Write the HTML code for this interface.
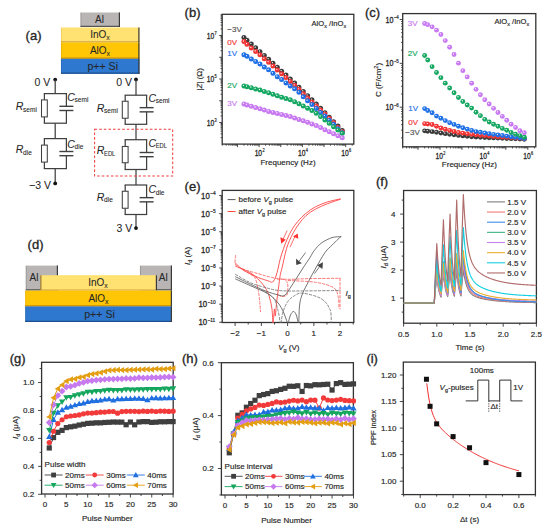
<!DOCTYPE html>
<html><head><meta charset="utf-8"><style>
html,body{margin:0;padding:0;background:#fff;overflow:hidden;}
svg{display:block;font-family:"Liberation Sans", sans-serif;}
</style></head><body>
<svg width="550" height="529" viewBox="0 0 550 529">
<rect width="550" height="529" fill="#fff"/>
<text x="25.60" y="39.90" font-size="13" text-anchor="start" fill="#262626" stroke="#262626" stroke-width="0.35">(a)</text>
<rect x="80.50" y="12.50" width="39.50" height="14.50" fill="#b9b5b5" stroke="none" stroke-width="1"/>
<line x1="80.50" y1="26.40" x2="120.00" y2="26.40" stroke="#555" stroke-width="1.2"/>
<line x1="119.40" y1="12.50" x2="119.40" y2="27.00" stroke="#3a3a3a" stroke-width="1.2"/>
<line x1="80.90" y1="12.50" x2="80.90" y2="27.00" stroke="#555" stroke-width="0.6" stroke-opacity="0.5"/>
<rect x="61.00" y="27.50" width="78.50" height="15.00" fill="#ffe272" stroke="none" stroke-width="1"/>
<line x1="61.00" y1="41.90" x2="139.50" y2="41.90" stroke="#d2a040" stroke-width="1.2"/>
<line x1="138.90" y1="27.50" x2="138.90" y2="42.50" stroke="#3a3a3a" stroke-width="1.2"/>
<line x1="61.40" y1="27.50" x2="61.40" y2="42.50" stroke="#d2a040" stroke-width="0.6" stroke-opacity="0.5"/>
<rect x="61.00" y="42.50" width="78.50" height="16.30" fill="#ffc606" stroke="none" stroke-width="1"/>
<line x1="61.00" y1="58.20" x2="139.50" y2="58.20" stroke="#c88a00" stroke-width="1.2"/>
<line x1="138.90" y1="42.50" x2="138.90" y2="58.80" stroke="#3a3a3a" stroke-width="1.2"/>
<line x1="61.40" y1="42.50" x2="61.40" y2="58.80" stroke="#c88a00" stroke-width="0.6" stroke-opacity="0.5"/>
<rect x="61.00" y="58.80" width="78.50" height="15.00" fill="#2f78cf" stroke="none" stroke-width="1"/>
<line x1="61.00" y1="73.20" x2="139.50" y2="73.20" stroke="#1c4f90" stroke-width="1.2"/>
<line x1="138.90" y1="58.80" x2="138.90" y2="73.80" stroke="#3a3a3a" stroke-width="1.2"/>
<line x1="61.40" y1="58.80" x2="61.40" y2="73.80" stroke="#1c4f90" stroke-width="0.6" stroke-opacity="0.5"/>
<text x="99.50" y="23.40" font-size="10" text-anchor="middle" fill="#262626" stroke="#262626" stroke-width="0.06">Al</text>
<text x="100.00" y="37.80" font-size="10" text-anchor="middle" fill="#262626" stroke="#262626" stroke-width="0.06">InO<tspan font-size="7" dy="2.5">x</tspan></text>
<text x="100.00" y="53.80" font-size="10" text-anchor="middle" fill="#262626" stroke="#262626" stroke-width="0.06">AlO<tspan font-size="7" dy="2.5">x</tspan></text>
<text x="102.70" y="69.80" font-size="10.6" text-anchor="middle" fill="#262626" stroke="#262626" stroke-width="0.06">p++ Si</text>
<circle cx="55.2" cy="79.6" r="1.9" fill="#111"/>
<line x1="55.20" y1="79.80" x2="55.20" y2="93.60" stroke="#404040" stroke-width="1.25"/>
<line x1="43.80" y1="93.60" x2="67.00" y2="93.60" stroke="#404040" stroke-width="1.25"/>
<line x1="43.80" y1="123.20" x2="67.00" y2="123.20" stroke="#404040" stroke-width="1.25"/>
<line x1="44.40" y1="93.60" x2="44.40" y2="99.90" stroke="#404040" stroke-width="1.25"/>
<line x1="44.40" y1="116.90" x2="44.40" y2="123.20" stroke="#404040" stroke-width="1.25"/>
<rect x="41.50" y="99.90" width="5.80" height="17.00" fill="white" stroke="#404040" stroke-width="1.05"/>
<line x1="66.40" y1="93.60" x2="66.40" y2="106.30" stroke="#404040" stroke-width="1.25"/>
<line x1="66.40" y1="110.50" x2="66.40" y2="123.20" stroke="#404040" stroke-width="1.25"/>
<line x1="59.40" y1="106.30" x2="73.40" y2="106.30" stroke="#404040" stroke-width="1.4"/>
<line x1="59.40" y1="110.50" x2="73.40" y2="110.50" stroke="#404040" stroke-width="1.4"/>
<line x1="55.20" y1="123.20" x2="55.20" y2="138.60" stroke="#404040" stroke-width="1.25"/>
<line x1="43.80" y1="138.60" x2="67.00" y2="138.60" stroke="#404040" stroke-width="1.25"/>
<line x1="43.80" y1="168.60" x2="67.00" y2="168.60" stroke="#404040" stroke-width="1.25"/>
<line x1="44.40" y1="138.60" x2="44.40" y2="145.10" stroke="#404040" stroke-width="1.25"/>
<line x1="44.40" y1="162.10" x2="44.40" y2="168.60" stroke="#404040" stroke-width="1.25"/>
<rect x="41.50" y="145.10" width="5.80" height="17.00" fill="white" stroke="#404040" stroke-width="1.05"/>
<line x1="66.40" y1="138.60" x2="66.40" y2="151.50" stroke="#404040" stroke-width="1.25"/>
<line x1="66.40" y1="155.70" x2="66.40" y2="168.60" stroke="#404040" stroke-width="1.25"/>
<line x1="59.40" y1="151.50" x2="73.40" y2="151.50" stroke="#404040" stroke-width="1.4"/>
<line x1="59.40" y1="155.70" x2="73.40" y2="155.70" stroke="#404040" stroke-width="1.4"/>
<line x1="55.20" y1="168.60" x2="55.20" y2="183.40" stroke="#404040" stroke-width="1.25"/>
<circle cx="55.2" cy="183.4" r="1.9" fill="#111"/>
<text x="34.50" y="86.30" font-size="10.5" text-anchor="start" fill="#262626" stroke="#262626" stroke-width="0.06">0 V</text>
<text x="29.00" y="188.50" font-size="10.5" text-anchor="start" fill="#262626" stroke="#262626" stroke-width="0.06">&#8722;3 V</text>
<text x="15.80" y="110.00" font-size="10.5" text-anchor="start" fill="#262626" stroke="#262626" stroke-width="0.06" font-style="italic">R</text>
<g transform="translate(23.08 111.80) scale(0.87 1)"><text x="0" y="0" font-size="7.5" fill="#262626" stroke="#262626" stroke-width="0.1">semi</text></g>
<text x="67.30" y="100.60" font-size="10.5" text-anchor="start" fill="#262626" stroke="#262626" stroke-width="0.06" font-style="italic">C</text>
<g transform="translate(74.58 102.40) scale(0.87 1)"><text x="0" y="0" font-size="7.5" fill="#262626" stroke="#262626" stroke-width="0.1">semi</text></g>
<text x="15.80" y="153.30" font-size="10.5" text-anchor="start" fill="#262626" stroke="#262626" stroke-width="0.06" font-style="italic">R</text>
<g transform="translate(23.08 155.10) scale(0.87 1)"><text x="0" y="0" font-size="7.5" fill="#262626" stroke="#262626" stroke-width="0.1">die</text></g>
<text x="67.30" y="147.60" font-size="10.5" text-anchor="start" fill="#262626" stroke="#262626" stroke-width="0.06" font-style="italic">C</text>
<g transform="translate(74.58 149.40) scale(0.87 1)"><text x="0" y="0" font-size="7.5" fill="#262626" stroke="#262626" stroke-width="0.1">die</text></g>
<circle cx="136.0" cy="79.4" r="1.9" fill="#111"/>
<line x1="136.00" y1="79.60" x2="136.00" y2="95.20" stroke="#404040" stroke-width="1.25"/>
<line x1="124.60" y1="95.20" x2="147.20" y2="95.20" stroke="#404040" stroke-width="1.25"/>
<line x1="124.60" y1="124.30" x2="147.20" y2="124.30" stroke="#404040" stroke-width="1.25"/>
<line x1="125.20" y1="95.20" x2="125.20" y2="101.25" stroke="#404040" stroke-width="1.25"/>
<line x1="125.20" y1="118.25" x2="125.20" y2="124.30" stroke="#404040" stroke-width="1.25"/>
<rect x="122.30" y="101.25" width="5.80" height="17.00" fill="white" stroke="#404040" stroke-width="1.05"/>
<line x1="146.60" y1="95.20" x2="146.60" y2="107.65" stroke="#404040" stroke-width="1.25"/>
<line x1="146.60" y1="111.85" x2="146.60" y2="124.30" stroke="#404040" stroke-width="1.25"/>
<line x1="139.60" y1="107.65" x2="153.60" y2="107.65" stroke="#404040" stroke-width="1.4"/>
<line x1="139.60" y1="111.85" x2="153.60" y2="111.85" stroke="#404040" stroke-width="1.4"/>
<line x1="136.00" y1="124.30" x2="136.00" y2="139.70" stroke="#404040" stroke-width="1.25"/>
<line x1="124.60" y1="139.70" x2="147.20" y2="139.70" stroke="#404040" stroke-width="1.25"/>
<line x1="124.60" y1="169.50" x2="147.20" y2="169.50" stroke="#404040" stroke-width="1.25"/>
<line x1="125.20" y1="139.70" x2="125.20" y2="146.45" stroke="#404040" stroke-width="1.25"/>
<line x1="125.20" y1="162.75" x2="125.20" y2="169.50" stroke="#404040" stroke-width="1.25"/>
<rect x="122.30" y="146.45" width="5.80" height="16.30" fill="white" stroke="#404040" stroke-width="1.05"/>
<line x1="146.60" y1="139.70" x2="146.60" y2="152.50" stroke="#404040" stroke-width="1.25"/>
<line x1="146.60" y1="156.70" x2="146.60" y2="169.50" stroke="#404040" stroke-width="1.25"/>
<line x1="139.60" y1="152.50" x2="153.60" y2="152.50" stroke="#404040" stroke-width="1.4"/>
<line x1="139.60" y1="156.70" x2="153.60" y2="156.70" stroke="#404040" stroke-width="1.4"/>
<line x1="136.00" y1="169.50" x2="136.00" y2="185.00" stroke="#404040" stroke-width="1.25"/>
<line x1="124.60" y1="185.00" x2="147.20" y2="185.00" stroke="#404040" stroke-width="1.25"/>
<line x1="124.60" y1="214.50" x2="147.20" y2="214.50" stroke="#404040" stroke-width="1.25"/>
<line x1="125.20" y1="185.00" x2="125.20" y2="191.25" stroke="#404040" stroke-width="1.25"/>
<line x1="125.20" y1="208.25" x2="125.20" y2="214.50" stroke="#404040" stroke-width="1.25"/>
<rect x="122.30" y="191.25" width="5.80" height="17.00" fill="white" stroke="#404040" stroke-width="1.05"/>
<line x1="146.60" y1="185.00" x2="146.60" y2="197.65" stroke="#404040" stroke-width="1.25"/>
<line x1="146.60" y1="201.85" x2="146.60" y2="214.50" stroke="#404040" stroke-width="1.25"/>
<line x1="139.60" y1="197.65" x2="153.60" y2="197.65" stroke="#404040" stroke-width="1.4"/>
<line x1="139.60" y1="201.85" x2="153.60" y2="201.85" stroke="#404040" stroke-width="1.4"/>
<line x1="136.00" y1="214.50" x2="136.00" y2="228.10" stroke="#404040" stroke-width="1.25"/>
<circle cx="136.0" cy="228.1" r="1.9" fill="#111"/>
<text x="116.30" y="86.10" font-size="10.5" text-anchor="start" fill="#262626" stroke="#262626" stroke-width="0.06">0 V</text>
<text x="116.50" y="231.90" font-size="10.5" text-anchor="start" fill="#262626" stroke="#262626" stroke-width="0.06">3 V</text>
<text x="96.80" y="111.50" font-size="10.5" text-anchor="start" fill="#262626" stroke="#262626" stroke-width="0.06" font-style="italic">R</text>
<g transform="translate(104.08 113.30) scale(0.87 1)"><text x="0" y="0" font-size="7.5" fill="#262626" stroke="#262626" stroke-width="0.1">semi</text></g>
<text x="148.50" y="101.60" font-size="10.5" text-anchor="start" fill="#262626" stroke="#262626" stroke-width="0.06" font-style="italic">C</text>
<g transform="translate(155.78 103.40) scale(0.87 1)"><text x="0" y="0" font-size="7.5" fill="#262626" stroke="#262626" stroke-width="0.1">semi</text></g>
<text x="96.80" y="154.40" font-size="10.5" text-anchor="start" fill="#262626" stroke="#262626" stroke-width="0.06" font-style="italic">R</text>
<g transform="translate(104.08 156.20) scale(0.82 1)"><text x="0" y="0" font-size="7.0" fill="#262626" stroke="#262626" stroke-width="0.1">EDL</text></g>
<text x="148.50" y="146.60" font-size="10.5" text-anchor="start" fill="#262626" stroke="#262626" stroke-width="0.06" font-style="italic">C</text>
<g transform="translate(155.78 148.40) scale(0.82 1)"><text x="0" y="0" font-size="7.0" fill="#262626" stroke="#262626" stroke-width="0.1">EDL</text></g>
<text x="96.80" y="200.50" font-size="10.5" text-anchor="start" fill="#262626" stroke="#262626" stroke-width="0.06" font-style="italic">R</text>
<g transform="translate(104.08 202.30) scale(0.87 1)"><text x="0" y="0" font-size="7.5" fill="#262626" stroke="#262626" stroke-width="0.1">die</text></g>
<text x="148.50" y="193.10" font-size="10.5" text-anchor="start" fill="#262626" stroke="#262626" stroke-width="0.06" font-style="italic">C</text>
<g transform="translate(155.78 194.90) scale(0.87 1)"><text x="0" y="0" font-size="7.5" fill="#262626" stroke="#262626" stroke-width="0.1">die</text></g>
<rect x="94.60" y="129.30" width="78.10" height="46.70" fill="none" stroke="#f04040" stroke-width="1.05" stroke-dasharray="2.6,2"/>
<text x="27.60" y="248.60" font-size="13" text-anchor="start" fill="#262626" stroke="#262626" stroke-width="0.35">(d)</text>
<rect x="25.80" y="265.60" width="32.20" height="24.80" fill="#b9b5b5" stroke="none" stroke-width="1"/>
<line x1="25.80" y1="289.80" x2="58.00" y2="289.80" stroke="#555" stroke-width="1.2"/>
<line x1="57.40" y1="265.60" x2="57.40" y2="290.40" stroke="#3a3a3a" stroke-width="1.2"/>
<line x1="26.20" y1="265.60" x2="26.20" y2="290.40" stroke="#555" stroke-width="0.6" stroke-opacity="0.5"/>
<rect x="140.00" y="265.60" width="32.00" height="24.80" fill="#b9b5b5" stroke="none" stroke-width="1"/>
<line x1="140.00" y1="289.80" x2="172.00" y2="289.80" stroke="#555" stroke-width="1.2"/>
<line x1="171.40" y1="265.60" x2="171.40" y2="290.40" stroke="#3a3a3a" stroke-width="1.2"/>
<line x1="140.40" y1="265.60" x2="140.40" y2="290.40" stroke="#555" stroke-width="0.6" stroke-opacity="0.5"/>
<rect x="40.40" y="275.20" width="116.60" height="15.40" fill="#ffe272" stroke="none" stroke-width="1"/>
<line x1="40.40" y1="290.00" x2="157.00" y2="290.00" stroke="#d2a040" stroke-width="1.2"/>
<line x1="156.40" y1="275.20" x2="156.40" y2="290.60" stroke="#3a3a3a" stroke-width="1.2"/>
<line x1="40.80" y1="275.20" x2="40.80" y2="290.60" stroke="#d2a040" stroke-width="0.6" stroke-opacity="0.5"/>
<line x1="40.90" y1="275.20" x2="40.90" y2="290.00" stroke="#8a6a30" stroke-width="1.0"/>
<rect x="25.20" y="290.60" width="146.80" height="15.80" fill="#ffc606" stroke="none" stroke-width="1"/>
<line x1="25.20" y1="305.80" x2="172.00" y2="305.80" stroke="#c88a00" stroke-width="1.2"/>
<line x1="171.40" y1="290.60" x2="171.40" y2="306.40" stroke="#3a3a3a" stroke-width="1.2"/>
<line x1="25.60" y1="290.60" x2="25.60" y2="306.40" stroke="#c88a00" stroke-width="0.6" stroke-opacity="0.5"/>
<rect x="25.20" y="306.40" width="146.80" height="15.60" fill="#2f78cf" stroke="none" stroke-width="1"/>
<line x1="25.20" y1="321.40" x2="172.00" y2="321.40" stroke="#1c4f90" stroke-width="1.2"/>
<line x1="171.40" y1="306.40" x2="171.40" y2="322.00" stroke="#3a3a3a" stroke-width="1.2"/>
<line x1="25.60" y1="306.40" x2="25.60" y2="322.00" stroke="#1c4f90" stroke-width="0.6" stroke-opacity="0.5"/>
<text x="34.00" y="281.40" font-size="10" text-anchor="middle" fill="#262626" stroke="#262626" stroke-width="0.06">Al</text>
<text x="163.30" y="281.40" font-size="10" text-anchor="middle" fill="#262626" stroke="#262626" stroke-width="0.06">Al</text>
<text x="98.00" y="285.60" font-size="10" text-anchor="middle" fill="#262626" stroke="#262626" stroke-width="0.06">InO<tspan font-size="7" dy="2.5">x</tspan></text>
<text x="98.50" y="301.60" font-size="10" text-anchor="middle" fill="#262626" stroke="#262626" stroke-width="0.06">AlO<tspan font-size="7" dy="2.5">x</tspan></text>
<text x="99.50" y="317.60" font-size="10.6" text-anchor="middle" fill="#262626" stroke="#262626" stroke-width="0.06">p++ Si</text>
<defs>
<radialGradient id="sp_k" cx="0.4" cy="0.38" r="0.7"><stop offset="0" stop-color="#ffffff" stop-opacity="0.8"/><stop offset="0.3" stop-color="#3a3a3a"/><stop offset="1" stop-color="#3a3a3a"/></radialGradient>
<radialGradient id="sp_r" cx="0.4" cy="0.38" r="0.7"><stop offset="0" stop-color="#ffffff" stop-opacity="0.8"/><stop offset="0.3" stop-color="#f23434"/><stop offset="1" stop-color="#f23434"/></radialGradient>
<radialGradient id="sp_b" cx="0.4" cy="0.38" r="0.7"><stop offset="0" stop-color="#ffffff" stop-opacity="0.8"/><stop offset="0.3" stop-color="#1f70e6"/><stop offset="1" stop-color="#1f70e6"/></radialGradient>
<radialGradient id="sp_g" cx="0.4" cy="0.38" r="0.7"><stop offset="0" stop-color="#ffffff" stop-opacity="0.8"/><stop offset="0.3" stop-color="#16a862"/><stop offset="1" stop-color="#16a862"/></radialGradient>
<radialGradient id="sp_p" cx="0.4" cy="0.38" r="0.7"><stop offset="0" stop-color="#ffffff" stop-opacity="0.8"/><stop offset="0.3" stop-color="#c879f2"/><stop offset="1" stop-color="#c879f2"/></radialGradient>
</defs>
<text x="184.60" y="16.70" font-size="13" text-anchor="start" fill="#262626" stroke="#262626" stroke-width="0.35">(b)</text>
<line x1="222.32" y1="144.10" x2="222.32" y2="145.70" stroke="#333" stroke-width="0.9"/>
<line x1="226.13" y1="144.10" x2="226.13" y2="145.70" stroke="#333" stroke-width="0.9"/>
<line x1="228.83" y1="144.10" x2="228.83" y2="145.70" stroke="#333" stroke-width="0.9"/>
<line x1="230.93" y1="144.10" x2="230.93" y2="145.70" stroke="#333" stroke-width="0.9"/>
<line x1="232.65" y1="144.10" x2="232.65" y2="145.70" stroke="#333" stroke-width="0.9"/>
<line x1="234.10" y1="144.10" x2="234.10" y2="145.70" stroke="#333" stroke-width="0.9"/>
<line x1="235.35" y1="144.10" x2="235.35" y2="145.70" stroke="#333" stroke-width="0.9"/>
<line x1="236.46" y1="144.10" x2="236.46" y2="145.70" stroke="#333" stroke-width="0.9"/>
<line x1="237.45" y1="144.10" x2="237.45" y2="147.10" stroke="#333" stroke-width="0.9"/>
<line x1="243.97" y1="144.10" x2="243.97" y2="145.70" stroke="#333" stroke-width="0.9"/>
<line x1="247.78" y1="144.10" x2="247.78" y2="145.70" stroke="#333" stroke-width="0.9"/>
<line x1="250.48" y1="144.10" x2="250.48" y2="145.70" stroke="#333" stroke-width="0.9"/>
<line x1="252.58" y1="144.10" x2="252.58" y2="145.70" stroke="#333" stroke-width="0.9"/>
<line x1="254.30" y1="144.10" x2="254.30" y2="145.70" stroke="#333" stroke-width="0.9"/>
<line x1="255.75" y1="144.10" x2="255.75" y2="145.70" stroke="#333" stroke-width="0.9"/>
<line x1="257.00" y1="144.10" x2="257.00" y2="145.70" stroke="#333" stroke-width="0.9"/>
<line x1="258.11" y1="144.10" x2="258.11" y2="145.70" stroke="#333" stroke-width="0.9"/>
<line x1="259.10" y1="144.10" x2="259.10" y2="147.10" stroke="#333" stroke-width="0.9"/>
<line x1="265.62" y1="144.10" x2="265.62" y2="145.70" stroke="#333" stroke-width="0.9"/>
<line x1="269.43" y1="144.10" x2="269.43" y2="145.70" stroke="#333" stroke-width="0.9"/>
<line x1="272.13" y1="144.10" x2="272.13" y2="145.70" stroke="#333" stroke-width="0.9"/>
<line x1="274.23" y1="144.10" x2="274.23" y2="145.70" stroke="#333" stroke-width="0.9"/>
<line x1="275.95" y1="144.10" x2="275.95" y2="145.70" stroke="#333" stroke-width="0.9"/>
<line x1="277.40" y1="144.10" x2="277.40" y2="145.70" stroke="#333" stroke-width="0.9"/>
<line x1="278.65" y1="144.10" x2="278.65" y2="145.70" stroke="#333" stroke-width="0.9"/>
<line x1="279.76" y1="144.10" x2="279.76" y2="145.70" stroke="#333" stroke-width="0.9"/>
<line x1="280.75" y1="144.10" x2="280.75" y2="147.10" stroke="#333" stroke-width="0.9"/>
<line x1="287.27" y1="144.10" x2="287.27" y2="145.70" stroke="#333" stroke-width="0.9"/>
<line x1="291.08" y1="144.10" x2="291.08" y2="145.70" stroke="#333" stroke-width="0.9"/>
<line x1="293.78" y1="144.10" x2="293.78" y2="145.70" stroke="#333" stroke-width="0.9"/>
<line x1="295.88" y1="144.10" x2="295.88" y2="145.70" stroke="#333" stroke-width="0.9"/>
<line x1="297.60" y1="144.10" x2="297.60" y2="145.70" stroke="#333" stroke-width="0.9"/>
<line x1="299.05" y1="144.10" x2="299.05" y2="145.70" stroke="#333" stroke-width="0.9"/>
<line x1="300.30" y1="144.10" x2="300.30" y2="145.70" stroke="#333" stroke-width="0.9"/>
<line x1="301.41" y1="144.10" x2="301.41" y2="145.70" stroke="#333" stroke-width="0.9"/>
<line x1="302.40" y1="144.10" x2="302.40" y2="147.10" stroke="#333" stroke-width="0.9"/>
<line x1="308.92" y1="144.10" x2="308.92" y2="145.70" stroke="#333" stroke-width="0.9"/>
<line x1="312.73" y1="144.10" x2="312.73" y2="145.70" stroke="#333" stroke-width="0.9"/>
<line x1="315.43" y1="144.10" x2="315.43" y2="145.70" stroke="#333" stroke-width="0.9"/>
<line x1="317.53" y1="144.10" x2="317.53" y2="145.70" stroke="#333" stroke-width="0.9"/>
<line x1="319.25" y1="144.10" x2="319.25" y2="145.70" stroke="#333" stroke-width="0.9"/>
<line x1="320.70" y1="144.10" x2="320.70" y2="145.70" stroke="#333" stroke-width="0.9"/>
<line x1="321.95" y1="144.10" x2="321.95" y2="145.70" stroke="#333" stroke-width="0.9"/>
<line x1="323.06" y1="144.10" x2="323.06" y2="145.70" stroke="#333" stroke-width="0.9"/>
<line x1="324.05" y1="144.10" x2="324.05" y2="147.10" stroke="#333" stroke-width="0.9"/>
<line x1="330.57" y1="144.10" x2="330.57" y2="145.70" stroke="#333" stroke-width="0.9"/>
<line x1="334.38" y1="144.10" x2="334.38" y2="145.70" stroke="#333" stroke-width="0.9"/>
<line x1="337.08" y1="144.10" x2="337.08" y2="145.70" stroke="#333" stroke-width="0.9"/>
<line x1="339.18" y1="144.10" x2="339.18" y2="145.70" stroke="#333" stroke-width="0.9"/>
<line x1="340.90" y1="144.10" x2="340.90" y2="145.70" stroke="#333" stroke-width="0.9"/>
<line x1="342.35" y1="144.10" x2="342.35" y2="145.70" stroke="#333" stroke-width="0.9"/>
<line x1="343.60" y1="144.10" x2="343.60" y2="145.70" stroke="#333" stroke-width="0.9"/>
<line x1="344.71" y1="144.10" x2="344.71" y2="145.70" stroke="#333" stroke-width="0.9"/>
<line x1="345.70" y1="144.10" x2="345.70" y2="147.10" stroke="#333" stroke-width="0.9"/>
<line x1="352.22" y1="144.10" x2="352.22" y2="145.70" stroke="#333" stroke-width="0.9"/>
<line x1="222.20" y1="137.70" x2="220.60" y2="137.70" stroke="#333" stroke-width="0.9"/>
<line x1="222.20" y1="133.87" x2="220.60" y2="133.87" stroke="#333" stroke-width="0.9"/>
<line x1="222.20" y1="131.16" x2="220.60" y2="131.16" stroke="#333" stroke-width="0.9"/>
<line x1="222.20" y1="129.05" x2="220.60" y2="129.05" stroke="#333" stroke-width="0.9"/>
<line x1="222.20" y1="127.33" x2="220.60" y2="127.33" stroke="#333" stroke-width="0.9"/>
<line x1="222.20" y1="125.87" x2="220.60" y2="125.87" stroke="#333" stroke-width="0.9"/>
<line x1="222.20" y1="124.61" x2="220.60" y2="124.61" stroke="#333" stroke-width="0.9"/>
<line x1="222.20" y1="123.50" x2="220.60" y2="123.50" stroke="#333" stroke-width="0.9"/>
<line x1="222.20" y1="122.50" x2="219.20" y2="122.50" stroke="#333" stroke-width="0.9"/>
<line x1="222.20" y1="115.95" x2="220.60" y2="115.95" stroke="#333" stroke-width="0.9"/>
<line x1="222.20" y1="112.12" x2="220.60" y2="112.12" stroke="#333" stroke-width="0.9"/>
<line x1="222.20" y1="109.41" x2="220.60" y2="109.41" stroke="#333" stroke-width="0.9"/>
<line x1="222.20" y1="107.30" x2="220.60" y2="107.30" stroke="#333" stroke-width="0.9"/>
<line x1="222.20" y1="105.58" x2="220.60" y2="105.58" stroke="#333" stroke-width="0.9"/>
<line x1="222.20" y1="104.12" x2="220.60" y2="104.12" stroke="#333" stroke-width="0.9"/>
<line x1="222.20" y1="102.86" x2="220.60" y2="102.86" stroke="#333" stroke-width="0.9"/>
<line x1="222.20" y1="101.75" x2="220.60" y2="101.75" stroke="#333" stroke-width="0.9"/>
<line x1="222.20" y1="100.75" x2="219.20" y2="100.75" stroke="#333" stroke-width="0.9"/>
<line x1="222.20" y1="94.20" x2="220.60" y2="94.20" stroke="#333" stroke-width="0.9"/>
<line x1="222.20" y1="90.37" x2="220.60" y2="90.37" stroke="#333" stroke-width="0.9"/>
<line x1="222.20" y1="87.66" x2="220.60" y2="87.66" stroke="#333" stroke-width="0.9"/>
<line x1="222.20" y1="85.55" x2="220.60" y2="85.55" stroke="#333" stroke-width="0.9"/>
<line x1="222.20" y1="83.83" x2="220.60" y2="83.83" stroke="#333" stroke-width="0.9"/>
<line x1="222.20" y1="82.37" x2="220.60" y2="82.37" stroke="#333" stroke-width="0.9"/>
<line x1="222.20" y1="81.11" x2="220.60" y2="81.11" stroke="#333" stroke-width="0.9"/>
<line x1="222.20" y1="80.00" x2="220.60" y2="80.00" stroke="#333" stroke-width="0.9"/>
<line x1="222.20" y1="79.00" x2="219.20" y2="79.00" stroke="#333" stroke-width="0.9"/>
<line x1="222.20" y1="72.45" x2="220.60" y2="72.45" stroke="#333" stroke-width="0.9"/>
<line x1="222.20" y1="68.62" x2="220.60" y2="68.62" stroke="#333" stroke-width="0.9"/>
<line x1="222.20" y1="65.91" x2="220.60" y2="65.91" stroke="#333" stroke-width="0.9"/>
<line x1="222.20" y1="63.80" x2="220.60" y2="63.80" stroke="#333" stroke-width="0.9"/>
<line x1="222.20" y1="62.08" x2="220.60" y2="62.08" stroke="#333" stroke-width="0.9"/>
<line x1="222.20" y1="60.62" x2="220.60" y2="60.62" stroke="#333" stroke-width="0.9"/>
<line x1="222.20" y1="59.36" x2="220.60" y2="59.36" stroke="#333" stroke-width="0.9"/>
<line x1="222.20" y1="58.25" x2="220.60" y2="58.25" stroke="#333" stroke-width="0.9"/>
<line x1="222.20" y1="57.25" x2="219.20" y2="57.25" stroke="#333" stroke-width="0.9"/>
<line x1="222.20" y1="50.70" x2="220.60" y2="50.70" stroke="#333" stroke-width="0.9"/>
<line x1="222.20" y1="46.87" x2="220.60" y2="46.87" stroke="#333" stroke-width="0.9"/>
<line x1="222.20" y1="44.16" x2="220.60" y2="44.16" stroke="#333" stroke-width="0.9"/>
<line x1="222.20" y1="42.05" x2="220.60" y2="42.05" stroke="#333" stroke-width="0.9"/>
<line x1="222.20" y1="40.33" x2="220.60" y2="40.33" stroke="#333" stroke-width="0.9"/>
<line x1="222.20" y1="38.87" x2="220.60" y2="38.87" stroke="#333" stroke-width="0.9"/>
<line x1="222.20" y1="37.61" x2="220.60" y2="37.61" stroke="#333" stroke-width="0.9"/>
<line x1="222.20" y1="36.50" x2="220.60" y2="36.50" stroke="#333" stroke-width="0.9"/>
<line x1="222.20" y1="35.50" x2="219.20" y2="35.50" stroke="#333" stroke-width="0.9"/>
<line x1="222.20" y1="28.95" x2="220.60" y2="28.95" stroke="#333" stroke-width="0.9"/>
<line x1="222.20" y1="25.12" x2="220.60" y2="25.12" stroke="#333" stroke-width="0.9"/>
<line x1="222.20" y1="22.41" x2="220.60" y2="22.41" stroke="#333" stroke-width="0.9"/>
<line x1="222.20" y1="20.30" x2="220.60" y2="20.30" stroke="#333" stroke-width="0.9"/>
<line x1="222.20" y1="18.58" x2="220.60" y2="18.58" stroke="#333" stroke-width="0.9"/>
<line x1="222.20" y1="17.12" x2="220.60" y2="17.12" stroke="#333" stroke-width="0.9"/>
<line x1="222.20" y1="15.86" x2="220.60" y2="15.86" stroke="#333" stroke-width="0.9"/>
<line x1="222.20" y1="14.75" x2="220.60" y2="14.75" stroke="#333" stroke-width="0.9"/>
<rect x="222.20" y="14.30" width="131.60" height="129.80" fill="none" stroke="#333" stroke-width="1.3"/>
<g transform="translate(254.64 156.28) scale(0.78 1)"><text x="0" y="0" font-size="8.6" fill="#262626" stroke="#262626" stroke-width="0.3">10</text><text x="9.95" y="-3.80" font-size="5.0" fill="#262626" stroke="#262626" stroke-width="0.21">2</text></g>
<g transform="translate(297.94 156.28) scale(0.78 1)"><text x="0" y="0" font-size="8.6" fill="#262626" stroke="#262626" stroke-width="0.3">10</text><text x="9.95" y="-3.80" font-size="5.0" fill="#262626" stroke="#262626" stroke-width="0.21">4</text></g>
<g transform="translate(341.24 156.28) scale(0.78 1)"><text x="0" y="0" font-size="8.6" fill="#262626" stroke="#262626" stroke-width="0.3">10</text><text x="9.95" y="-3.80" font-size="5.0" fill="#262626" stroke="#262626" stroke-width="0.21">6</text></g>
<g transform="translate(206.67 125.58) scale(0.78 1)"><text x="0" y="0" font-size="8.6" fill="#262626" stroke="#262626" stroke-width="0.3">10</text><text x="9.95" y="-3.80" font-size="5.0" fill="#262626" stroke="#262626" stroke-width="0.21">3</text></g>
<g transform="translate(206.67 82.08) scale(0.78 1)"><text x="0" y="0" font-size="8.6" fill="#262626" stroke="#262626" stroke-width="0.3">10</text><text x="9.95" y="-3.80" font-size="5.0" fill="#262626" stroke="#262626" stroke-width="0.21">5</text></g>
<g transform="translate(206.67 38.58) scale(0.78 1)"><text x="0" y="0" font-size="8.6" fill="#262626" stroke="#262626" stroke-width="0.3">10</text><text x="9.95" y="-3.80" font-size="5.0" fill="#262626" stroke="#262626" stroke-width="0.21">7</text></g>
<text x="288.00" y="165.20" font-size="8" text-anchor="middle" fill="#262626" stroke="#262626" stroke-width="0.16">Frequency (Hz)</text>
<text x="202.00" y="79.30" font-size="8" text-anchor="middle" fill="#262626" stroke="#262626" stroke-width="0.16" transform="rotate(-90 202.00 79.30)">|<tspan font-style="italic">Z</tspan>| (&#937;)</text>
<text x="311.50" y="25.80" font-size="7.6" text-anchor="start" fill="#262626" stroke="#262626" stroke-width="0.16">AlO<tspan font-size="5.5" dy="2">x</tspan><tspan dy="-2"> /InO</tspan><tspan font-size="5.5" dy="2">x</tspan></text>
<text x="227.30" y="31.80" font-size="8" text-anchor="start" fill="#555" stroke="#555" stroke-width="0.16">&#8722;3V</text>
<text x="227.30" y="44.80" font-size="8" text-anchor="start" fill="#f23434" stroke="#f23434" stroke-width="0.16">0V</text>
<text x="227.30" y="55.60" font-size="8" text-anchor="start" fill="#1f70e6" stroke="#1f70e6" stroke-width="0.16">1V</text>
<text x="227.30" y="87.90" font-size="8" text-anchor="start" fill="#16a862" stroke="#16a862" stroke-width="0.16">2V</text>
<text x="227.30" y="105.90" font-size="8" text-anchor="start" fill="#c879f2" stroke="#c879f2" stroke-width="0.16">3V</text>
<circle cx="243.95" cy="37.50" r="2.5" fill="url(#sp_k)"/>
<circle cx="246.98" cy="40.13" r="2.5" fill="url(#sp_k)"/>
<circle cx="251.31" cy="43.96" r="2.5" fill="url(#sp_k)"/>
<circle cx="255.64" cy="47.80" r="2.5" fill="url(#sp_k)"/>
<circle cx="259.97" cy="51.63" r="2.5" fill="url(#sp_k)"/>
<circle cx="264.30" cy="55.46" r="2.5" fill="url(#sp_k)"/>
<circle cx="268.63" cy="59.30" r="2.5" fill="url(#sp_k)"/>
<circle cx="272.96" cy="63.24" r="2.5" fill="url(#sp_k)"/>
<circle cx="277.29" cy="67.18" r="2.5" fill="url(#sp_k)"/>
<circle cx="281.62" cy="71.13" r="2.5" fill="url(#sp_k)"/>
<circle cx="285.95" cy="75.07" r="2.5" fill="url(#sp_k)"/>
<circle cx="290.28" cy="79.02" r="2.5" fill="url(#sp_k)"/>
<circle cx="294.61" cy="82.99" r="2.5" fill="url(#sp_k)"/>
<circle cx="298.94" cy="87.20" r="2.5" fill="url(#sp_k)"/>
<circle cx="303.27" cy="91.42" r="2.5" fill="url(#sp_k)"/>
<circle cx="307.60" cy="95.63" r="2.5" fill="url(#sp_k)"/>
<circle cx="311.93" cy="99.84" r="2.5" fill="url(#sp_k)"/>
<circle cx="316.26" cy="104.05" r="2.5" fill="url(#sp_k)"/>
<circle cx="320.59" cy="108.31" r="2.5" fill="url(#sp_k)"/>
<circle cx="324.92" cy="112.75" r="2.5" fill="url(#sp_k)"/>
<circle cx="329.25" cy="117.20" r="2.5" fill="url(#sp_k)"/>
<circle cx="333.58" cy="121.65" r="2.5" fill="url(#sp_k)"/>
<circle cx="337.91" cy="126.10" r="2.5" fill="url(#sp_k)"/>
<circle cx="342.24" cy="130.54" r="2.5" fill="url(#sp_k)"/>
<circle cx="243.95" cy="41.60" r="2.5" fill="url(#sp_r)"/>
<circle cx="246.98" cy="44.22" r="2.5" fill="url(#sp_r)"/>
<circle cx="251.31" cy="47.99" r="2.5" fill="url(#sp_r)"/>
<circle cx="255.64" cy="51.46" r="2.5" fill="url(#sp_r)"/>
<circle cx="259.97" cy="54.65" r="2.5" fill="url(#sp_r)"/>
<circle cx="264.30" cy="58.71" r="2.5" fill="url(#sp_r)"/>
<circle cx="268.63" cy="62.29" r="2.5" fill="url(#sp_r)"/>
<circle cx="272.96" cy="66.11" r="2.5" fill="url(#sp_r)"/>
<circle cx="277.29" cy="70.03" r="2.5" fill="url(#sp_r)"/>
<circle cx="281.62" cy="73.87" r="2.5" fill="url(#sp_r)"/>
<circle cx="285.95" cy="77.60" r="2.5" fill="url(#sp_r)"/>
<circle cx="290.28" cy="81.44" r="2.5" fill="url(#sp_r)"/>
<circle cx="294.61" cy="85.45" r="2.5" fill="url(#sp_r)"/>
<circle cx="298.94" cy="89.35" r="2.5" fill="url(#sp_r)"/>
<circle cx="303.27" cy="93.85" r="2.5" fill="url(#sp_r)"/>
<circle cx="307.60" cy="98.04" r="2.5" fill="url(#sp_r)"/>
<circle cx="311.93" cy="101.96" r="2.5" fill="url(#sp_r)"/>
<circle cx="316.26" cy="105.92" r="2.5" fill="url(#sp_r)"/>
<circle cx="320.59" cy="110.00" r="2.5" fill="url(#sp_r)"/>
<circle cx="324.92" cy="113.92" r="2.5" fill="url(#sp_r)"/>
<circle cx="329.25" cy="118.29" r="2.5" fill="url(#sp_r)"/>
<circle cx="333.58" cy="122.84" r="2.5" fill="url(#sp_r)"/>
<circle cx="337.91" cy="127.43" r="2.5" fill="url(#sp_r)"/>
<circle cx="342.24" cy="131.76" r="2.5" fill="url(#sp_r)"/>
<circle cx="243.95" cy="54.72" r="2.5" fill="url(#sp_b)"/>
<circle cx="246.98" cy="56.29" r="2.5" fill="url(#sp_b)"/>
<circle cx="251.31" cy="58.95" r="2.5" fill="url(#sp_b)"/>
<circle cx="255.64" cy="61.46" r="2.5" fill="url(#sp_b)"/>
<circle cx="259.97" cy="63.97" r="2.5" fill="url(#sp_b)"/>
<circle cx="264.30" cy="67.11" r="2.5" fill="url(#sp_b)"/>
<circle cx="268.63" cy="69.86" r="2.5" fill="url(#sp_b)"/>
<circle cx="272.96" cy="73.36" r="2.5" fill="url(#sp_b)"/>
<circle cx="277.29" cy="76.71" r="2.5" fill="url(#sp_b)"/>
<circle cx="281.62" cy="79.55" r="2.5" fill="url(#sp_b)"/>
<circle cx="285.95" cy="82.94" r="2.5" fill="url(#sp_b)"/>
<circle cx="290.28" cy="85.92" r="2.5" fill="url(#sp_b)"/>
<circle cx="294.61" cy="88.86" r="2.5" fill="url(#sp_b)"/>
<circle cx="298.94" cy="92.35" r="2.5" fill="url(#sp_b)"/>
<circle cx="303.27" cy="96.81" r="2.5" fill="url(#sp_b)"/>
<circle cx="307.60" cy="100.73" r="2.5" fill="url(#sp_b)"/>
<circle cx="311.93" cy="104.54" r="2.5" fill="url(#sp_b)"/>
<circle cx="316.26" cy="108.42" r="2.5" fill="url(#sp_b)"/>
<circle cx="320.59" cy="112.44" r="2.5" fill="url(#sp_b)"/>
<circle cx="324.92" cy="116.08" r="2.5" fill="url(#sp_b)"/>
<circle cx="329.25" cy="120.19" r="2.5" fill="url(#sp_b)"/>
<circle cx="333.58" cy="124.34" r="2.5" fill="url(#sp_b)"/>
<circle cx="337.91" cy="128.82" r="2.5" fill="url(#sp_b)"/>
<circle cx="342.24" cy="132.66" r="2.5" fill="url(#sp_b)"/>
<circle cx="243.95" cy="85.99" r="2.5" fill="url(#sp_g)"/>
<circle cx="246.98" cy="86.67" r="2.5" fill="url(#sp_g)"/>
<circle cx="251.31" cy="87.67" r="2.5" fill="url(#sp_g)"/>
<circle cx="255.64" cy="88.89" r="2.5" fill="url(#sp_g)"/>
<circle cx="259.97" cy="90.11" r="2.5" fill="url(#sp_g)"/>
<circle cx="264.30" cy="91.40" r="2.5" fill="url(#sp_g)"/>
<circle cx="268.63" cy="92.72" r="2.5" fill="url(#sp_g)"/>
<circle cx="272.96" cy="94.30" r="2.5" fill="url(#sp_g)"/>
<circle cx="277.29" cy="95.85" r="2.5" fill="url(#sp_g)"/>
<circle cx="281.62" cy="97.23" r="2.5" fill="url(#sp_g)"/>
<circle cx="285.95" cy="98.59" r="2.5" fill="url(#sp_g)"/>
<circle cx="290.28" cy="99.69" r="2.5" fill="url(#sp_g)"/>
<circle cx="294.61" cy="101.63" r="2.5" fill="url(#sp_g)"/>
<circle cx="298.94" cy="103.67" r="2.5" fill="url(#sp_g)"/>
<circle cx="303.27" cy="105.89" r="2.5" fill="url(#sp_g)"/>
<circle cx="307.60" cy="108.14" r="2.5" fill="url(#sp_g)"/>
<circle cx="311.93" cy="110.61" r="2.5" fill="url(#sp_g)"/>
<circle cx="316.26" cy="113.21" r="2.5" fill="url(#sp_g)"/>
<circle cx="320.59" cy="116.58" r="2.5" fill="url(#sp_g)"/>
<circle cx="324.92" cy="119.96" r="2.5" fill="url(#sp_g)"/>
<circle cx="329.25" cy="123.36" r="2.5" fill="url(#sp_g)"/>
<circle cx="333.58" cy="126.73" r="2.5" fill="url(#sp_g)"/>
<circle cx="337.91" cy="129.98" r="2.5" fill="url(#sp_g)"/>
<circle cx="342.24" cy="133.32" r="2.5" fill="url(#sp_g)"/>
<circle cx="243.95" cy="103.89" r="2.5" fill="url(#sp_p)"/>
<circle cx="246.98" cy="104.93" r="2.5" fill="url(#sp_p)"/>
<circle cx="251.31" cy="106.37" r="2.5" fill="url(#sp_p)"/>
<circle cx="255.64" cy="107.59" r="2.5" fill="url(#sp_p)"/>
<circle cx="259.97" cy="108.81" r="2.5" fill="url(#sp_p)"/>
<circle cx="264.30" cy="110.10" r="2.5" fill="url(#sp_p)"/>
<circle cx="268.63" cy="111.38" r="2.5" fill="url(#sp_p)"/>
<circle cx="272.96" cy="112.40" r="2.5" fill="url(#sp_p)"/>
<circle cx="277.29" cy="113.42" r="2.5" fill="url(#sp_p)"/>
<circle cx="281.62" cy="114.50" r="2.5" fill="url(#sp_p)"/>
<circle cx="285.95" cy="115.58" r="2.5" fill="url(#sp_p)"/>
<circle cx="290.28" cy="116.60" r="2.5" fill="url(#sp_p)"/>
<circle cx="294.61" cy="118.03" r="2.5" fill="url(#sp_p)"/>
<circle cx="298.94" cy="119.50" r="2.5" fill="url(#sp_p)"/>
<circle cx="303.27" cy="120.84" r="2.5" fill="url(#sp_p)"/>
<circle cx="307.60" cy="122.23" r="2.5" fill="url(#sp_p)"/>
<circle cx="311.93" cy="123.89" r="2.5" fill="url(#sp_p)"/>
<circle cx="316.26" cy="125.61" r="2.5" fill="url(#sp_p)"/>
<circle cx="320.59" cy="127.62" r="2.5" fill="url(#sp_p)"/>
<circle cx="324.92" cy="129.64" r="2.5" fill="url(#sp_p)"/>
<circle cx="329.25" cy="131.70" r="2.5" fill="url(#sp_p)"/>
<circle cx="333.58" cy="133.74" r="2.5" fill="url(#sp_p)"/>
<circle cx="337.91" cy="135.71" r="2.5" fill="url(#sp_p)"/>
<circle cx="342.24" cy="137.76" r="2.5" fill="url(#sp_p)"/>
<text x="364.90" y="16.70" font-size="13" text-anchor="start" fill="#262626" stroke="#262626" stroke-width="0.35">(c)</text>
<line x1="402.71" y1="146.80" x2="402.71" y2="148.40" stroke="#333" stroke-width="0.9"/>
<line x1="406.57" y1="146.80" x2="406.57" y2="148.40" stroke="#333" stroke-width="0.9"/>
<line x1="409.32" y1="146.80" x2="409.32" y2="148.40" stroke="#333" stroke-width="0.9"/>
<line x1="411.44" y1="146.80" x2="411.44" y2="148.40" stroke="#333" stroke-width="0.9"/>
<line x1="413.18" y1="146.80" x2="413.18" y2="148.40" stroke="#333" stroke-width="0.9"/>
<line x1="414.65" y1="146.80" x2="414.65" y2="148.40" stroke="#333" stroke-width="0.9"/>
<line x1="415.92" y1="146.80" x2="415.92" y2="148.40" stroke="#333" stroke-width="0.9"/>
<line x1="417.05" y1="146.80" x2="417.05" y2="148.40" stroke="#333" stroke-width="0.9"/>
<line x1="418.05" y1="146.80" x2="418.05" y2="149.80" stroke="#333" stroke-width="0.9"/>
<line x1="424.66" y1="146.80" x2="424.66" y2="148.40" stroke="#333" stroke-width="0.9"/>
<line x1="428.52" y1="146.80" x2="428.52" y2="148.40" stroke="#333" stroke-width="0.9"/>
<line x1="431.27" y1="146.80" x2="431.27" y2="148.40" stroke="#333" stroke-width="0.9"/>
<line x1="433.39" y1="146.80" x2="433.39" y2="148.40" stroke="#333" stroke-width="0.9"/>
<line x1="435.13" y1="146.80" x2="435.13" y2="148.40" stroke="#333" stroke-width="0.9"/>
<line x1="436.60" y1="146.80" x2="436.60" y2="148.40" stroke="#333" stroke-width="0.9"/>
<line x1="437.87" y1="146.80" x2="437.87" y2="148.40" stroke="#333" stroke-width="0.9"/>
<line x1="439.00" y1="146.80" x2="439.00" y2="148.40" stroke="#333" stroke-width="0.9"/>
<line x1="440.00" y1="146.80" x2="440.00" y2="149.80" stroke="#333" stroke-width="0.9"/>
<line x1="446.61" y1="146.80" x2="446.61" y2="148.40" stroke="#333" stroke-width="0.9"/>
<line x1="450.47" y1="146.80" x2="450.47" y2="148.40" stroke="#333" stroke-width="0.9"/>
<line x1="453.22" y1="146.80" x2="453.22" y2="148.40" stroke="#333" stroke-width="0.9"/>
<line x1="455.34" y1="146.80" x2="455.34" y2="148.40" stroke="#333" stroke-width="0.9"/>
<line x1="457.08" y1="146.80" x2="457.08" y2="148.40" stroke="#333" stroke-width="0.9"/>
<line x1="458.55" y1="146.80" x2="458.55" y2="148.40" stroke="#333" stroke-width="0.9"/>
<line x1="459.82" y1="146.80" x2="459.82" y2="148.40" stroke="#333" stroke-width="0.9"/>
<line x1="460.95" y1="146.80" x2="460.95" y2="148.40" stroke="#333" stroke-width="0.9"/>
<line x1="461.95" y1="146.80" x2="461.95" y2="149.80" stroke="#333" stroke-width="0.9"/>
<line x1="468.56" y1="146.80" x2="468.56" y2="148.40" stroke="#333" stroke-width="0.9"/>
<line x1="472.42" y1="146.80" x2="472.42" y2="148.40" stroke="#333" stroke-width="0.9"/>
<line x1="475.17" y1="146.80" x2="475.17" y2="148.40" stroke="#333" stroke-width="0.9"/>
<line x1="477.29" y1="146.80" x2="477.29" y2="148.40" stroke="#333" stroke-width="0.9"/>
<line x1="479.03" y1="146.80" x2="479.03" y2="148.40" stroke="#333" stroke-width="0.9"/>
<line x1="480.50" y1="146.80" x2="480.50" y2="148.40" stroke="#333" stroke-width="0.9"/>
<line x1="481.77" y1="146.80" x2="481.77" y2="148.40" stroke="#333" stroke-width="0.9"/>
<line x1="482.90" y1="146.80" x2="482.90" y2="148.40" stroke="#333" stroke-width="0.9"/>
<line x1="483.90" y1="146.80" x2="483.90" y2="149.80" stroke="#333" stroke-width="0.9"/>
<line x1="490.51" y1="146.80" x2="490.51" y2="148.40" stroke="#333" stroke-width="0.9"/>
<line x1="494.37" y1="146.80" x2="494.37" y2="148.40" stroke="#333" stroke-width="0.9"/>
<line x1="497.12" y1="146.80" x2="497.12" y2="148.40" stroke="#333" stroke-width="0.9"/>
<line x1="499.24" y1="146.80" x2="499.24" y2="148.40" stroke="#333" stroke-width="0.9"/>
<line x1="500.98" y1="146.80" x2="500.98" y2="148.40" stroke="#333" stroke-width="0.9"/>
<line x1="502.45" y1="146.80" x2="502.45" y2="148.40" stroke="#333" stroke-width="0.9"/>
<line x1="503.72" y1="146.80" x2="503.72" y2="148.40" stroke="#333" stroke-width="0.9"/>
<line x1="504.85" y1="146.80" x2="504.85" y2="148.40" stroke="#333" stroke-width="0.9"/>
<line x1="505.85" y1="146.80" x2="505.85" y2="149.80" stroke="#333" stroke-width="0.9"/>
<line x1="512.46" y1="146.80" x2="512.46" y2="148.40" stroke="#333" stroke-width="0.9"/>
<line x1="516.32" y1="146.80" x2="516.32" y2="148.40" stroke="#333" stroke-width="0.9"/>
<line x1="519.07" y1="146.80" x2="519.07" y2="148.40" stroke="#333" stroke-width="0.9"/>
<line x1="521.19" y1="146.80" x2="521.19" y2="148.40" stroke="#333" stroke-width="0.9"/>
<line x1="522.93" y1="146.80" x2="522.93" y2="148.40" stroke="#333" stroke-width="0.9"/>
<line x1="524.40" y1="146.80" x2="524.40" y2="148.40" stroke="#333" stroke-width="0.9"/>
<line x1="525.67" y1="146.80" x2="525.67" y2="148.40" stroke="#333" stroke-width="0.9"/>
<line x1="526.80" y1="146.80" x2="526.80" y2="148.40" stroke="#333" stroke-width="0.9"/>
<line x1="527.80" y1="146.80" x2="527.80" y2="149.80" stroke="#333" stroke-width="0.9"/>
<line x1="534.41" y1="146.80" x2="534.41" y2="148.40" stroke="#333" stroke-width="0.9"/>
<line x1="402.70" y1="137.85" x2="401.10" y2="137.85" stroke="#333" stroke-width="0.9"/>
<line x1="402.70" y1="130.13" x2="401.10" y2="130.13" stroke="#333" stroke-width="0.9"/>
<line x1="402.70" y1="124.65" x2="401.10" y2="124.65" stroke="#333" stroke-width="0.9"/>
<line x1="402.70" y1="120.40" x2="401.10" y2="120.40" stroke="#333" stroke-width="0.9"/>
<line x1="402.70" y1="116.93" x2="401.10" y2="116.93" stroke="#333" stroke-width="0.9"/>
<line x1="402.70" y1="113.99" x2="401.10" y2="113.99" stroke="#333" stroke-width="0.9"/>
<line x1="402.70" y1="111.45" x2="401.10" y2="111.45" stroke="#333" stroke-width="0.9"/>
<line x1="402.70" y1="109.21" x2="401.10" y2="109.21" stroke="#333" stroke-width="0.9"/>
<line x1="402.70" y1="107.20" x2="399.70" y2="107.20" stroke="#333" stroke-width="0.9"/>
<line x1="402.70" y1="94.00" x2="401.10" y2="94.00" stroke="#333" stroke-width="0.9"/>
<line x1="402.70" y1="86.28" x2="401.10" y2="86.28" stroke="#333" stroke-width="0.9"/>
<line x1="402.70" y1="80.80" x2="401.10" y2="80.80" stroke="#333" stroke-width="0.9"/>
<line x1="402.70" y1="76.55" x2="401.10" y2="76.55" stroke="#333" stroke-width="0.9"/>
<line x1="402.70" y1="73.08" x2="401.10" y2="73.08" stroke="#333" stroke-width="0.9"/>
<line x1="402.70" y1="70.14" x2="401.10" y2="70.14" stroke="#333" stroke-width="0.9"/>
<line x1="402.70" y1="67.60" x2="401.10" y2="67.60" stroke="#333" stroke-width="0.9"/>
<line x1="402.70" y1="65.36" x2="401.10" y2="65.36" stroke="#333" stroke-width="0.9"/>
<line x1="402.70" y1="63.35" x2="399.70" y2="63.35" stroke="#333" stroke-width="0.9"/>
<line x1="402.70" y1="50.15" x2="401.10" y2="50.15" stroke="#333" stroke-width="0.9"/>
<line x1="402.70" y1="42.43" x2="401.10" y2="42.43" stroke="#333" stroke-width="0.9"/>
<line x1="402.70" y1="36.95" x2="401.10" y2="36.95" stroke="#333" stroke-width="0.9"/>
<line x1="402.70" y1="32.70" x2="401.10" y2="32.70" stroke="#333" stroke-width="0.9"/>
<line x1="402.70" y1="29.23" x2="401.10" y2="29.23" stroke="#333" stroke-width="0.9"/>
<line x1="402.70" y1="26.29" x2="401.10" y2="26.29" stroke="#333" stroke-width="0.9"/>
<line x1="402.70" y1="23.75" x2="401.10" y2="23.75" stroke="#333" stroke-width="0.9"/>
<line x1="402.70" y1="21.51" x2="401.10" y2="21.51" stroke="#333" stroke-width="0.9"/>
<line x1="402.70" y1="19.50" x2="399.70" y2="19.50" stroke="#333" stroke-width="0.9"/>
<rect x="402.70" y="13.60" width="133.10" height="133.20" fill="none" stroke="#333" stroke-width="1.3"/>
<g transform="translate(435.54 158.88) scale(0.78 1)"><text x="0" y="0" font-size="8.6" fill="#262626" stroke="#262626" stroke-width="0.3">10</text><text x="9.95" y="-3.80" font-size="5.0" fill="#262626" stroke="#262626" stroke-width="0.21">2</text></g>
<g transform="translate(479.44 158.88) scale(0.78 1)"><text x="0" y="0" font-size="8.6" fill="#262626" stroke="#262626" stroke-width="0.3">10</text><text x="9.95" y="-3.80" font-size="5.0" fill="#262626" stroke="#262626" stroke-width="0.21">4</text></g>
<g transform="translate(523.34 158.88) scale(0.78 1)"><text x="0" y="0" font-size="8.6" fill="#262626" stroke="#262626" stroke-width="0.3">10</text><text x="9.95" y="-3.80" font-size="5.0" fill="#262626" stroke="#262626" stroke-width="0.21">6</text></g>
<g transform="translate(385.52 22.51) scale(0.85 1)"><text x="0" y="0" font-size="8.4" fill="#262626" stroke="#262626" stroke-width="0.3">10</text><text x="9.69" y="-3.60" font-size="5.2" fill="#262626" stroke="#262626" stroke-width="0.21">&#8722;4</text></g>
<g transform="translate(385.52 66.36) scale(0.85 1)"><text x="0" y="0" font-size="8.4" fill="#262626" stroke="#262626" stroke-width="0.3">10</text><text x="9.69" y="-3.60" font-size="5.2" fill="#262626" stroke="#262626" stroke-width="0.21">&#8722;5</text></g>
<g transform="translate(385.52 110.21) scale(0.85 1)"><text x="0" y="0" font-size="8.4" fill="#262626" stroke="#262626" stroke-width="0.3">10</text><text x="9.69" y="-3.60" font-size="5.2" fill="#262626" stroke="#262626" stroke-width="0.21">&#8722;6</text></g>
<text x="469.40" y="167.40" font-size="8" text-anchor="middle" fill="#262626" stroke="#262626" stroke-width="0.16">Frequency (Hz)</text>
<text x="381.30" y="80.00" font-size="8" text-anchor="middle" fill="#262626" stroke="#262626" stroke-width="0.16" transform="rotate(-90 381.30 80.00)">C (F/cm<tspan font-size="5.5" dy="-3">2</tspan><tspan dy="3">)</tspan></text>
<text x="494.50" y="23.80" font-size="7.6" text-anchor="start" fill="#262626" stroke="#262626" stroke-width="0.16">AlO<tspan font-size="5.5" dy="2">x</tspan><tspan dy="-2"> /InO</tspan><tspan font-size="5.5" dy="2">x</tspan></text>
<text x="407.80" y="25.50" font-size="8" text-anchor="start" fill="#c879f2" stroke="#c879f2" stroke-width="0.16">3V</text>
<text x="407.80" y="56.40" font-size="8" text-anchor="start" fill="#16a862" stroke="#16a862" stroke-width="0.16">2V</text>
<text x="408.30" y="110.50" font-size="8" text-anchor="start" fill="#1f70e6" stroke="#1f70e6" stroke-width="0.16">1V</text>
<text x="408.30" y="124.70" font-size="8" text-anchor="start" fill="#f23434" stroke="#f23434" stroke-width="0.16">0V</text>
<text x="405.30" y="134.70" font-size="8" text-anchor="start" fill="#555" stroke="#555" stroke-width="0.16">&#8722;3V</text>
<circle cx="424.63" cy="130.84" r="2.45" fill="url(#sp_k)"/>
<circle cx="427.71" cy="131.18" r="2.45" fill="url(#sp_k)"/>
<circle cx="432.10" cy="131.67" r="2.45" fill="url(#sp_k)"/>
<circle cx="436.49" cy="132.32" r="2.45" fill="url(#sp_k)"/>
<circle cx="440.88" cy="132.98" r="2.45" fill="url(#sp_k)"/>
<circle cx="445.27" cy="133.66" r="2.45" fill="url(#sp_k)"/>
<circle cx="449.66" cy="134.35" r="2.45" fill="url(#sp_k)"/>
<circle cx="454.05" cy="134.87" r="2.45" fill="url(#sp_k)"/>
<circle cx="458.44" cy="135.38" r="2.45" fill="url(#sp_k)"/>
<circle cx="462.83" cy="135.89" r="2.45" fill="url(#sp_k)"/>
<circle cx="467.22" cy="136.30" r="2.45" fill="url(#sp_k)"/>
<circle cx="471.61" cy="136.71" r="2.45" fill="url(#sp_k)"/>
<circle cx="476.00" cy="137.11" r="2.45" fill="url(#sp_k)"/>
<circle cx="480.39" cy="137.30" r="2.45" fill="url(#sp_k)"/>
<circle cx="484.78" cy="137.49" r="2.45" fill="url(#sp_k)"/>
<circle cx="489.17" cy="137.69" r="2.45" fill="url(#sp_k)"/>
<circle cx="493.56" cy="137.88" r="2.45" fill="url(#sp_k)"/>
<circle cx="497.95" cy="138.07" r="2.45" fill="url(#sp_k)"/>
<circle cx="502.34" cy="138.26" r="2.45" fill="url(#sp_k)"/>
<circle cx="506.73" cy="138.45" r="2.45" fill="url(#sp_k)"/>
<circle cx="511.12" cy="138.65" r="2.45" fill="url(#sp_k)"/>
<circle cx="515.51" cy="138.84" r="2.45" fill="url(#sp_k)"/>
<circle cx="519.90" cy="139.03" r="2.45" fill="url(#sp_k)"/>
<circle cx="524.29" cy="139.22" r="2.45" fill="url(#sp_k)"/>
<circle cx="424.63" cy="123.64" r="2.45" fill="url(#sp_r)"/>
<circle cx="427.71" cy="123.98" r="2.45" fill="url(#sp_r)"/>
<circle cx="432.10" cy="124.47" r="2.45" fill="url(#sp_r)"/>
<circle cx="436.49" cy="126.21" r="2.45" fill="url(#sp_r)"/>
<circle cx="440.88" cy="128.05" r="2.45" fill="url(#sp_r)"/>
<circle cx="445.27" cy="129.24" r="2.45" fill="url(#sp_r)"/>
<circle cx="449.66" cy="130.41" r="2.45" fill="url(#sp_r)"/>
<circle cx="454.05" cy="131.49" r="2.45" fill="url(#sp_r)"/>
<circle cx="458.44" cy="132.56" r="2.45" fill="url(#sp_r)"/>
<circle cx="462.83" cy="133.17" r="2.45" fill="url(#sp_r)"/>
<circle cx="467.22" cy="133.77" r="2.45" fill="url(#sp_r)"/>
<circle cx="471.61" cy="134.36" r="2.45" fill="url(#sp_r)"/>
<circle cx="476.00" cy="134.79" r="2.45" fill="url(#sp_r)"/>
<circle cx="480.39" cy="135.20" r="2.45" fill="url(#sp_r)"/>
<circle cx="484.78" cy="135.61" r="2.45" fill="url(#sp_r)"/>
<circle cx="489.17" cy="136.02" r="2.45" fill="url(#sp_r)"/>
<circle cx="493.56" cy="136.40" r="2.45" fill="url(#sp_r)"/>
<circle cx="497.95" cy="136.69" r="2.45" fill="url(#sp_r)"/>
<circle cx="502.34" cy="136.98" r="2.45" fill="url(#sp_r)"/>
<circle cx="506.73" cy="137.27" r="2.45" fill="url(#sp_r)"/>
<circle cx="511.12" cy="137.56" r="2.45" fill="url(#sp_r)"/>
<circle cx="515.51" cy="137.85" r="2.45" fill="url(#sp_r)"/>
<circle cx="519.90" cy="138.14" r="2.45" fill="url(#sp_r)"/>
<circle cx="524.29" cy="138.43" r="2.45" fill="url(#sp_r)"/>
<circle cx="424.63" cy="108.62" r="2.45" fill="url(#sp_b)"/>
<circle cx="427.71" cy="110.55" r="2.45" fill="url(#sp_b)"/>
<circle cx="432.10" cy="112.75" r="2.45" fill="url(#sp_b)"/>
<circle cx="436.49" cy="116.09" r="2.45" fill="url(#sp_b)"/>
<circle cx="440.88" cy="118.24" r="2.45" fill="url(#sp_b)"/>
<circle cx="445.27" cy="120.58" r="2.45" fill="url(#sp_b)"/>
<circle cx="449.66" cy="122.64" r="2.45" fill="url(#sp_b)"/>
<circle cx="454.05" cy="124.40" r="2.45" fill="url(#sp_b)"/>
<circle cx="458.44" cy="126.23" r="2.45" fill="url(#sp_b)"/>
<circle cx="462.83" cy="127.77" r="2.45" fill="url(#sp_b)"/>
<circle cx="467.22" cy="129.10" r="2.45" fill="url(#sp_b)"/>
<circle cx="471.61" cy="130.41" r="2.45" fill="url(#sp_b)"/>
<circle cx="476.00" cy="131.60" r="2.45" fill="url(#sp_b)"/>
<circle cx="480.39" cy="132.31" r="2.45" fill="url(#sp_b)"/>
<circle cx="484.78" cy="133.02" r="2.45" fill="url(#sp_b)"/>
<circle cx="489.17" cy="133.73" r="2.45" fill="url(#sp_b)"/>
<circle cx="493.56" cy="134.39" r="2.45" fill="url(#sp_b)"/>
<circle cx="497.95" cy="134.96" r="2.45" fill="url(#sp_b)"/>
<circle cx="502.34" cy="135.54" r="2.45" fill="url(#sp_b)"/>
<circle cx="506.73" cy="136.11" r="2.45" fill="url(#sp_b)"/>
<circle cx="511.12" cy="136.69" r="2.45" fill="url(#sp_b)"/>
<circle cx="515.51" cy="137.28" r="2.45" fill="url(#sp_b)"/>
<circle cx="519.90" cy="137.87" r="2.45" fill="url(#sp_b)"/>
<circle cx="524.29" cy="138.46" r="2.45" fill="url(#sp_b)"/>
<circle cx="424.63" cy="55.50" r="2.45" fill="url(#sp_g)"/>
<circle cx="427.71" cy="60.06" r="2.45" fill="url(#sp_g)"/>
<circle cx="432.10" cy="66.65" r="2.45" fill="url(#sp_g)"/>
<circle cx="436.49" cy="72.48" r="2.45" fill="url(#sp_g)"/>
<circle cx="440.88" cy="77.66" r="2.45" fill="url(#sp_g)"/>
<circle cx="445.27" cy="83.16" r="2.45" fill="url(#sp_g)"/>
<circle cx="449.66" cy="87.93" r="2.45" fill="url(#sp_g)"/>
<circle cx="454.05" cy="92.82" r="2.45" fill="url(#sp_g)"/>
<circle cx="458.44" cy="97.43" r="2.45" fill="url(#sp_g)"/>
<circle cx="462.83" cy="101.43" r="2.45" fill="url(#sp_g)"/>
<circle cx="467.22" cy="105.05" r="2.45" fill="url(#sp_g)"/>
<circle cx="471.61" cy="108.10" r="2.45" fill="url(#sp_g)"/>
<circle cx="476.00" cy="112.25" r="2.45" fill="url(#sp_g)"/>
<circle cx="480.39" cy="115.65" r="2.45" fill="url(#sp_g)"/>
<circle cx="484.78" cy="119.33" r="2.45" fill="url(#sp_g)"/>
<circle cx="489.17" cy="121.94" r="2.45" fill="url(#sp_g)"/>
<circle cx="493.56" cy="124.27" r="2.45" fill="url(#sp_g)"/>
<circle cx="497.95" cy="126.32" r="2.45" fill="url(#sp_g)"/>
<circle cx="502.34" cy="128.40" r="2.45" fill="url(#sp_g)"/>
<circle cx="506.73" cy="130.27" r="2.45" fill="url(#sp_g)"/>
<circle cx="511.12" cy="132.51" r="2.45" fill="url(#sp_g)"/>
<circle cx="515.51" cy="134.23" r="2.45" fill="url(#sp_g)"/>
<circle cx="519.90" cy="135.58" r="2.45" fill="url(#sp_g)"/>
<circle cx="524.29" cy="137.24" r="2.45" fill="url(#sp_g)"/>
<circle cx="424.63" cy="23.50" r="2.45" fill="url(#sp_p)"/>
<circle cx="427.71" cy="24.65" r="2.45" fill="url(#sp_p)"/>
<circle cx="432.10" cy="26.85" r="2.45" fill="url(#sp_p)"/>
<circle cx="436.49" cy="30.14" r="2.45" fill="url(#sp_p)"/>
<circle cx="440.88" cy="34.48" r="2.45" fill="url(#sp_p)"/>
<circle cx="445.27" cy="40.60" r="2.45" fill="url(#sp_p)"/>
<circle cx="449.66" cy="47.24" r="2.45" fill="url(#sp_p)"/>
<circle cx="454.05" cy="54.51" r="2.45" fill="url(#sp_p)"/>
<circle cx="458.44" cy="63.14" r="2.45" fill="url(#sp_p)"/>
<circle cx="462.83" cy="70.63" r="2.45" fill="url(#sp_p)"/>
<circle cx="467.22" cy="76.88" r="2.45" fill="url(#sp_p)"/>
<circle cx="471.61" cy="83.22" r="2.45" fill="url(#sp_p)"/>
<circle cx="476.00" cy="89.37" r="2.45" fill="url(#sp_p)"/>
<circle cx="480.39" cy="94.82" r="2.45" fill="url(#sp_p)"/>
<circle cx="484.78" cy="99.68" r="2.45" fill="url(#sp_p)"/>
<circle cx="489.17" cy="104.06" r="2.45" fill="url(#sp_p)"/>
<circle cx="493.56" cy="108.35" r="2.45" fill="url(#sp_p)"/>
<circle cx="497.95" cy="112.43" r="2.45" fill="url(#sp_p)"/>
<circle cx="502.34" cy="116.41" r="2.45" fill="url(#sp_p)"/>
<circle cx="506.73" cy="120.32" r="2.45" fill="url(#sp_p)"/>
<circle cx="511.12" cy="124.28" r="2.45" fill="url(#sp_p)"/>
<circle cx="515.51" cy="127.48" r="2.45" fill="url(#sp_p)"/>
<circle cx="519.90" cy="130.79" r="2.45" fill="url(#sp_p)"/>
<circle cx="524.29" cy="132.74" r="2.45" fill="url(#sp_p)"/>
<text x="184.60" y="190.60" font-size="13" text-anchor="start" fill="#262626" stroke="#262626" stroke-width="0.35">(e)</text>
<line x1="235.10" y1="322.50" x2="235.10" y2="326.00" stroke="#333" stroke-width="0.9"/>
<line x1="248.23" y1="322.50" x2="248.23" y2="324.50" stroke="#333" stroke-width="0.9"/>
<line x1="261.35" y1="322.50" x2="261.35" y2="326.00" stroke="#333" stroke-width="0.9"/>
<line x1="274.48" y1="322.50" x2="274.48" y2="324.50" stroke="#333" stroke-width="0.9"/>
<line x1="287.60" y1="322.50" x2="287.60" y2="326.00" stroke="#333" stroke-width="0.9"/>
<line x1="300.73" y1="322.50" x2="300.73" y2="324.50" stroke="#333" stroke-width="0.9"/>
<line x1="313.85" y1="322.50" x2="313.85" y2="326.00" stroke="#333" stroke-width="0.9"/>
<line x1="326.98" y1="322.50" x2="326.98" y2="324.50" stroke="#333" stroke-width="0.9"/>
<line x1="340.10" y1="322.50" x2="340.10" y2="326.00" stroke="#333" stroke-width="0.9"/>
<line x1="353.23" y1="322.50" x2="353.23" y2="324.50" stroke="#333" stroke-width="0.9"/>
<line x1="222.20" y1="322.27" x2="219.20" y2="322.27" stroke="#333" stroke-width="0.9"/>
<line x1="222.20" y1="316.82" x2="220.70" y2="316.82" stroke="#333" stroke-width="0.9"/>
<line x1="222.20" y1="313.63" x2="220.70" y2="313.63" stroke="#333" stroke-width="0.9"/>
<line x1="222.20" y1="311.37" x2="220.70" y2="311.37" stroke="#333" stroke-width="0.9"/>
<line x1="222.20" y1="309.61" x2="220.70" y2="309.61" stroke="#333" stroke-width="0.9"/>
<line x1="222.20" y1="308.18" x2="220.70" y2="308.18" stroke="#333" stroke-width="0.9"/>
<line x1="222.20" y1="306.97" x2="220.70" y2="306.97" stroke="#333" stroke-width="0.9"/>
<line x1="222.20" y1="305.92" x2="220.70" y2="305.92" stroke="#333" stroke-width="0.9"/>
<line x1="222.20" y1="304.99" x2="220.70" y2="304.99" stroke="#333" stroke-width="0.9"/>
<line x1="222.20" y1="304.16" x2="219.20" y2="304.16" stroke="#333" stroke-width="0.9"/>
<line x1="222.20" y1="298.71" x2="220.70" y2="298.71" stroke="#333" stroke-width="0.9"/>
<line x1="222.20" y1="295.52" x2="220.70" y2="295.52" stroke="#333" stroke-width="0.9"/>
<line x1="222.20" y1="293.26" x2="220.70" y2="293.26" stroke="#333" stroke-width="0.9"/>
<line x1="222.20" y1="291.50" x2="220.70" y2="291.50" stroke="#333" stroke-width="0.9"/>
<line x1="222.20" y1="290.07" x2="220.70" y2="290.07" stroke="#333" stroke-width="0.9"/>
<line x1="222.20" y1="288.86" x2="220.70" y2="288.86" stroke="#333" stroke-width="0.9"/>
<line x1="222.20" y1="287.81" x2="220.70" y2="287.81" stroke="#333" stroke-width="0.9"/>
<line x1="222.20" y1="286.88" x2="220.70" y2="286.88" stroke="#333" stroke-width="0.9"/>
<line x1="222.20" y1="286.05" x2="219.20" y2="286.05" stroke="#333" stroke-width="0.9"/>
<line x1="222.20" y1="280.60" x2="220.70" y2="280.60" stroke="#333" stroke-width="0.9"/>
<line x1="222.20" y1="277.41" x2="220.70" y2="277.41" stroke="#333" stroke-width="0.9"/>
<line x1="222.20" y1="275.15" x2="220.70" y2="275.15" stroke="#333" stroke-width="0.9"/>
<line x1="222.20" y1="273.39" x2="220.70" y2="273.39" stroke="#333" stroke-width="0.9"/>
<line x1="222.20" y1="271.96" x2="220.70" y2="271.96" stroke="#333" stroke-width="0.9"/>
<line x1="222.20" y1="270.75" x2="220.70" y2="270.75" stroke="#333" stroke-width="0.9"/>
<line x1="222.20" y1="269.70" x2="220.70" y2="269.70" stroke="#333" stroke-width="0.9"/>
<line x1="222.20" y1="268.77" x2="220.70" y2="268.77" stroke="#333" stroke-width="0.9"/>
<line x1="222.20" y1="267.94" x2="219.20" y2="267.94" stroke="#333" stroke-width="0.9"/>
<line x1="222.20" y1="262.49" x2="220.70" y2="262.49" stroke="#333" stroke-width="0.9"/>
<line x1="222.20" y1="259.30" x2="220.70" y2="259.30" stroke="#333" stroke-width="0.9"/>
<line x1="222.20" y1="257.04" x2="220.70" y2="257.04" stroke="#333" stroke-width="0.9"/>
<line x1="222.20" y1="255.28" x2="220.70" y2="255.28" stroke="#333" stroke-width="0.9"/>
<line x1="222.20" y1="253.85" x2="220.70" y2="253.85" stroke="#333" stroke-width="0.9"/>
<line x1="222.20" y1="252.64" x2="220.70" y2="252.64" stroke="#333" stroke-width="0.9"/>
<line x1="222.20" y1="251.59" x2="220.70" y2="251.59" stroke="#333" stroke-width="0.9"/>
<line x1="222.20" y1="250.66" x2="220.70" y2="250.66" stroke="#333" stroke-width="0.9"/>
<line x1="222.20" y1="249.83" x2="219.20" y2="249.83" stroke="#333" stroke-width="0.9"/>
<line x1="222.20" y1="244.38" x2="220.70" y2="244.38" stroke="#333" stroke-width="0.9"/>
<line x1="222.20" y1="241.19" x2="220.70" y2="241.19" stroke="#333" stroke-width="0.9"/>
<line x1="222.20" y1="238.93" x2="220.70" y2="238.93" stroke="#333" stroke-width="0.9"/>
<line x1="222.20" y1="237.17" x2="220.70" y2="237.17" stroke="#333" stroke-width="0.9"/>
<line x1="222.20" y1="235.74" x2="220.70" y2="235.74" stroke="#333" stroke-width="0.9"/>
<line x1="222.20" y1="234.53" x2="220.70" y2="234.53" stroke="#333" stroke-width="0.9"/>
<line x1="222.20" y1="233.48" x2="220.70" y2="233.48" stroke="#333" stroke-width="0.9"/>
<line x1="222.20" y1="232.55" x2="220.70" y2="232.55" stroke="#333" stroke-width="0.9"/>
<line x1="222.20" y1="231.72" x2="219.20" y2="231.72" stroke="#333" stroke-width="0.9"/>
<line x1="222.20" y1="226.27" x2="220.70" y2="226.27" stroke="#333" stroke-width="0.9"/>
<line x1="222.20" y1="223.08" x2="220.70" y2="223.08" stroke="#333" stroke-width="0.9"/>
<line x1="222.20" y1="220.82" x2="220.70" y2="220.82" stroke="#333" stroke-width="0.9"/>
<line x1="222.20" y1="219.06" x2="220.70" y2="219.06" stroke="#333" stroke-width="0.9"/>
<line x1="222.20" y1="217.63" x2="220.70" y2="217.63" stroke="#333" stroke-width="0.9"/>
<line x1="222.20" y1="216.42" x2="220.70" y2="216.42" stroke="#333" stroke-width="0.9"/>
<line x1="222.20" y1="215.37" x2="220.70" y2="215.37" stroke="#333" stroke-width="0.9"/>
<line x1="222.20" y1="214.44" x2="220.70" y2="214.44" stroke="#333" stroke-width="0.9"/>
<line x1="222.20" y1="213.61" x2="219.20" y2="213.61" stroke="#333" stroke-width="0.9"/>
<line x1="222.20" y1="208.16" x2="220.70" y2="208.16" stroke="#333" stroke-width="0.9"/>
<line x1="222.20" y1="204.97" x2="220.70" y2="204.97" stroke="#333" stroke-width="0.9"/>
<line x1="222.20" y1="202.71" x2="220.70" y2="202.71" stroke="#333" stroke-width="0.9"/>
<line x1="222.20" y1="200.95" x2="220.70" y2="200.95" stroke="#333" stroke-width="0.9"/>
<line x1="222.20" y1="199.52" x2="220.70" y2="199.52" stroke="#333" stroke-width="0.9"/>
<line x1="222.20" y1="198.31" x2="220.70" y2="198.31" stroke="#333" stroke-width="0.9"/>
<line x1="222.20" y1="197.26" x2="220.70" y2="197.26" stroke="#333" stroke-width="0.9"/>
<line x1="222.20" y1="196.33" x2="220.70" y2="196.33" stroke="#333" stroke-width="0.9"/>
<line x1="222.20" y1="195.50" x2="219.20" y2="195.50" stroke="#333" stroke-width="0.9"/>
<rect x="222.20" y="190.40" width="131.60" height="132.10" fill="none" stroke="#333" stroke-width="1.3"/>
<text x="235.10" y="336.00" font-size="8" text-anchor="middle" fill="#262626" stroke="#262626" stroke-width="0.16">&#8722;2</text>
<text x="261.35" y="336.00" font-size="8" text-anchor="middle" fill="#262626" stroke="#262626" stroke-width="0.16">&#8722;1</text>
<text x="287.60" y="336.00" font-size="8" text-anchor="middle" fill="#262626" stroke="#262626" stroke-width="0.16">0</text>
<text x="313.85" y="336.00" font-size="8" text-anchor="middle" fill="#262626" stroke="#262626" stroke-width="0.16">1</text>
<text x="340.10" y="336.00" font-size="8" text-anchor="middle" fill="#262626" stroke="#262626" stroke-width="0.16">2</text>
<g transform="translate(201.10 198.51) scale(0.93 1)"><text x="0" y="0" font-size="8.4" fill="#262626" stroke="#262626" stroke-width="0.3">10</text><text x="9.66" y="-3.40" font-size="5.2" fill="#262626" stroke="#262626" stroke-width="0.21">&#8722;4</text></g>
<g transform="translate(201.10 216.62) scale(0.93 1)"><text x="0" y="0" font-size="8.4" fill="#262626" stroke="#262626" stroke-width="0.3">10</text><text x="9.66" y="-3.40" font-size="5.2" fill="#262626" stroke="#262626" stroke-width="0.21">&#8722;5</text></g>
<g transform="translate(201.10 234.73) scale(0.93 1)"><text x="0" y="0" font-size="8.4" fill="#262626" stroke="#262626" stroke-width="0.3">10</text><text x="9.66" y="-3.40" font-size="5.2" fill="#262626" stroke="#262626" stroke-width="0.21">&#8722;6</text></g>
<g transform="translate(201.10 252.84) scale(0.93 1)"><text x="0" y="0" font-size="8.4" fill="#262626" stroke="#262626" stroke-width="0.3">10</text><text x="9.66" y="-3.40" font-size="5.2" fill="#262626" stroke="#262626" stroke-width="0.21">&#8722;7</text></g>
<g transform="translate(201.10 270.95) scale(0.93 1)"><text x="0" y="0" font-size="8.4" fill="#262626" stroke="#262626" stroke-width="0.3">10</text><text x="9.66" y="-3.40" font-size="5.2" fill="#262626" stroke="#262626" stroke-width="0.21">&#8722;8</text></g>
<g transform="translate(201.10 289.06) scale(0.93 1)"><text x="0" y="0" font-size="8.4" fill="#262626" stroke="#262626" stroke-width="0.3">10</text><text x="9.66" y="-3.40" font-size="5.2" fill="#262626" stroke="#262626" stroke-width="0.21">&#8722;9</text></g>
<g transform="translate(198.41 307.17) scale(0.93 1)"><text x="0" y="0" font-size="8.4" fill="#262626" stroke="#262626" stroke-width="0.3">10</text><text x="9.66" y="-3.40" font-size="5.2" fill="#262626" stroke="#262626" stroke-width="0.21">&#8722;10</text></g>
<g transform="translate(198.41 325.28) scale(0.93 1)"><text x="0" y="0" font-size="8.4" fill="#262626" stroke="#262626" stroke-width="0.3">10</text><text x="9.66" y="-3.40" font-size="5.2" fill="#262626" stroke="#262626" stroke-width="0.21">&#8722;11</text></g>
<text x="278.20" y="349.80" font-size="8" text-anchor="start" fill="#262626" stroke="#262626" stroke-width="0.16"><tspan font-style="italic">V</tspan><tspan font-size="5.5" dy="2">g</tspan><tspan dy="-2"> (V)</tspan></text>
<text x="190.30" y="256.00" font-size="8" text-anchor="middle" fill="#262626" stroke="#262626" stroke-width="0.16" transform="rotate(-90 190.30 256.00)"><tspan font-style="italic">I</tspan><tspan font-size="5.5" dy="2">d</tspan><tspan dy="-2"> (A)</tspan></text>
<line x1="227.60" y1="199.60" x2="235.50" y2="199.60" stroke="#555" stroke-width="1"/>
<text x="238.50" y="202.40" font-size="8" text-anchor="start" fill="#262626" stroke="#262626" stroke-width="0.16">before <tspan font-style="italic">V</tspan><tspan font-size="5.5" dy="2">g</tspan><tspan dy="-2"> pulse</tspan></text>
<line x1="227.60" y1="211.50" x2="235.50" y2="211.50" stroke="#f44" stroke-width="1"/>
<text x="238.50" y="214.30" font-size="8" text-anchor="start" fill="#262626" stroke="#262626" stroke-width="0.16">after <tspan font-style="italic">V</tspan><tspan font-size="5.5" dy="2">g</tspan><tspan dy="-2"> pulse</tspan></text>
<text x="345.50" y="296.00" font-size="8" text-anchor="start" fill="#262626" stroke="#262626" stroke-width="0.16"><tspan font-style="italic">I</tspan><tspan font-size="5.5" dy="2">g</tspan></text>
<clipPath id="eclip"><rect x="222.2" y="190.4" width="131.60000000000002" height="132.6"/></clipPath>
<g clip-path="url(#eclip)">
<path d="M235.60,263.20 C236.85,264.33 239.32,267.62 243.10,270.00 C246.88,272.38 254.15,275.70 258.30,277.50 C262.45,279.30 265.62,280.05 268.00,280.80 C270.38,281.55 271.27,282.80 272.60,282.00 C273.93,281.20 275.07,278.33 276.00,276.00 C276.93,273.67 277.50,270.83 278.20,268.00 C278.90,265.17 279.32,262.22 280.20,259.00 C281.08,255.78 282.35,251.98 283.50,248.70 C284.65,245.42 285.72,242.45 287.10,239.30 C288.48,236.15 290.03,232.77 291.80,229.80 C293.57,226.83 295.33,224.25 297.70,221.50 C300.07,218.75 303.03,215.75 306.00,213.30 C308.97,210.85 311.95,208.68 315.50,206.80 C319.05,204.92 323.17,203.32 327.30,202.00 C331.43,200.68 338.13,199.42 340.30,198.90" fill="none" stroke="#ff4545" stroke-width="0.9" stroke-linejoin="round" stroke-linecap="round"/>
<path d="M340.30,199.30 C338.13,200.05 331.43,202.17 327.30,203.80 C323.17,205.43 319.05,207.13 315.50,209.10 C311.95,211.07 308.77,213.13 306.00,215.60 C303.23,218.07 300.97,221.13 298.90,223.90 C296.83,226.67 295.17,229.43 293.60,232.20 C292.03,234.97 290.68,237.75 289.50,240.50 C288.32,243.25 287.42,245.62 286.50,248.70 C285.58,251.78 284.75,255.78 284.00,259.00 C283.25,262.22 282.63,265.28 282.00,268.00 C281.37,270.72 280.78,271.97 280.20,275.30 C279.62,278.63 279.10,283.47 278.50,288.00 C277.90,292.53 277.13,297.83 276.60,302.50 C276.07,307.17 275.67,314.92 275.30,316.00 C274.93,317.08 274.78,307.83 274.40,309.00 C274.02,310.17 273.42,323.08 273.00,323.00 C272.58,322.92 272.60,313.17 271.90,308.50 C271.20,303.83 270.32,299.03 268.80,295.00 C267.28,290.97 265.82,287.97 262.80,284.30 C259.78,280.63 255.23,276.02 250.70,273.00 C246.17,269.98 238.12,267.33 235.60,266.20" fill="none" stroke="#ff4545" stroke-width="0.9" stroke-linejoin="round" stroke-linecap="round"/>
<path d="M235.60,255.60 C235.60,257.12 234.35,262.43 235.60,264.70 C236.85,266.97 239.32,267.70 243.10,269.20 C246.88,270.70 253.50,272.32 258.30,273.70 C263.10,275.08 267.28,276.57 271.90,277.50 C276.52,278.43 279.65,279.12 286.00,279.30 C292.35,279.48 301.00,278.77 310.00,278.60 C319.00,278.43 335.00,278.35 340.00,278.30" fill="none" stroke="#ff5a5a" stroke-width="0.85" stroke-linejoin="round" stroke-linecap="round" stroke-dasharray="2.4,1.9"/>
<path d="M340,278.3 L340,309" fill="none" stroke="#ff5a5a" stroke-width="0.85" stroke-linejoin="round" stroke-linecap="round" stroke-dasharray="2.4,1.9"/>
<path d="M243.10,270.00 C244.25,270.67 247.98,272.62 250.00,274.00 C252.02,275.38 253.82,275.57 255.20,278.30 C256.58,281.03 257.53,286.37 258.30,290.40 C259.07,294.43 259.43,298.97 259.80,302.50 C260.17,306.03 260.38,310.08 260.50,311.60" fill="none" stroke="#ff5a5a" stroke-width="0.85" stroke-linejoin="round" stroke-linecap="round" stroke-dasharray="2.4,1.9"/>
<path d="M277.50,279.20 C278.58,279.25 282.37,278.95 284.00,279.50 C285.63,280.05 286.67,280.92 287.30,282.50 C287.93,284.08 287.88,286.92 287.80,289.00 C287.72,291.08 287.77,293.75 286.80,295.00 C285.83,296.25 283.38,296.50 282.00,296.50 C280.62,296.50 279.08,295.25 278.50,295.00" fill="none" stroke="#ff5a5a" stroke-width="0.85" stroke-linejoin="round" stroke-linecap="round" stroke-dasharray="2.4,1.9"/>
<path d="M288.20,280.50 C292.75,280.80 307.93,281.10 315.50,282.30 C323.07,283.50 329.82,285.28 333.60,287.70 C337.38,290.12 337.30,293.47 338.20,296.80 C339.10,300.13 338.87,305.88 339.00,307.70" fill="none" stroke="#ff5a5a" stroke-width="0.85" stroke-linejoin="round" stroke-linecap="round" stroke-dasharray="2.4,1.9"/>
<path d="M235.60,276.80 C238.12,278.05 245.67,281.92 250.70,284.30 C255.73,286.68 261.27,289.33 265.80,291.10 C270.33,292.87 274.87,294.13 277.90,294.90 C280.93,295.67 282.23,296.43 284.00,295.70 C285.77,294.97 286.50,293.28 288.50,290.50 C290.50,287.72 293.58,282.75 296.00,279.00 C298.42,275.25 300.67,271.58 303.00,268.00 C305.33,264.42 308.12,260.42 310.00,257.50 C311.88,254.58 312.40,252.92 314.30,250.50 C316.20,248.08 318.45,245.15 321.40,243.00 C324.35,240.85 328.75,238.65 332.00,237.60 C335.25,236.55 339.42,236.85 340.90,236.70" fill="none" stroke="#5a5a5a" stroke-width="0.85" stroke-linejoin="round" stroke-linecap="round"/>
<path d="M340.90,236.70 C340.40,237.13 339.38,237.88 337.90,239.30 C336.42,240.72 334.15,243.00 332.00,245.20 C329.85,247.40 327.88,248.37 325.00,252.50 C322.12,256.63 317.75,264.58 314.70,270.00 C311.65,275.42 308.82,280.83 306.70,285.00 C304.58,289.17 303.18,291.67 302.00,295.00 C300.82,298.33 300.13,300.37 299.60,305.00 C299.07,309.63 298.93,319.83 298.80,322.80" fill="none" stroke="#5a5a5a" stroke-width="0.85" stroke-linejoin="round" stroke-linecap="round"/>
<path d="M235.60,279.00 C238.12,280.13 245.42,283.40 250.70,285.80 C255.98,288.20 263.02,290.87 267.30,293.40 C271.58,295.93 273.87,298.23 276.40,301.00 C278.93,303.77 280.65,306.33 282.50,310.00 C284.35,313.67 286.67,320.83 287.50,323.00" fill="none" stroke="#5a5a5a" stroke-width="0.85" stroke-linejoin="round" stroke-linecap="round"/>
<path d="M288.20,323.00 C288.58,321.67 289.62,316.92 290.50,315.00 C291.38,313.08 292.53,311.50 293.50,311.50 C294.47,311.50 295.52,313.08 296.30,315.00 C297.08,316.92 297.88,321.67 298.20,323.00" fill="none" stroke="#5a5a5a" stroke-width="0.85" stroke-linejoin="round" stroke-linecap="round"/>
<path d="M235.60,274.50 C238.12,275.88 245.42,280.53 250.70,282.80 C255.98,285.07 262.77,286.83 267.30,288.10 C271.83,289.37 274.12,289.92 277.90,290.40 C281.68,290.88 283.82,290.93 290.00,291.00 C296.18,291.07 306.67,290.88 315.00,290.80 C323.33,290.72 335.83,290.55 340.00,290.50" fill="none" stroke="#707070" stroke-width="0.85" stroke-linejoin="round" stroke-linecap="round" stroke-dasharray="2.4,1.9"/>
<path d="M262.00,290.00 C263.90,291.33 270.75,294.67 273.40,298.00 C276.05,301.33 276.77,305.83 277.90,310.00 C279.03,314.17 279.82,320.83 280.20,323.00" fill="none" stroke="#707070" stroke-width="0.85" stroke-linejoin="round" stroke-linecap="round" stroke-dasharray="2.4,1.9"/>
<path d="M281.00,323.00 C281.33,321.17 281.92,315.50 283.00,312.00 C284.08,308.50 285.67,304.67 287.50,302.00 C289.33,299.33 291.47,297.47 294.00,296.00 C296.53,294.53 298.20,292.77 302.70,293.20 C307.20,293.63 316.45,295.88 321.00,298.60 C325.55,301.32 328.28,305.43 330.00,309.50 C331.72,313.57 331.08,320.75 331.30,323.00" fill="none" stroke="#707070" stroke-width="0.85" stroke-linejoin="round" stroke-linecap="round" stroke-dasharray="2.4,1.9"/>
</g>
<path d="M286.9,231 L282.9,239.6" fill="none" stroke="#ff4545" stroke-width="0.8" stroke-linejoin="round" stroke-linecap="round"/>
<polygon points="280.3,237.3 285.8,239.8 281.3,243.8" fill="#f33"/>
<path d="M290.2,246.8 L294.8,236.9" fill="none" stroke="#ff4545" stroke-width="0.8" stroke-linejoin="round" stroke-linecap="round"/>
<polygon points="293.0,236.5 298.3,238.8 297.8,233.6" fill="#f33"/>
<path d="M305.4,252.8 L299.5,260.7" fill="none" stroke="#5a5a5a" stroke-width="0.8" stroke-linejoin="round" stroke-linecap="round"/>
<polygon points="296.0,258.8 301.8,263.2 296.3,265.0" fill="#444"/>
<path d="M314.7,273.3 L320,266" fill="none" stroke="#5a5a5a" stroke-width="0.8" stroke-linejoin="round" stroke-linecap="round"/>
<polygon points="317.2,265.2 322.4,269.0 323.0,262.2" fill="#444"/>
<text x="375.90" y="185.60" font-size="13" text-anchor="start" fill="#262626" stroke="#262626" stroke-width="0.35">(f)</text>
<line x1="403.60" y1="323.20" x2="403.60" y2="326.70" stroke="#333" stroke-width="0.9"/>
<line x1="420.20" y1="323.20" x2="420.20" y2="325.20" stroke="#333" stroke-width="0.9"/>
<line x1="436.80" y1="323.20" x2="436.80" y2="326.70" stroke="#333" stroke-width="0.9"/>
<line x1="453.40" y1="323.20" x2="453.40" y2="325.20" stroke="#333" stroke-width="0.9"/>
<line x1="470.00" y1="323.20" x2="470.00" y2="326.70" stroke="#333" stroke-width="0.9"/>
<line x1="486.60" y1="323.20" x2="486.60" y2="325.20" stroke="#333" stroke-width="0.9"/>
<line x1="503.20" y1="323.20" x2="503.20" y2="326.70" stroke="#333" stroke-width="0.9"/>
<line x1="519.80" y1="323.20" x2="519.80" y2="325.20" stroke="#333" stroke-width="0.9"/>
<line x1="536.40" y1="323.20" x2="536.40" y2="326.70" stroke="#333" stroke-width="0.9"/>
<line x1="403.60" y1="312.10" x2="401.60" y2="312.10" stroke="#333" stroke-width="0.9"/>
<line x1="403.60" y1="298.10" x2="400.10" y2="298.10" stroke="#333" stroke-width="0.9"/>
<line x1="403.60" y1="284.10" x2="401.60" y2="284.10" stroke="#333" stroke-width="0.9"/>
<line x1="403.60" y1="270.10" x2="400.10" y2="270.10" stroke="#333" stroke-width="0.9"/>
<line x1="403.60" y1="256.10" x2="401.60" y2="256.10" stroke="#333" stroke-width="0.9"/>
<line x1="403.60" y1="242.10" x2="400.10" y2="242.10" stroke="#333" stroke-width="0.9"/>
<line x1="403.60" y1="228.10" x2="401.60" y2="228.10" stroke="#333" stroke-width="0.9"/>
<line x1="403.60" y1="214.10" x2="400.10" y2="214.10" stroke="#333" stroke-width="0.9"/>
<line x1="403.60" y1="200.10" x2="401.60" y2="200.10" stroke="#333" stroke-width="0.9"/>
<rect x="403.60" y="190.50" width="132.80" height="132.70" fill="none" stroke="#333" stroke-width="1.3"/>
<text x="403.60" y="336.50" font-size="8" text-anchor="middle" fill="#262626" stroke="#262626" stroke-width="0.16">0.5</text>
<text x="436.80" y="336.50" font-size="8" text-anchor="middle" fill="#262626" stroke="#262626" stroke-width="0.16">1.0</text>
<text x="470.00" y="336.50" font-size="8" text-anchor="middle" fill="#262626" stroke="#262626" stroke-width="0.16">1.5</text>
<text x="503.20" y="336.50" font-size="8" text-anchor="middle" fill="#262626" stroke="#262626" stroke-width="0.16">2.0</text>
<text x="536.40" y="336.50" font-size="8" text-anchor="middle" fill="#262626" stroke="#262626" stroke-width="0.16">2.5</text>
<text x="395.50" y="300.90" font-size="8" text-anchor="end" fill="#262626" stroke="#262626" stroke-width="0.16">1</text>
<text x="395.50" y="272.90" font-size="8" text-anchor="end" fill="#262626" stroke="#262626" stroke-width="0.16">2</text>
<text x="395.50" y="244.90" font-size="8" text-anchor="end" fill="#262626" stroke="#262626" stroke-width="0.16">3</text>
<text x="395.50" y="216.90" font-size="8" text-anchor="end" fill="#262626" stroke="#262626" stroke-width="0.16">4</text>
<text x="470.00" y="350.00" font-size="8" text-anchor="middle" fill="#262626" stroke="#262626" stroke-width="0.16">Time (s)</text>
<text x="386.20" y="257.00" font-size="8" text-anchor="middle" fill="#262626" stroke="#262626" stroke-width="0.16" transform="rotate(-90 386.20 257.00)"><tspan font-style="italic">I</tspan><tspan font-size="5.5" dy="2">d</tspan><tspan dy="-2"> (&#956;A)</tspan></text>
<clipPath id="fclip"><rect x="403.6" y="190.5" width="132.79999999999995" height="132.7"/></clipPath>
<g clip-path="url(#fclip)">
<polyline points="403.60,303.14 434.28,303.14 434.78,296.51 435.29,291.19 435.79,286.27 436.30,281.60 436.80,277.10 437.13,280.03 437.46,282.61 437.80,284.89 438.13,286.91 438.46,288.68 438.79,290.25 439.12,291.63 439.46,292.85 439.79,293.93 440.12,294.88 440.45,295.72 440.78,296.46 441.12,297.11 441.53,291.30 442.01,286.64 442.48,282.34 442.96,278.24 443.44,274.30 443.77,277.56 444.10,280.43 444.44,282.97 444.77,285.21 445.10,287.18 445.43,288.93 445.76,290.46 446.10,291.82 446.43,293.02 446.76,294.08 447.09,295.01 447.42,295.83 447.76,296.56 448.17,290.54 448.65,285.70 449.12,281.23 449.60,276.99 450.08,272.90 450.41,276.32 450.74,279.34 451.08,282.01 451.41,284.36 451.74,286.43 452.07,288.26 452.40,289.88 452.74,291.31 453.07,292.57 453.40,293.68 453.73,294.66 454.06,295.52 454.40,296.29 454.81,289.98 455.29,284.91 455.76,280.23 456.24,275.78 456.72,271.50 457.05,275.09 457.38,278.25 457.72,281.04 458.05,283.51 458.38,285.68 458.71,287.60 459.04,289.30 459.38,290.79 459.71,292.11 460.04,293.28 460.37,294.30 460.70,295.21 461.04,296.01 461.45,289.41 461.93,284.12 462.40,279.23 462.88,274.58 463.36,270.10 463.69,272.39 464.02,274.48 464.36,276.39 464.69,278.12 465.02,279.70 465.35,281.15 465.68,282.47 466.02,283.68 466.35,284.78 466.68,285.79 467.01,286.72 467.34,287.57 467.68,288.35 468.01,289.07 468.34,289.73 468.67,290.33 469.00,290.89 469.34,291.41 469.67,291.89 470.00,292.33 470.33,292.74 470.66,293.13 471.00,293.48 471.33,293.81 471.66,294.12 471.99,294.41 472.32,294.68 472.66,294.93 472.99,295.17 473.32,295.39 473.65,295.60 473.98,295.80 474.32,295.99 474.65,296.17 474.98,296.34 475.31,296.50 475.64,296.65 475.98,296.80 476.31,296.94 476.64,297.07 476.97,297.20 477.30,297.32 477.64,297.44 477.97,297.55 478.30,297.66 478.63,297.77 478.96,297.87 479.30,297.97 479.63,298.06 479.96,298.15 480.29,298.24 480.62,298.33 480.96,298.42 481.29,298.50 481.62,298.58 481.95,298.66 482.28,298.73 482.62,298.81 482.95,298.88 483.28,298.95 483.61,299.02 483.94,299.08 484.28,299.15 484.61,299.22 484.94,299.28 485.27,299.34 485.60,299.40 485.94,299.46 486.27,299.52 486.60,299.58 486.93,299.63 487.26,299.69 487.60,299.74 487.93,299.79 488.26,299.84 488.59,299.90 488.92,299.94 489.26,299.99 489.59,300.04 489.92,300.09 490.25,300.14 490.58,300.18 490.92,300.23 491.25,300.27 491.58,300.31 491.91,300.36 492.24,300.40 492.58,300.44 492.91,300.48 493.24,300.52 493.57,300.56 493.90,300.60 494.24,300.63 494.57,300.67 494.90,300.71 495.23,300.74 495.56,300.78 495.90,300.81 496.23,300.85 496.56,300.88 496.89,300.91 497.22,300.94 497.56,300.98 497.89,301.01 498.22,301.04 498.55,301.07 498.88,301.10 499.22,301.13 499.55,301.16 499.88,301.18 500.21,301.21 500.54,301.24 500.88,301.27 501.21,301.29 501.54,301.32 501.87,301.34 502.20,301.37 502.54,301.39 502.87,301.42 503.20,301.44 503.53,301.46 503.86,301.49 504.20,301.51 504.53,301.53 504.86,301.55 505.19,301.58 505.52,301.60 505.86,301.62 506.19,301.64 506.52,301.66 506.85,301.68 507.18,301.70 507.52,301.72 507.85,301.74 508.18,301.76 508.51,301.77 508.84,301.79 509.18,301.81 509.51,301.83 509.84,301.84 510.17,301.86 510.50,301.88 510.84,301.89 511.17,301.91 511.50,301.92 511.83,301.94 512.16,301.96 512.50,301.97 512.83,301.99 513.16,302.00 513.49,302.01 513.82,302.03 514.16,302.04 514.49,302.05 514.82,302.07 515.15,302.08 515.48,302.09 515.82,302.11 516.15,302.12 516.48,302.13 516.81,302.14 517.14,302.16 517.48,302.17 517.81,302.18 518.14,302.19 518.47,302.20 518.80,302.21 519.14,302.22 519.47,302.23 519.80,302.24 520.13,302.25 520.46,302.26 520.80,302.27 521.13,302.28 521.46,302.29 521.79,302.30 522.12,302.31 522.46,302.32 522.79,302.33 523.12,302.34 523.45,302.35 523.78,302.36 524.12,302.36 524.45,302.37 524.78,302.38 525.11,302.39 525.44,302.40 525.78,302.40 526.11,302.41 526.44,302.42 526.77,302.43 527.10,302.43 527.44,302.44 527.77,302.45 528.10,302.45 528.43,302.46 528.76,302.47 529.10,302.47 529.43,302.48 529.76,302.49 530.09,302.49 530.42,302.50 530.76,302.50 531.09,302.51 531.42,302.52 531.75,302.52 532.08,302.53 532.42,302.53 532.75,302.54 533.08,302.54 533.41,302.55 533.74,302.55 534.08,302.56 534.41,302.56 534.74,302.57 535.07,302.57 535.40,302.58 535.74,302.58 536.07,302.59 536.40,302.59 536.73,302.60 537.06,302.60 537.40,302.61 537.73,302.61 538.06,302.61 538.39,302.62 538.72,302.62 539.06,302.63 539.39,302.63 539.72,302.63 540.05,302.64 540.38,302.64" fill="none" stroke="#7d7d7d" stroke-width="1.15" stroke-linejoin="round"/>
<polyline points="403.60,303.14 434.28,303.14 434.78,295.44 435.29,289.26 435.79,283.55 436.30,278.12 436.80,272.90 437.13,276.26 437.46,279.22 437.80,281.83 438.13,284.14 438.46,286.17 438.79,287.97 439.12,289.55 439.46,290.95 439.79,292.19 440.12,293.28 440.45,294.24 440.78,295.09 441.12,295.84 441.53,289.28 442.01,284.02 442.48,279.16 442.96,274.55 443.44,270.10 443.77,273.78 444.10,277.04 444.44,279.91 444.77,282.44 445.10,284.67 445.43,286.65 445.76,288.39 446.10,289.92 446.43,291.28 446.76,292.48 447.09,293.53 447.42,294.46 447.76,295.28 448.17,288.16 448.65,282.44 449.12,277.16 449.60,272.13 450.08,267.30 450.41,271.31 450.74,274.86 451.08,277.98 451.41,280.74 451.74,283.18 452.07,285.32 452.40,287.22 452.74,288.89 453.07,290.37 453.40,291.67 453.73,292.82 454.06,293.84 454.40,294.73 454.81,287.39 455.29,281.50 455.76,276.06 456.24,270.88 456.72,265.90 457.05,270.08 457.38,273.77 457.72,277.02 458.05,279.89 458.38,282.43 458.71,284.66 459.04,286.64 459.38,288.38 459.71,289.92 460.04,291.27 460.37,292.47 460.70,293.53 461.04,294.46 461.45,286.83 461.93,280.71 462.40,275.05 462.88,269.68 463.36,264.50 463.69,267.17 464.02,269.59 464.36,271.81 464.69,273.82 465.02,275.66 465.35,277.34 465.68,278.88 466.02,280.28 466.35,281.56 466.68,282.74 467.01,283.82 467.34,284.80 467.68,285.71 468.01,286.54 468.34,287.31 468.67,288.02 469.00,288.67 469.34,289.27 469.67,289.83 470.00,290.34 470.33,290.82 470.66,291.27 471.00,291.68 471.33,292.06 471.66,292.42 471.99,292.76 472.32,293.07 472.66,293.36 472.99,293.64 473.32,293.90 473.65,294.14 473.98,294.38 474.32,294.59 474.65,294.80 474.98,295.00 475.31,295.18 475.64,295.36 475.98,295.53 476.31,295.69 476.64,295.85 476.97,296.00 477.30,296.14 477.64,296.28 477.97,296.41 478.30,296.54 478.63,296.66 478.96,296.78 479.30,296.89 479.63,297.00 479.96,297.11 480.29,297.21 480.62,297.31 480.96,297.41 481.29,297.51 481.62,297.60 481.95,297.69 482.28,297.78 482.62,297.87 482.95,297.95 483.28,298.03 483.61,298.11 483.94,298.19 484.28,298.27 484.61,298.34 484.94,298.42 485.27,298.49 485.60,298.56 485.94,298.63 486.27,298.70 486.60,298.76 486.93,298.83 487.26,298.89 487.60,298.95 487.93,299.01 488.26,299.07 488.59,299.13 488.92,299.19 489.26,299.25 489.59,299.30 489.92,299.36 490.25,299.41 490.58,299.47 490.92,299.52 491.25,299.57 491.58,299.62 491.91,299.67 492.24,299.72 492.58,299.76 492.91,299.81 493.24,299.86 493.57,299.90 493.90,299.95 494.24,299.99 494.57,300.03 494.90,300.08 495.23,300.12 495.56,300.16 495.90,300.20 496.23,300.24 496.56,300.28 496.89,300.32 497.22,300.35 497.56,300.39 497.89,300.43 498.22,300.46 498.55,300.50 498.88,300.53 499.22,300.57 499.55,300.60 499.88,300.63 500.21,300.66 500.54,300.70 500.88,300.73 501.21,300.76 501.54,300.79 501.87,300.82 502.20,300.85 502.54,300.87 502.87,300.90 503.20,300.93 503.53,300.96 503.86,300.98 504.20,301.01 504.53,301.04 504.86,301.06 505.19,301.09 505.52,301.11 505.86,301.14 506.19,301.16 506.52,301.18 506.85,301.21 507.18,301.23 507.52,301.25 507.85,301.27 508.18,301.30 508.51,301.32 508.84,301.34 509.18,301.36 509.51,301.38 509.84,301.40 510.17,301.42 510.50,301.44 510.84,301.46 511.17,301.47 511.50,301.49 511.83,301.51 512.16,301.53 512.50,301.55 512.83,301.56 513.16,301.58 513.49,301.60 513.82,301.61 514.16,301.63 514.49,301.64 514.82,301.66 515.15,301.67 515.48,301.69 515.82,301.70 516.15,301.72 516.48,301.73 516.81,301.75 517.14,301.76 517.48,301.77 517.81,301.79 518.14,301.80 518.47,301.81 518.80,301.83 519.14,301.84 519.47,301.85 519.80,301.86 520.13,301.88 520.46,301.89 520.80,301.90 521.13,301.91 521.46,301.92 521.79,301.93 522.12,301.94 522.46,301.95 522.79,301.96 523.12,301.97 523.45,301.98 523.78,301.99 524.12,302.00 524.45,302.01 524.78,302.02 525.11,302.03 525.44,302.04 525.78,302.05 526.11,302.06 526.44,302.07 526.77,302.07 527.10,302.08 527.44,302.09 527.77,302.10 528.10,302.11 528.43,302.12 528.76,302.12 529.10,302.13 529.43,302.14 529.76,302.15 530.09,302.15 530.42,302.16 530.76,302.17 531.09,302.17 531.42,302.18 531.75,302.19 532.08,302.19 532.42,302.20 532.75,302.21 533.08,302.21 533.41,302.22 533.74,302.22 534.08,302.23 534.41,302.24 534.74,302.24 535.07,302.25 535.40,302.25 535.74,302.26 536.07,302.26 536.40,302.27 536.73,302.27 537.06,302.28 537.40,302.28 537.73,302.29 538.06,302.29 538.39,302.30 538.72,302.30 539.06,302.31 539.39,302.31 539.72,302.32 540.05,302.32 540.38,302.32" fill="none" stroke="#f27a72" stroke-width="1.15" stroke-linejoin="round"/>
<polyline points="403.60,303.14 434.28,303.14 434.78,294.73 435.29,287.98 435.79,281.74 436.30,275.81 436.80,270.10 437.13,273.72 437.46,276.91 437.80,279.73 438.13,282.22 438.46,284.41 438.79,286.35 439.12,288.06 439.46,289.57 439.79,290.90 440.12,292.08 440.45,293.11 440.78,294.03 441.12,294.84 441.53,287.11 442.01,280.91 442.48,275.18 442.96,269.74 443.44,264.50 443.77,268.78 444.10,272.55 444.44,275.88 444.77,278.82 445.10,281.42 445.43,283.71 445.76,285.73 446.10,287.51 446.43,289.08 446.76,290.47 447.09,291.70 447.42,292.78 447.76,293.73 448.17,285.58 448.65,279.03 449.12,272.98 449.60,267.23 450.08,261.70 450.41,266.31 450.74,270.37 451.08,273.96 451.41,277.12 451.74,279.92 452.07,282.38 452.40,284.56 452.74,286.48 453.07,288.17 453.40,289.67 453.73,290.99 454.06,292.15 454.40,293.18 454.81,284.45 455.29,277.45 455.76,270.97 456.24,264.82 456.72,258.90 457.05,263.84 457.38,268.19 457.72,272.03 458.05,275.43 458.38,278.42 458.71,281.06 459.04,283.39 459.38,285.45 459.71,287.26 460.04,288.87 460.37,290.28 460.70,291.53 461.04,292.63 461.45,283.69 461.93,276.51 462.40,269.87 462.88,263.57 463.36,257.50 463.69,260.62 464.02,263.45 464.36,266.04 464.69,268.40 465.02,270.55 465.35,272.51 465.68,274.31 466.02,275.95 466.35,277.45 466.68,278.82 467.01,280.08 467.34,281.24 467.68,282.30 468.01,283.27 468.34,284.17 468.67,285.00 469.00,285.76 469.34,286.46 469.67,287.11 470.00,287.71 470.33,288.27 470.66,288.79 471.00,289.27 471.33,289.72 471.66,290.14 471.99,290.53 472.32,290.90 472.66,291.25 472.99,291.57 473.32,291.87 473.65,292.16 473.98,292.43 474.32,292.68 474.65,292.93 474.98,293.16 475.31,293.37 475.64,293.58 475.98,293.78 476.31,293.97 476.64,294.15 476.97,294.32 477.30,294.49 477.64,294.65 477.97,294.81 478.30,294.95 478.63,295.10 478.96,295.24 479.30,295.37 479.63,295.50 479.96,295.62 480.29,295.75 480.62,295.86 480.96,295.98 481.29,296.09 481.62,296.20 481.95,296.31 482.28,296.41 482.62,296.51 482.95,296.61 483.28,296.70 483.61,296.80 483.94,296.89 484.28,296.98 484.61,297.07 484.94,297.15 485.27,297.24 485.60,297.32 485.94,297.40 486.27,297.48 486.60,297.56 486.93,297.63 487.26,297.71 487.60,297.78 487.93,297.85 488.26,297.92 488.59,297.99 488.92,298.06 489.26,298.12 489.59,298.19 489.92,298.25 490.25,298.32 490.58,298.38 490.92,298.44 491.25,298.50 491.58,298.56 491.91,298.62 492.24,298.67 492.58,298.73 492.91,298.78 493.24,298.84 493.57,298.89 493.90,298.94 494.24,298.99 494.57,299.04 494.90,299.09 495.23,299.14 495.56,299.19 495.90,299.24 496.23,299.28 496.56,299.33 496.89,299.37 497.22,299.42 497.56,299.46 497.89,299.50 498.22,299.54 498.55,299.58 498.88,299.62 499.22,299.66 499.55,299.70 499.88,299.74 500.21,299.78 500.54,299.82 500.88,299.85 501.21,299.89 501.54,299.92 501.87,299.96 502.20,299.99 502.54,300.03 502.87,300.06 503.20,300.09 503.53,300.12 503.86,300.16 504.20,300.19 504.53,300.22 504.86,300.25 505.19,300.28 505.52,300.30 505.86,300.33 506.19,300.36 506.52,300.39 506.85,300.41 507.18,300.44 507.52,300.47 507.85,300.49 508.18,300.52 508.51,300.54 508.84,300.57 509.18,300.59 509.51,300.62 509.84,300.64 510.17,300.66 510.50,300.68 510.84,300.71 511.17,300.73 511.50,300.75 511.83,300.77 512.16,300.79 512.50,300.81 512.83,300.83 513.16,300.85 513.49,300.87 513.82,300.89 514.16,300.91 514.49,300.93 514.82,300.94 515.15,300.96 515.48,300.98 515.82,301.00 516.15,301.01 516.48,301.03 516.81,301.05 517.14,301.06 517.48,301.08 517.81,301.09 518.14,301.11 518.47,301.12 518.80,301.14 519.14,301.15 519.47,301.17 519.80,301.18 520.13,301.20 520.46,301.21 520.80,301.22 521.13,301.24 521.46,301.25 521.79,301.26 522.12,301.27 522.46,301.29 522.79,301.30 523.12,301.31 523.45,301.32 523.78,301.33 524.12,301.35 524.45,301.36 524.78,301.37 525.11,301.38 525.44,301.39 525.78,301.40 526.11,301.41 526.44,301.42 526.77,301.43 527.10,301.44 527.44,301.45 527.77,301.46 528.10,301.47 528.43,301.48 528.76,301.49 529.10,301.49 529.43,301.50 529.76,301.51 530.09,301.52 530.42,301.53 530.76,301.54 531.09,301.54 531.42,301.55 531.75,301.56 532.08,301.57 532.42,301.58 532.75,301.58 533.08,301.59 533.41,301.60 533.74,301.60 534.08,301.61 534.41,301.62 534.74,301.62 535.07,301.63 535.40,301.64 535.74,301.64 536.07,301.65 536.40,301.66 536.73,301.66 537.06,301.67 537.40,301.67 537.73,301.68 538.06,301.68 538.39,301.69 538.72,301.70 539.06,301.70 539.39,301.71 539.72,301.71 540.05,301.72 540.38,301.72" fill="none" stroke="#3bb57f" stroke-width="1.15" stroke-linejoin="round"/>
<polyline points="403.60,303.14 434.28,303.14 434.78,295.80 435.29,289.90 435.79,284.46 436.30,279.28 436.80,274.30 437.13,277.43 437.46,280.18 437.80,282.62 438.13,284.77 438.46,286.66 438.79,288.34 439.12,289.81 439.46,291.11 439.79,292.26 440.12,293.28 440.45,294.17 440.78,294.96 441.12,295.66 441.53,289.15 442.01,283.93 442.48,279.10 442.96,274.52 443.44,270.10 443.77,273.72 444.10,276.91 444.44,279.73 444.77,282.22 445.10,284.41 445.43,286.35 445.76,288.06 446.10,289.57 446.43,290.90 446.76,292.08 447.09,293.11 447.42,294.03 447.76,294.84 448.17,287.47 448.65,281.56 449.12,276.09 449.60,270.90 450.08,265.90 450.41,270.01 450.74,273.64 451.08,276.84 451.41,279.67 451.74,282.17 452.07,284.37 452.40,286.31 452.74,288.02 453.07,289.54 453.40,290.87 453.73,292.05 454.06,293.09 454.40,294.01 454.81,286.14 455.29,279.82 455.76,273.99 456.24,268.44 456.72,263.10 457.05,267.54 457.38,271.46 457.72,274.92 458.05,277.97 458.38,280.67 458.71,283.04 459.04,285.14 459.38,286.99 459.71,288.63 460.04,290.07 460.37,291.34 460.70,292.47 461.04,293.46 461.45,285.37 461.93,278.88 462.40,272.89 462.88,267.19 463.36,261.70 463.69,264.48 464.02,267.02 464.36,269.33 464.69,271.43 465.02,273.36 465.35,275.11 465.68,276.71 466.02,278.18 466.35,279.52 466.68,280.74 467.01,281.87 467.34,282.90 467.68,283.85 468.01,284.72 468.34,285.52 468.67,286.26 469.00,286.94 469.34,287.57 469.67,288.15 470.00,288.68 470.33,289.18 470.66,289.65 471.00,290.08 471.33,290.48 471.66,290.85 471.99,291.20 472.32,291.53 472.66,291.84 472.99,292.13 473.32,292.40 473.65,292.65 473.98,292.89 474.32,293.12 474.65,293.34 474.98,293.54 475.31,293.74 475.64,293.92 475.98,294.10 476.31,294.27 476.64,294.43 476.97,294.59 477.30,294.74 477.64,294.88 477.97,295.02 478.30,295.15 478.63,295.28 478.96,295.40 479.30,295.52 479.63,295.64 479.96,295.75 480.29,295.86 480.62,295.96 480.96,296.07 481.29,296.17 481.62,296.26 481.95,296.36 482.28,296.45 482.62,296.54 482.95,296.63 483.28,296.71 483.61,296.80 483.94,296.88 484.28,296.96 484.61,297.04 484.94,297.11 485.27,297.19 485.60,297.26 485.94,297.33 486.27,297.40 486.60,297.47 486.93,297.54 487.26,297.61 487.60,297.67 487.93,297.74 488.26,297.80 488.59,297.86 488.92,297.92 489.26,297.98 489.59,298.04 489.92,298.10 490.25,298.15 490.58,298.21 490.92,298.26 491.25,298.32 491.58,298.37 491.91,298.42 492.24,298.47 492.58,298.52 492.91,298.57 493.24,298.62 493.57,298.66 493.90,298.71 494.24,298.76 494.57,298.80 494.90,298.85 495.23,298.89 495.56,298.93 495.90,298.97 496.23,299.02 496.56,299.06 496.89,299.10 497.22,299.13 497.56,299.17 497.89,299.21 498.22,299.25 498.55,299.28 498.88,299.32 499.22,299.36 499.55,299.39 499.88,299.43 500.21,299.46 500.54,299.49 500.88,299.52 501.21,299.56 501.54,299.59 501.87,299.62 502.20,299.65 502.54,299.68 502.87,299.71 503.20,299.74 503.53,299.77 503.86,299.79 504.20,299.82 504.53,299.85 504.86,299.88 505.19,299.90 505.52,299.93 505.86,299.95 506.19,299.98 506.52,300.00 506.85,300.03 507.18,300.05 507.52,300.07 507.85,300.10 508.18,300.12 508.51,300.14 508.84,300.16 509.18,300.18 509.51,300.21 509.84,300.23 510.17,300.25 510.50,300.27 510.84,300.29 511.17,300.31 511.50,300.32 511.83,300.34 512.16,300.36 512.50,300.38 512.83,300.40 513.16,300.42 513.49,300.43 513.82,300.45 514.16,300.47 514.49,300.48 514.82,300.50 515.15,300.51 515.48,300.53 515.82,300.55 516.15,300.56 516.48,300.58 516.81,300.59 517.14,300.60 517.48,300.62 517.81,300.63 518.14,300.65 518.47,300.66 518.80,300.67 519.14,300.69 519.47,300.70 519.80,300.71 520.13,300.72 520.46,300.74 520.80,300.75 521.13,300.76 521.46,300.77 521.79,300.78 522.12,300.79 522.46,300.81 522.79,300.82 523.12,300.83 523.45,300.84 523.78,300.85 524.12,300.86 524.45,300.87 524.78,300.88 525.11,300.89 525.44,300.90 525.78,300.91 526.11,300.91 526.44,300.92 526.77,300.93 527.10,300.94 527.44,300.95 527.77,300.96 528.10,300.97 528.43,300.97 528.76,300.98 529.10,300.99 529.43,301.00 529.76,301.01 530.09,301.01 530.42,301.02 530.76,301.03 531.09,301.04 531.42,301.04 531.75,301.05 532.08,301.06 532.42,301.06 532.75,301.07 533.08,301.08 533.41,301.08 533.74,301.09 534.08,301.09 534.41,301.10 534.74,301.11 535.07,301.11 535.40,301.12 535.74,301.12 536.07,301.13 536.40,301.13 536.73,301.14 537.06,301.15 537.40,301.15 537.73,301.16 538.06,301.16 538.39,301.17 538.72,301.17 539.06,301.18 539.39,301.18 539.72,301.18 540.05,301.19 540.38,301.19" fill="none" stroke="#c37ff0" stroke-width="1.15" stroke-linejoin="round"/>
<polyline points="403.60,303.14 434.28,303.14 434.78,290.74 435.29,280.78 435.79,271.58 436.30,262.84 436.80,254.42 437.13,259.88 437.46,264.70 437.80,268.95 438.13,272.71 438.46,276.02 438.79,278.94 439.12,281.52 439.46,283.80 439.79,285.81 440.12,287.58 440.45,289.15 440.78,290.53 441.12,291.75 441.53,284.10 442.01,277.96 442.48,272.28 442.96,266.89 443.44,261.70 443.77,266.31 444.10,270.37 444.44,273.96 444.77,277.12 445.10,279.92 445.43,282.38 445.76,284.56 446.10,286.48 446.43,288.17 446.76,289.67 447.09,290.99 447.42,292.15 447.76,293.18 448.17,284.45 448.65,277.45 449.12,270.97 449.60,264.82 450.08,258.90 450.41,263.84 450.74,268.19 451.08,272.03 451.41,275.43 451.74,278.42 452.07,281.06 452.40,283.39 452.74,285.45 453.07,287.26 453.40,288.87 453.73,290.28 454.06,291.53 454.40,292.63 454.81,283.69 455.29,276.51 455.76,269.87 456.24,263.57 456.72,257.50 457.05,262.60 457.38,267.10 457.72,271.07 458.05,274.58 458.38,277.67 458.71,280.40 459.04,282.81 459.38,284.93 459.71,286.81 460.04,288.47 460.37,289.93 460.70,291.22 461.04,292.35 461.45,283.12 461.93,275.72 462.40,268.87 462.88,262.36 463.36,256.10 463.69,259.33 464.02,262.28 464.36,264.96 464.69,267.41 465.02,269.64 465.35,271.68 465.68,273.54 466.02,275.25 466.35,276.80 466.68,278.23 467.01,279.53 467.34,280.73 467.68,281.83 468.01,282.85 468.34,283.78 468.67,284.63 469.00,285.42 469.34,286.15 469.67,286.83 470.00,287.46 470.33,288.03 470.66,288.57 471.00,289.07 471.33,289.54 471.66,289.98 471.99,290.38 472.32,290.76 472.66,291.12 472.99,291.45 473.32,291.77 473.65,292.07 473.98,292.35 474.32,292.61 474.65,292.86 474.98,293.10 475.31,293.33 475.64,293.54 475.98,293.75 476.31,293.95 476.64,294.13 476.97,294.31 477.30,294.49 477.64,294.65 477.97,294.81 478.30,294.97 478.63,295.12 478.96,295.26 479.30,295.40 479.63,295.53 479.96,295.66 480.29,295.79 480.62,295.91 480.96,296.03 481.29,296.15 481.62,296.26 481.95,296.37 482.28,296.48 482.62,296.58 482.95,296.68 483.28,296.78 483.61,296.88 483.94,296.98 484.28,297.07 484.61,297.16 484.94,297.25 485.27,297.34 485.60,297.42 485.94,297.51 486.27,297.59 486.60,297.67 486.93,297.75 487.26,297.82 487.60,297.90 487.93,297.97 488.26,298.05 488.59,298.12 488.92,298.19 489.26,298.26 489.59,298.33 489.92,298.39 490.25,298.46 490.58,298.52 490.92,298.59 491.25,298.65 491.58,298.71 491.91,298.77 492.24,298.83 492.58,298.88 492.91,298.94 493.24,299.00 493.57,299.05 493.90,299.11 494.24,299.16 494.57,299.21 494.90,299.26 495.23,299.31 495.56,299.36 495.90,299.41 496.23,299.46 496.56,299.51 496.89,299.55 497.22,299.60 497.56,299.64 497.89,299.69 498.22,299.73 498.55,299.77 498.88,299.81 499.22,299.86 499.55,299.90 499.88,299.94 500.21,299.97 500.54,300.01 500.88,300.05 501.21,300.09 501.54,300.13 501.87,300.16 502.20,300.20 502.54,300.23 502.87,300.27 503.20,300.30 503.53,300.33 503.86,300.36 504.20,300.40 504.53,300.43 504.86,300.46 505.19,300.49 505.52,300.52 505.86,300.55 506.19,300.58 506.52,300.61 506.85,300.63 507.18,300.66 507.52,300.69 507.85,300.72 508.18,300.74 508.51,300.77 508.84,300.79 509.18,300.82 509.51,300.84 509.84,300.87 510.17,300.89 510.50,300.91 510.84,300.94 511.17,300.96 511.50,300.98 511.83,301.00 512.16,301.02 512.50,301.05 512.83,301.07 513.16,301.09 513.49,301.11 513.82,301.13 514.16,301.15 514.49,301.16 514.82,301.18 515.15,301.20 515.48,301.22 515.82,301.24 516.15,301.26 516.48,301.27 516.81,301.29 517.14,301.31 517.48,301.32 517.81,301.34 518.14,301.35 518.47,301.37 518.80,301.39 519.14,301.40 519.47,301.42 519.80,301.43 520.13,301.44 520.46,301.46 520.80,301.47 521.13,301.49 521.46,301.50 521.79,301.51 522.12,301.53 522.46,301.54 522.79,301.55 523.12,301.56 523.45,301.58 523.78,301.59 524.12,301.60 524.45,301.61 524.78,301.62 525.11,301.63 525.44,301.65 525.78,301.66 526.11,301.67 526.44,301.68 526.77,301.69 527.10,301.70 527.44,301.71 527.77,301.72 528.10,301.73 528.43,301.74 528.76,301.75 529.10,301.75 529.43,301.76 529.76,301.77 530.09,301.78 530.42,301.79 530.76,301.80 531.09,301.81 531.42,301.81 531.75,301.82 532.08,301.83 532.42,301.84 532.75,301.85 533.08,301.85 533.41,301.86 533.74,301.87 534.08,301.88 534.41,301.88 534.74,301.89 535.07,301.90 535.40,301.90 535.74,301.91 536.07,301.92 536.40,301.92 536.73,301.93 537.06,301.93 537.40,301.94 537.73,301.95 538.06,301.95 538.39,301.96 538.72,301.96 539.06,301.97 539.39,301.97 539.72,301.98 540.05,301.99 540.38,301.99" fill="none" stroke="#3d8ee8" stroke-width="1.15" stroke-linejoin="round"/>
<polyline points="403.60,303.14 434.28,303.14 434.78,294.73 435.29,287.98 435.79,281.74 436.30,275.81 436.80,270.10 437.13,273.59 437.46,276.67 437.80,279.38 438.13,281.78 438.46,283.89 438.79,285.76 439.12,287.41 439.46,288.86 439.79,290.14 440.12,291.28 440.45,292.28 440.78,293.16 441.12,293.94 441.53,286.08 442.01,279.78 442.48,273.96 442.96,268.43 443.44,263.10 443.77,267.41 444.10,271.21 444.44,274.57 444.77,277.53 445.10,280.15 445.43,282.45 445.76,284.49 446.10,286.29 446.43,287.87 446.76,289.27 447.09,290.51 447.42,291.60 447.76,292.56 448.17,283.63 448.65,276.47 449.12,269.85 449.60,263.56 450.08,257.50 450.41,262.47 450.74,266.85 451.08,270.72 451.41,274.14 451.74,277.15 452.07,279.81 452.40,282.16 452.74,284.23 453.07,286.05 453.40,287.67 453.73,289.09 454.06,290.35 454.40,291.45 454.81,281.74 455.29,273.94 455.76,266.74 456.24,259.89 456.72,253.30 457.05,258.76 457.38,263.58 457.72,267.83 458.05,271.59 458.38,274.90 458.71,277.82 459.04,280.40 459.38,282.68 459.71,284.69 460.04,286.46 460.37,288.03 460.70,289.41 461.04,290.63 461.45,280.41 461.93,272.21 462.40,264.63 462.88,257.43 463.36,250.50 463.69,253.99 464.02,257.17 464.36,260.06 464.69,262.70 465.02,265.11 465.35,267.31 465.68,269.32 466.02,271.15 466.35,272.83 466.68,274.37 467.01,275.78 467.34,277.07 467.68,278.26 468.01,279.35 468.34,280.36 468.67,281.28 469.00,282.13 469.34,282.92 469.67,283.65 470.00,284.33 470.33,284.95 470.66,285.53 471.00,286.07 471.33,286.57 471.66,287.04 471.99,287.48 472.32,287.89 472.66,288.28 472.99,288.64 473.32,288.98 473.65,289.30 473.98,289.60 474.32,289.89 474.65,290.16 474.98,290.42 475.31,290.66 475.64,290.89 475.98,291.12 476.31,291.33 476.64,291.53 476.97,291.73 477.30,291.91 477.64,292.09 477.97,292.26 478.30,292.43 478.63,292.59 478.96,292.75 479.30,292.89 479.63,293.04 479.96,293.18 480.29,293.32 480.62,293.45 480.96,293.58 481.29,293.70 481.62,293.82 481.95,293.94 482.28,294.06 482.62,294.17 482.95,294.28 483.28,294.39 483.61,294.49 483.94,294.60 484.28,294.70 484.61,294.79 484.94,294.89 485.27,294.99 485.60,295.08 485.94,295.17 486.27,295.26 486.60,295.34 486.93,295.43 487.26,295.51 487.60,295.59 487.93,295.67 488.26,295.75 488.59,295.83 488.92,295.91 489.26,295.98 489.59,296.05 489.92,296.12 490.25,296.20 490.58,296.26 490.92,296.33 491.25,296.40 491.58,296.47 491.91,296.53 492.24,296.59 492.58,296.66 492.91,296.72 493.24,296.78 493.57,296.84 493.90,296.89 494.24,296.95 494.57,297.01 494.90,297.06 495.23,297.12 495.56,297.17 495.90,297.22 496.23,297.28 496.56,297.33 496.89,297.38 497.22,297.43 497.56,297.47 497.89,297.52 498.22,297.57 498.55,297.61 498.88,297.66 499.22,297.70 499.55,297.75 499.88,297.79 500.21,297.83 500.54,297.87 500.88,297.91 501.21,297.95 501.54,297.99 501.87,298.03 502.20,298.07 502.54,298.11 502.87,298.15 503.20,298.18 503.53,298.22 503.86,298.25 504.20,298.29 504.53,298.32 504.86,298.35 505.19,298.39 505.52,298.42 505.86,298.45 506.19,298.48 506.52,298.51 506.85,298.54 507.18,298.57 507.52,298.60 507.85,298.63 508.18,298.66 508.51,298.69 508.84,298.71 509.18,298.74 509.51,298.77 509.84,298.79 510.17,298.82 510.50,298.84 510.84,298.87 511.17,298.89 511.50,298.92 511.83,298.94 512.16,298.96 512.50,298.99 512.83,299.01 513.16,299.03 513.49,299.05 513.82,299.07 514.16,299.09 514.49,299.12 514.82,299.14 515.15,299.16 515.48,299.17 515.82,299.19 516.15,299.21 516.48,299.23 516.81,299.25 517.14,299.27 517.48,299.29 517.81,299.30 518.14,299.32 518.47,299.34 518.80,299.35 519.14,299.37 519.47,299.39 519.80,299.40 520.13,299.42 520.46,299.43 520.80,299.45 521.13,299.46 521.46,299.48 521.79,299.49 522.12,299.51 522.46,299.52 522.79,299.53 523.12,299.55 523.45,299.56 523.78,299.57 524.12,299.58 524.45,299.60 524.78,299.61 525.11,299.62 525.44,299.63 525.78,299.65 526.11,299.66 526.44,299.67 526.77,299.68 527.10,299.69 527.44,299.70 527.77,299.71 528.10,299.72 528.43,299.73 528.76,299.74 529.10,299.75 529.43,299.76 529.76,299.77 530.09,299.78 530.42,299.79 530.76,299.80 531.09,299.81 531.42,299.82 531.75,299.83 532.08,299.83 532.42,299.84 532.75,299.85 533.08,299.86 533.41,299.87 533.74,299.87 534.08,299.88 534.41,299.89 534.74,299.90 535.07,299.90 535.40,299.91 535.74,299.92 536.07,299.93 536.40,299.93 536.73,299.94 537.06,299.95 537.40,299.95 537.73,299.96 538.06,299.96 538.39,299.97 538.72,299.98 539.06,299.98 539.39,299.99 539.72,299.99 540.05,300.00 540.38,300.01" fill="none" stroke="#eaae30" stroke-width="1.15" stroke-linejoin="round"/>
<polyline points="403.60,303.14 434.28,303.14 434.78,292.59 435.29,284.12 435.79,276.30 436.30,268.86 436.80,261.70 437.13,266.04 437.46,269.88 437.80,273.26 438.13,276.24 438.46,278.88 438.79,281.20 439.12,283.25 439.46,285.06 439.79,286.66 440.12,288.07 440.45,289.32 440.78,290.41 441.12,291.38 441.53,279.55 442.01,270.05 442.48,261.27 442.96,252.93 443.44,244.90 443.77,251.22 444.10,256.79 444.44,261.71 444.77,266.05 445.10,269.88 445.43,273.27 445.76,276.25 446.10,278.88 446.43,281.21 446.76,283.26 447.09,285.07 447.42,286.66 447.76,288.07 448.17,274.94 448.65,264.40 449.12,254.67 449.60,245.41 450.08,236.50 450.41,243.80 450.74,250.25 451.08,255.94 451.41,260.96 451.74,265.39 452.07,269.30 452.40,272.75 452.74,275.79 453.07,278.48 453.40,280.85 453.73,282.94 454.06,284.79 454.40,286.42 454.81,272.14 455.29,260.68 455.76,250.09 456.24,240.03 456.72,230.34 457.05,238.37 457.38,245.45 457.72,251.70 458.05,257.22 458.38,262.09 458.71,266.39 459.04,270.18 459.38,273.53 459.71,276.48 460.04,279.09 460.37,281.39 460.70,283.42 461.04,285.21 461.45,270.52 461.93,258.74 462.40,247.85 462.88,237.50 463.36,227.54 463.69,232.36 464.02,236.75 464.36,240.75 464.69,244.40 465.02,247.73 465.35,250.77 465.68,253.55 466.02,256.08 466.35,258.41 466.68,260.53 467.01,262.48 467.34,264.27 467.68,265.91 468.01,267.42 468.34,268.80 468.67,270.08 469.00,271.26 469.34,272.35 469.67,273.36 470.00,274.29 470.33,275.15 470.66,275.95 471.00,276.70 471.33,277.40 471.66,278.04 471.99,278.65 472.32,279.22 472.66,279.75 472.99,280.25 473.32,280.72 473.65,281.16 473.98,281.58 474.32,281.98 474.65,282.35 474.98,282.71 475.31,283.04 475.64,283.37 475.98,283.67 476.31,283.97 476.64,284.25 476.97,284.51 477.30,284.77 477.64,285.02 477.97,285.26 478.30,285.49 478.63,285.71 478.96,285.92 479.30,286.13 479.63,286.33 479.96,286.53 480.29,286.71 480.62,286.90 480.96,287.07 481.29,287.25 481.62,287.42 481.95,287.58 482.28,287.74 482.62,287.89 482.95,288.05 483.28,288.20 483.61,288.34 483.94,288.48 484.28,288.62 484.61,288.76 484.94,288.89 485.27,289.02 485.60,289.15 485.94,289.27 486.27,289.39 486.60,289.51 486.93,289.63 487.26,289.75 487.60,289.86 487.93,289.97 488.26,290.08 488.59,290.19 488.92,290.29 489.26,290.39 489.59,290.49 489.92,290.59 490.25,290.69 490.58,290.79 490.92,290.88 491.25,290.97 491.58,291.06 491.91,291.15 492.24,291.24 492.58,291.33 492.91,291.41 493.24,291.50 493.57,291.58 493.90,291.66 494.24,291.74 494.57,291.82 494.90,291.89 495.23,291.97 495.56,292.04 495.90,292.11 496.23,292.18 496.56,292.25 496.89,292.32 497.22,292.39 497.56,292.46 497.89,292.52 498.22,292.59 498.55,292.65 498.88,292.71 499.22,292.78 499.55,292.84 499.88,292.90 500.21,292.95 500.54,293.01 500.88,293.07 501.21,293.12 501.54,293.18 501.87,293.23 502.20,293.28 502.54,293.34 502.87,293.39 503.20,293.44 503.53,293.49 503.86,293.53 504.20,293.58 504.53,293.63 504.86,293.68 505.19,293.72 505.52,293.77 505.86,293.81 506.19,293.85 506.52,293.89 506.85,293.94 507.18,293.98 507.52,294.02 507.85,294.06 508.18,294.10 508.51,294.14 508.84,294.17 509.18,294.21 509.51,294.25 509.84,294.28 510.17,294.32 510.50,294.35 510.84,294.39 511.17,294.42 511.50,294.45 511.83,294.49 512.16,294.52 512.50,294.55 512.83,294.58 513.16,294.61 513.49,294.64 513.82,294.67 514.16,294.70 514.49,294.73 514.82,294.76 515.15,294.78 515.48,294.81 515.82,294.84 516.15,294.86 516.48,294.89 516.81,294.91 517.14,294.94 517.48,294.96 517.81,294.99 518.14,295.01 518.47,295.03 518.80,295.06 519.14,295.08 519.47,295.10 519.80,295.12 520.13,295.15 520.46,295.17 520.80,295.19 521.13,295.21 521.46,295.23 521.79,295.25 522.12,295.27 522.46,295.29 522.79,295.30 523.12,295.32 523.45,295.34 523.78,295.36 524.12,295.38 524.45,295.39 524.78,295.41 525.11,295.43 525.44,295.44 525.78,295.46 526.11,295.48 526.44,295.49 526.77,295.51 527.10,295.52 527.44,295.54 527.77,295.55 528.10,295.57 528.43,295.58 528.76,295.59 529.10,295.61 529.43,295.62 529.76,295.63 530.09,295.65 530.42,295.66 530.76,295.67 531.09,295.68 531.42,295.70 531.75,295.71 532.08,295.72 532.42,295.73 532.75,295.74 533.08,295.75 533.41,295.77 533.74,295.78 534.08,295.79 534.41,295.80 534.74,295.81 535.07,295.82 535.40,295.83 535.74,295.84 536.07,295.85 536.40,295.86 536.73,295.87 537.06,295.88 537.40,295.88 537.73,295.89 538.06,295.90 538.39,295.91 538.72,295.92 539.06,295.93 539.39,295.94 539.72,295.94 540.05,295.95 540.38,295.96" fill="none" stroke="#12d0e0" stroke-width="1.15" stroke-linejoin="round"/>
<polyline points="403.60,303.14 434.28,303.14 434.78,287.96 435.29,275.77 435.79,264.51 436.30,253.80 436.80,243.50 437.13,249.65 437.46,255.08 437.80,259.87 438.13,264.10 438.46,267.83 438.79,271.13 439.12,274.03 439.46,276.60 439.79,278.86 440.12,280.86 440.45,282.62 440.78,284.18 441.12,285.55 441.53,268.78 442.01,255.33 442.48,242.89 442.96,231.08 443.44,219.70 443.77,228.65 444.10,236.55 444.44,243.52 444.77,249.67 445.10,255.09 445.43,259.88 445.76,264.11 446.10,267.84 446.43,271.13 446.76,274.04 447.09,276.60 447.42,278.87 447.76,280.86 448.17,263.86 448.65,250.22 449.12,237.62 449.60,225.63 450.08,214.10 450.41,223.71 450.74,232.19 451.08,239.67 451.41,246.27 451.74,252.10 452.07,257.24 452.40,261.78 452.74,265.78 453.07,269.32 453.40,272.44 453.73,275.19 454.06,277.62 454.40,279.76 454.81,259.48 455.29,243.20 455.76,228.16 456.24,213.86 456.72,200.10 457.05,211.35 457.38,221.28 457.72,230.05 458.05,237.78 458.38,244.60 458.71,250.63 459.04,255.94 459.38,260.63 459.71,264.77 460.04,268.42 460.37,271.65 460.70,274.49 461.04,277.00 461.45,256.00 461.93,239.14 462.40,223.56 462.88,208.75 463.36,194.50 463.69,200.91 464.02,206.75 464.36,212.07 464.69,216.92 465.02,221.34 465.35,225.38 465.68,229.07 466.02,232.44 466.35,235.53 466.68,238.35 467.01,240.94 467.34,243.32 467.68,245.50 468.01,247.50 468.34,249.35 468.67,251.05 469.00,252.62 469.34,254.06 469.67,255.40 470.00,256.64 470.33,257.79 470.66,258.86 471.00,259.85 471.33,260.77 471.66,261.63 471.99,262.44 472.32,263.19 472.66,263.90 472.99,264.56 473.32,265.19 473.65,265.78 473.98,266.33 474.32,266.86 474.65,267.36 474.98,267.83 475.31,268.28 475.64,268.71 475.98,269.11 476.31,269.50 476.64,269.88 476.97,270.23 477.30,270.58 477.64,270.91 477.97,271.22 478.30,271.53 478.63,271.82 478.96,272.11 479.30,272.38 479.63,272.65 479.96,272.91 480.29,273.16 480.62,273.40 480.96,273.64 481.29,273.87 481.62,274.09 481.95,274.31 482.28,274.52 482.62,274.73 482.95,274.93 483.28,275.13 483.61,275.32 483.94,275.51 484.28,275.69 484.61,275.87 484.94,276.05 485.27,276.22 485.60,276.39 485.94,276.56 486.27,276.72 486.60,276.88 486.93,277.04 487.26,277.19 487.60,277.34 487.93,277.49 488.26,277.63 488.59,277.77 488.92,277.91 489.26,278.05 489.59,278.18 489.92,278.32 490.25,278.45 490.58,278.57 490.92,278.70 491.25,278.82 491.58,278.94 491.91,279.06 492.24,279.18 492.58,279.29 492.91,279.40 493.24,279.51 493.57,279.62 493.90,279.73 494.24,279.84 494.57,279.94 494.90,280.04 495.23,280.14 495.56,280.24 495.90,280.34 496.23,280.43 496.56,280.52 496.89,280.62 497.22,280.71 497.56,280.79 497.89,280.88 498.22,280.97 498.55,281.05 498.88,281.13 499.22,281.22 499.55,281.30 499.88,281.37 500.21,281.45 500.54,281.53 500.88,281.60 501.21,281.68 501.54,281.75 501.87,281.82 502.20,281.89 502.54,281.96 502.87,282.03 503.20,282.09 503.53,282.16 503.86,282.22 504.20,282.29 504.53,282.35 504.86,282.41 505.19,282.47 505.52,282.53 505.86,282.59 506.19,282.65 506.52,282.70 506.85,282.76 507.18,282.81 507.52,282.87 507.85,282.92 508.18,282.97 508.51,283.02 508.84,283.07 509.18,283.12 509.51,283.17 509.84,283.22 510.17,283.27 510.50,283.31 510.84,283.36 511.17,283.40 511.50,283.45 511.83,283.49 512.16,283.53 512.50,283.57 512.83,283.61 513.16,283.65 513.49,283.69 513.82,283.73 514.16,283.77 514.49,283.81 514.82,283.85 515.15,283.88 515.48,283.92 515.82,283.96 516.15,283.99 516.48,284.02 516.81,284.06 517.14,284.09 517.48,284.12 517.81,284.16 518.14,284.19 518.47,284.22 518.80,284.25 519.14,284.28 519.47,284.31 519.80,284.34 520.13,284.37 520.46,284.39 520.80,284.42 521.13,284.45 521.46,284.47 521.79,284.50 522.12,284.53 522.46,284.55 522.79,284.58 523.12,284.60 523.45,284.63 523.78,284.65 524.12,284.67 524.45,284.70 524.78,284.72 525.11,284.74 525.44,284.76 525.78,284.78 526.11,284.80 526.44,284.83 526.77,284.85 527.10,284.87 527.44,284.89 527.77,284.90 528.10,284.92 528.43,284.94 528.76,284.96 529.10,284.98 529.43,285.00 529.76,285.01 530.09,285.03 530.42,285.05 530.76,285.07 531.09,285.08 531.42,285.10 531.75,285.11 532.08,285.13 532.42,285.15 532.75,285.16 533.08,285.18 533.41,285.19 533.74,285.20 534.08,285.22 534.41,285.23 534.74,285.25 535.07,285.26 535.40,285.27 535.74,285.29 536.07,285.30 536.40,285.31 536.73,285.32 537.06,285.34 537.40,285.35 537.73,285.36 538.06,285.37 538.39,285.38 538.72,285.39 539.06,285.40 539.39,285.42 539.72,285.43 540.05,285.44 540.38,285.45" fill="none" stroke="#b06b6b" stroke-width="1.15" stroke-linejoin="round"/>
<polyline points="403.60,303.14 434.28,303.14" fill="none" stroke="#3bb57f" stroke-width="1.15" stroke-linejoin="round"/>
<polyline points="403.60,303.00 434.28,303.00" fill="none" stroke="#f27a72" stroke-width="0.8" stroke-linejoin="round"/>
</g>
<line x1="487.00" y1="201.90" x2="505.00" y2="201.90" stroke="#7d7d7d" stroke-width="1.1"/>
<text x="507.30" y="204.70" font-size="8" text-anchor="start" fill="#262626" stroke="#262626" stroke-width="0.16">1.5 V</text>
<line x1="487.00" y1="212.05" x2="505.00" y2="212.05" stroke="#f27a72" stroke-width="1.1"/>
<text x="507.30" y="214.85" font-size="8" text-anchor="start" fill="#262626" stroke="#262626" stroke-width="0.16">2.0 V</text>
<line x1="487.00" y1="222.20" x2="505.00" y2="222.20" stroke="#3d8ee8" stroke-width="1.1"/>
<text x="507.30" y="225.00" font-size="8" text-anchor="start" fill="#262626" stroke="#262626" stroke-width="0.16">2.5 V</text>
<line x1="487.00" y1="232.35" x2="505.00" y2="232.35" stroke="#3bb57f" stroke-width="1.1"/>
<text x="507.30" y="235.15" font-size="8" text-anchor="start" fill="#262626" stroke="#262626" stroke-width="0.16">3.0 V</text>
<line x1="487.00" y1="242.50" x2="505.00" y2="242.50" stroke="#c37ff0" stroke-width="1.1"/>
<text x="507.30" y="245.30" font-size="8" text-anchor="start" fill="#262626" stroke="#262626" stroke-width="0.16">3.5 V</text>
<line x1="487.00" y1="252.65" x2="505.00" y2="252.65" stroke="#eaae30" stroke-width="1.1"/>
<text x="507.30" y="255.45" font-size="8" text-anchor="start" fill="#262626" stroke="#262626" stroke-width="0.16">4.0 V</text>
<line x1="487.00" y1="262.80" x2="505.00" y2="262.80" stroke="#12d0e0" stroke-width="1.1"/>
<text x="507.30" y="265.60" font-size="8" text-anchor="start" fill="#262626" stroke="#262626" stroke-width="0.16">4.5 V</text>
<line x1="487.00" y1="272.95" x2="505.00" y2="272.95" stroke="#b06b6b" stroke-width="1.1"/>
<text x="507.30" y="275.75" font-size="8" text-anchor="start" fill="#262626" stroke="#262626" stroke-width="0.16">5.0 V</text>
<text x="9.70" y="363.30" font-size="13" text-anchor="start" fill="#262626" stroke="#262626" stroke-width="0.35">(g)</text>
<line x1="45.00" y1="494.00" x2="45.00" y2="497.50" stroke="#333" stroke-width="0.9"/>
<line x1="55.67" y1="494.00" x2="55.67" y2="496.00" stroke="#333" stroke-width="0.9"/>
<line x1="66.35" y1="494.00" x2="66.35" y2="497.50" stroke="#333" stroke-width="0.9"/>
<line x1="77.03" y1="494.00" x2="77.03" y2="496.00" stroke="#333" stroke-width="0.9"/>
<line x1="87.70" y1="494.00" x2="87.70" y2="497.50" stroke="#333" stroke-width="0.9"/>
<line x1="98.38" y1="494.00" x2="98.38" y2="496.00" stroke="#333" stroke-width="0.9"/>
<line x1="109.05" y1="494.00" x2="109.05" y2="497.50" stroke="#333" stroke-width="0.9"/>
<line x1="119.72" y1="494.00" x2="119.72" y2="496.00" stroke="#333" stroke-width="0.9"/>
<line x1="130.40" y1="494.00" x2="130.40" y2="497.50" stroke="#333" stroke-width="0.9"/>
<line x1="141.07" y1="494.00" x2="141.07" y2="496.00" stroke="#333" stroke-width="0.9"/>
<line x1="151.75" y1="494.00" x2="151.75" y2="497.50" stroke="#333" stroke-width="0.9"/>
<line x1="162.42" y1="494.00" x2="162.42" y2="496.00" stroke="#333" stroke-width="0.9"/>
<line x1="173.10" y1="494.00" x2="173.10" y2="497.50" stroke="#333" stroke-width="0.9"/>
<line x1="41.60" y1="494.30" x2="38.10" y2="494.30" stroke="#333" stroke-width="0.9"/>
<line x1="41.60" y1="480.32" x2="39.60" y2="480.32" stroke="#333" stroke-width="0.9"/>
<line x1="41.60" y1="466.35" x2="38.10" y2="466.35" stroke="#333" stroke-width="0.9"/>
<line x1="41.60" y1="452.38" x2="39.60" y2="452.38" stroke="#333" stroke-width="0.9"/>
<line x1="41.60" y1="438.40" x2="38.10" y2="438.40" stroke="#333" stroke-width="0.9"/>
<line x1="41.60" y1="424.43" x2="39.60" y2="424.43" stroke="#333" stroke-width="0.9"/>
<line x1="41.60" y1="410.45" x2="38.10" y2="410.45" stroke="#333" stroke-width="0.9"/>
<line x1="41.60" y1="396.47" x2="39.60" y2="396.47" stroke="#333" stroke-width="0.9"/>
<line x1="41.60" y1="382.50" x2="38.10" y2="382.50" stroke="#333" stroke-width="0.9"/>
<line x1="41.60" y1="368.52" x2="39.60" y2="368.52" stroke="#333" stroke-width="0.9"/>
<rect x="41.60" y="362.30" width="131.60" height="131.70" fill="none" stroke="#333" stroke-width="1.3"/>
<text x="45.00" y="507.00" font-size="8" text-anchor="middle" fill="#262626" stroke="#262626" stroke-width="0.16">0</text>
<text x="66.35" y="507.00" font-size="8" text-anchor="middle" fill="#262626" stroke="#262626" stroke-width="0.16">5</text>
<text x="87.70" y="507.00" font-size="8" text-anchor="middle" fill="#262626" stroke="#262626" stroke-width="0.16">10</text>
<text x="109.05" y="507.00" font-size="8" text-anchor="middle" fill="#262626" stroke="#262626" stroke-width="0.16">15</text>
<text x="130.40" y="507.00" font-size="8" text-anchor="middle" fill="#262626" stroke="#262626" stroke-width="0.16">20</text>
<text x="151.75" y="507.00" font-size="8" text-anchor="middle" fill="#262626" stroke="#262626" stroke-width="0.16">25</text>
<text x="173.10" y="507.00" font-size="8" text-anchor="middle" fill="#262626" stroke="#262626" stroke-width="0.16">30</text>
<text x="34.20" y="497.10" font-size="8" text-anchor="end" fill="#262626" stroke="#262626" stroke-width="0.16">0.2</text>
<text x="34.20" y="469.15" font-size="8" text-anchor="end" fill="#262626" stroke="#262626" stroke-width="0.16">0.4</text>
<text x="34.20" y="441.20" font-size="8" text-anchor="end" fill="#262626" stroke="#262626" stroke-width="0.16">0.6</text>
<text x="34.20" y="413.25" font-size="8" text-anchor="end" fill="#262626" stroke="#262626" stroke-width="0.16">0.8</text>
<text x="34.20" y="385.30" font-size="8" text-anchor="end" fill="#262626" stroke="#262626" stroke-width="0.16">1.0</text>
<text x="107.30" y="520.80" font-size="8" text-anchor="middle" fill="#262626" stroke="#262626" stroke-width="0.16">Pulse Number</text>
<text x="17.50" y="427.50" font-size="8" text-anchor="middle" fill="#262626" stroke="#262626" stroke-width="0.16" transform="rotate(-90 17.50 427.50)"><tspan font-style="italic">I</tspan><tspan font-size="5.5" dy="2">d</tspan><tspan dy="-2"> (&#956;A)</tspan></text>
<polyline points="49.27,447.97 53.54,437.53 57.81,432.32 62.08,430.36 66.35,427.59 70.62,426.82 74.89,426.16 79.16,425.06 83.43,424.24 87.70,423.39 91.97,423.19 96.24,422.83 100.51,422.85 104.78,422.47 109.05,422.29 113.32,422.03 117.59,422.11 121.86,422.14 126.13,424.72 130.40,422.06 134.67,424.76 138.94,421.99 143.21,421.62 147.48,421.64 151.75,422.38 156.02,422.18 160.29,421.78 164.56,421.79 168.83,421.62 173.10,421.58" fill="none" stroke="#3f3f3f" stroke-width="1.0" stroke-linejoin="round"/>
<rect x="46.67" y="445.37" width="5.20" height="5.20" fill="#3f3f3f"/>
<rect x="50.94" y="434.93" width="5.20" height="5.20" fill="#3f3f3f"/>
<rect x="55.21" y="429.72" width="5.20" height="5.20" fill="#3f3f3f"/>
<rect x="59.48" y="427.76" width="5.20" height="5.20" fill="#3f3f3f"/>
<rect x="63.75" y="424.99" width="5.20" height="5.20" fill="#3f3f3f"/>
<rect x="68.02" y="424.22" width="5.20" height="5.20" fill="#3f3f3f"/>
<rect x="72.29" y="423.56" width="5.20" height="5.20" fill="#3f3f3f"/>
<rect x="76.56" y="422.46" width="5.20" height="5.20" fill="#3f3f3f"/>
<rect x="80.83" y="421.64" width="5.20" height="5.20" fill="#3f3f3f"/>
<rect x="85.10" y="420.79" width="5.20" height="5.20" fill="#3f3f3f"/>
<rect x="89.37" y="420.59" width="5.20" height="5.20" fill="#3f3f3f"/>
<rect x="93.64" y="420.23" width="5.20" height="5.20" fill="#3f3f3f"/>
<rect x="97.91" y="420.25" width="5.20" height="5.20" fill="#3f3f3f"/>
<rect x="102.18" y="419.87" width="5.20" height="5.20" fill="#3f3f3f"/>
<rect x="106.45" y="419.69" width="5.20" height="5.20" fill="#3f3f3f"/>
<rect x="110.72" y="419.43" width="5.20" height="5.20" fill="#3f3f3f"/>
<rect x="114.99" y="419.51" width="5.20" height="5.20" fill="#3f3f3f"/>
<rect x="119.26" y="419.54" width="5.20" height="5.20" fill="#3f3f3f"/>
<rect x="123.53" y="422.12" width="5.20" height="5.20" fill="#3f3f3f"/>
<rect x="127.80" y="419.46" width="5.20" height="5.20" fill="#3f3f3f"/>
<rect x="132.07" y="422.16" width="5.20" height="5.20" fill="#3f3f3f"/>
<rect x="136.34" y="419.39" width="5.20" height="5.20" fill="#3f3f3f"/>
<rect x="140.61" y="419.02" width="5.20" height="5.20" fill="#3f3f3f"/>
<rect x="144.88" y="419.04" width="5.20" height="5.20" fill="#3f3f3f"/>
<rect x="149.15" y="419.78" width="5.20" height="5.20" fill="#3f3f3f"/>
<rect x="153.42" y="419.58" width="5.20" height="5.20" fill="#3f3f3f"/>
<rect x="157.69" y="419.18" width="5.20" height="5.20" fill="#3f3f3f"/>
<rect x="161.96" y="419.19" width="5.20" height="5.20" fill="#3f3f3f"/>
<rect x="166.23" y="419.02" width="5.20" height="5.20" fill="#3f3f3f"/>
<rect x="170.50" y="418.98" width="5.20" height="5.20" fill="#3f3f3f"/>
<polyline points="49.27,442.57 53.54,431.23 57.81,423.53 62.08,419.73 66.35,416.74 70.62,415.98 74.89,415.48 79.16,414.96 83.43,413.82 87.70,413.08 91.97,413.06 96.24,412.63 100.51,412.20 104.78,412.07 109.05,411.59 113.32,411.52 117.59,413.18 121.86,411.59 126.13,411.33 130.40,411.24 134.67,411.33 138.94,411.54 143.21,411.19 147.48,411.42 151.75,411.10 156.02,411.49 160.29,411.04 164.56,411.21 168.83,411.44 173.10,411.21" fill="none" stroke="#f23a3a" stroke-width="1.0" stroke-linejoin="round"/>
<circle cx="49.27" cy="442.57" r="2.60" fill="#f23a3a"/>
<circle cx="53.54" cy="431.23" r="2.60" fill="#f23a3a"/>
<circle cx="57.81" cy="423.53" r="2.60" fill="#f23a3a"/>
<circle cx="62.08" cy="419.73" r="2.60" fill="#f23a3a"/>
<circle cx="66.35" cy="416.74" r="2.60" fill="#f23a3a"/>
<circle cx="70.62" cy="415.98" r="2.60" fill="#f23a3a"/>
<circle cx="74.89" cy="415.48" r="2.60" fill="#f23a3a"/>
<circle cx="79.16" cy="414.96" r="2.60" fill="#f23a3a"/>
<circle cx="83.43" cy="413.82" r="2.60" fill="#f23a3a"/>
<circle cx="87.70" cy="413.08" r="2.60" fill="#f23a3a"/>
<circle cx="91.97" cy="413.06" r="2.60" fill="#f23a3a"/>
<circle cx="96.24" cy="412.63" r="2.60" fill="#f23a3a"/>
<circle cx="100.51" cy="412.20" r="2.60" fill="#f23a3a"/>
<circle cx="104.78" cy="412.07" r="2.60" fill="#f23a3a"/>
<circle cx="109.05" cy="411.59" r="2.60" fill="#f23a3a"/>
<circle cx="113.32" cy="411.52" r="2.60" fill="#f23a3a"/>
<circle cx="117.59" cy="413.18" r="2.60" fill="#f23a3a"/>
<circle cx="121.86" cy="411.59" r="2.60" fill="#f23a3a"/>
<circle cx="126.13" cy="411.33" r="2.60" fill="#f23a3a"/>
<circle cx="130.40" cy="411.24" r="2.60" fill="#f23a3a"/>
<circle cx="134.67" cy="411.33" r="2.60" fill="#f23a3a"/>
<circle cx="138.94" cy="411.54" r="2.60" fill="#f23a3a"/>
<circle cx="143.21" cy="411.19" r="2.60" fill="#f23a3a"/>
<circle cx="147.48" cy="411.42" r="2.60" fill="#f23a3a"/>
<circle cx="151.75" cy="411.10" r="2.60" fill="#f23a3a"/>
<circle cx="156.02" cy="411.49" r="2.60" fill="#f23a3a"/>
<circle cx="160.29" cy="411.04" r="2.60" fill="#f23a3a"/>
<circle cx="164.56" cy="411.21" r="2.60" fill="#f23a3a"/>
<circle cx="168.83" cy="411.44" r="2.60" fill="#f23a3a"/>
<circle cx="173.10" cy="411.21" r="2.60" fill="#f23a3a"/>
<polyline points="49.27,436.71 53.54,419.62 57.81,412.33 62.08,409.98 66.35,407.33 70.62,406.33 74.89,405.03 79.16,403.78 83.43,403.14 87.70,401.59 91.97,400.83 96.24,400.59 100.51,400.14 104.78,399.25 109.05,398.80 113.32,400.27 117.59,398.79 121.86,398.97 126.13,398.61 130.40,398.62 134.67,398.30 138.94,398.35 143.21,398.67 147.48,399.91 151.75,398.01 156.02,397.99 160.29,398.20 164.56,398.00 168.83,397.84 173.10,397.77" fill="none" stroke="#1f6fe0" stroke-width="1.0" stroke-linejoin="round"/>
<polygon points="49.27,433.59 52.39,439.05 46.15,439.05" fill="#1f6fe0"/>
<polygon points="53.54,416.50 56.66,421.96 50.42,421.96" fill="#1f6fe0"/>
<polygon points="57.81,409.21 60.93,414.67 54.69,414.67" fill="#1f6fe0"/>
<polygon points="62.08,406.86 65.20,412.32 58.96,412.32" fill="#1f6fe0"/>
<polygon points="66.35,404.21 69.47,409.67 63.23,409.67" fill="#1f6fe0"/>
<polygon points="70.62,403.21 73.74,408.67 67.50,408.67" fill="#1f6fe0"/>
<polygon points="74.89,401.91 78.01,407.37 71.77,407.37" fill="#1f6fe0"/>
<polygon points="79.16,400.66 82.28,406.12 76.04,406.12" fill="#1f6fe0"/>
<polygon points="83.43,400.02 86.55,405.48 80.31,405.48" fill="#1f6fe0"/>
<polygon points="87.70,398.47 90.82,403.93 84.58,403.93" fill="#1f6fe0"/>
<polygon points="91.97,397.71 95.09,403.17 88.85,403.17" fill="#1f6fe0"/>
<polygon points="96.24,397.47 99.36,402.93 93.12,402.93" fill="#1f6fe0"/>
<polygon points="100.51,397.02 103.63,402.48 97.39,402.48" fill="#1f6fe0"/>
<polygon points="104.78,396.13 107.90,401.59 101.66,401.59" fill="#1f6fe0"/>
<polygon points="109.05,395.68 112.17,401.14 105.93,401.14" fill="#1f6fe0"/>
<polygon points="113.32,397.15 116.44,402.61 110.20,402.61" fill="#1f6fe0"/>
<polygon points="117.59,395.67 120.71,401.13 114.47,401.13" fill="#1f6fe0"/>
<polygon points="121.86,395.85 124.98,401.31 118.74,401.31" fill="#1f6fe0"/>
<polygon points="126.13,395.49 129.25,400.95 123.01,400.95" fill="#1f6fe0"/>
<polygon points="130.40,395.50 133.52,400.96 127.28,400.96" fill="#1f6fe0"/>
<polygon points="134.67,395.18 137.79,400.64 131.55,400.64" fill="#1f6fe0"/>
<polygon points="138.94,395.23 142.06,400.69 135.82,400.69" fill="#1f6fe0"/>
<polygon points="143.21,395.55 146.33,401.01 140.09,401.01" fill="#1f6fe0"/>
<polygon points="147.48,396.79 150.60,402.25 144.36,402.25" fill="#1f6fe0"/>
<polygon points="151.75,394.89 154.87,400.35 148.63,400.35" fill="#1f6fe0"/>
<polygon points="156.02,394.87 159.14,400.33 152.90,400.33" fill="#1f6fe0"/>
<polygon points="160.29,395.08 163.41,400.54 157.17,400.54" fill="#1f6fe0"/>
<polygon points="164.56,394.88 167.68,400.34 161.44,400.34" fill="#1f6fe0"/>
<polygon points="168.83,394.72 171.95,400.18 165.71,400.18" fill="#1f6fe0"/>
<polygon points="173.10,394.65 176.22,400.11 169.98,400.11" fill="#1f6fe0"/>
<polyline points="49.27,430.25 53.54,413.05 57.81,405.58 62.08,401.77 66.35,397.65 70.62,397.23 74.89,395.67 79.16,394.51 83.43,393.70 87.70,392.21 91.97,392.06 96.24,391.38 100.51,391.22 104.78,390.69 109.05,390.21 113.32,390.27 117.59,390.43 121.86,390.45 126.13,389.65 130.40,389.93 134.67,389.94 138.94,389.65 143.21,389.61 147.48,389.28 151.75,389.34 156.02,389.23 160.29,389.27 164.56,388.91 168.83,389.12 173.10,388.65" fill="none" stroke="#13a65c" stroke-width="1.0" stroke-linejoin="round"/>
<polygon points="49.27,433.37 52.39,427.91 46.15,427.91" fill="#13a65c"/>
<polygon points="53.54,416.17 56.66,410.71 50.42,410.71" fill="#13a65c"/>
<polygon points="57.81,408.70 60.93,403.24 54.69,403.24" fill="#13a65c"/>
<polygon points="62.08,404.89 65.20,399.43 58.96,399.43" fill="#13a65c"/>
<polygon points="66.35,400.77 69.47,395.31 63.23,395.31" fill="#13a65c"/>
<polygon points="70.62,400.35 73.74,394.89 67.50,394.89" fill="#13a65c"/>
<polygon points="74.89,398.79 78.01,393.33 71.77,393.33" fill="#13a65c"/>
<polygon points="79.16,397.63 82.28,392.17 76.04,392.17" fill="#13a65c"/>
<polygon points="83.43,396.82 86.55,391.36 80.31,391.36" fill="#13a65c"/>
<polygon points="87.70,395.33 90.82,389.87 84.58,389.87" fill="#13a65c"/>
<polygon points="91.97,395.18 95.09,389.72 88.85,389.72" fill="#13a65c"/>
<polygon points="96.24,394.50 99.36,389.04 93.12,389.04" fill="#13a65c"/>
<polygon points="100.51,394.34 103.63,388.88 97.39,388.88" fill="#13a65c"/>
<polygon points="104.78,393.81 107.90,388.35 101.66,388.35" fill="#13a65c"/>
<polygon points="109.05,393.33 112.17,387.87 105.93,387.87" fill="#13a65c"/>
<polygon points="113.32,393.39 116.44,387.93 110.20,387.93" fill="#13a65c"/>
<polygon points="117.59,393.55 120.71,388.09 114.47,388.09" fill="#13a65c"/>
<polygon points="121.86,393.57 124.98,388.11 118.74,388.11" fill="#13a65c"/>
<polygon points="126.13,392.77 129.25,387.31 123.01,387.31" fill="#13a65c"/>
<polygon points="130.40,393.05 133.52,387.59 127.28,387.59" fill="#13a65c"/>
<polygon points="134.67,393.06 137.79,387.60 131.55,387.60" fill="#13a65c"/>
<polygon points="138.94,392.77 142.06,387.31 135.82,387.31" fill="#13a65c"/>
<polygon points="143.21,392.73 146.33,387.27 140.09,387.27" fill="#13a65c"/>
<polygon points="147.48,392.40 150.60,386.94 144.36,386.94" fill="#13a65c"/>
<polygon points="151.75,392.46 154.87,387.00 148.63,387.00" fill="#13a65c"/>
<polygon points="156.02,392.35 159.14,386.89 152.90,386.89" fill="#13a65c"/>
<polygon points="160.29,392.39 163.41,386.93 157.17,386.93" fill="#13a65c"/>
<polygon points="164.56,392.03 167.68,386.57 161.44,386.57" fill="#13a65c"/>
<polygon points="168.83,392.24 171.95,386.78 165.71,386.78" fill="#13a65c"/>
<polygon points="173.10,391.77 176.22,386.31 169.98,386.31" fill="#13a65c"/>
<polyline points="49.27,422.57 53.54,404.90 57.81,395.59 62.08,391.17 66.35,387.00 70.62,386.43 74.89,385.17 79.16,383.47 83.43,382.45 87.70,381.07 91.97,380.64 96.24,380.07 100.51,379.87 104.78,379.34 109.05,379.04 113.32,379.04 117.59,378.79 121.86,378.79 126.13,378.45 130.40,378.54 134.67,378.40 138.94,377.72 143.21,377.90 147.48,377.76 151.75,377.50 156.02,377.56 160.29,377.38 164.56,377.10 168.83,376.99 173.10,377.15" fill="none" stroke="#c77aef" stroke-width="1.0" stroke-linejoin="round"/>
<polygon points="49.27,419.19 52.65,422.57 49.27,425.95 45.89,422.57" fill="#c77aef"/>
<polygon points="53.54,401.52 56.92,404.90 53.54,408.28 50.16,404.90" fill="#c77aef"/>
<polygon points="57.81,392.21 61.19,395.59 57.81,398.97 54.43,395.59" fill="#c77aef"/>
<polygon points="62.08,387.79 65.46,391.17 62.08,394.55 58.70,391.17" fill="#c77aef"/>
<polygon points="66.35,383.62 69.73,387.00 66.35,390.38 62.97,387.00" fill="#c77aef"/>
<polygon points="70.62,383.05 74.00,386.43 70.62,389.81 67.24,386.43" fill="#c77aef"/>
<polygon points="74.89,381.79 78.27,385.17 74.89,388.55 71.51,385.17" fill="#c77aef"/>
<polygon points="79.16,380.09 82.54,383.47 79.16,386.85 75.78,383.47" fill="#c77aef"/>
<polygon points="83.43,379.07 86.81,382.45 83.43,385.83 80.05,382.45" fill="#c77aef"/>
<polygon points="87.70,377.69 91.08,381.07 87.70,384.45 84.32,381.07" fill="#c77aef"/>
<polygon points="91.97,377.26 95.35,380.64 91.97,384.02 88.59,380.64" fill="#c77aef"/>
<polygon points="96.24,376.69 99.62,380.07 96.24,383.45 92.86,380.07" fill="#c77aef"/>
<polygon points="100.51,376.49 103.89,379.87 100.51,383.25 97.13,379.87" fill="#c77aef"/>
<polygon points="104.78,375.96 108.16,379.34 104.78,382.72 101.40,379.34" fill="#c77aef"/>
<polygon points="109.05,375.66 112.43,379.04 109.05,382.42 105.67,379.04" fill="#c77aef"/>
<polygon points="113.32,375.66 116.70,379.04 113.32,382.42 109.94,379.04" fill="#c77aef"/>
<polygon points="117.59,375.41 120.97,378.79 117.59,382.17 114.21,378.79" fill="#c77aef"/>
<polygon points="121.86,375.41 125.24,378.79 121.86,382.17 118.48,378.79" fill="#c77aef"/>
<polygon points="126.13,375.07 129.51,378.45 126.13,381.83 122.75,378.45" fill="#c77aef"/>
<polygon points="130.40,375.16 133.78,378.54 130.40,381.92 127.02,378.54" fill="#c77aef"/>
<polygon points="134.67,375.02 138.05,378.40 134.67,381.78 131.29,378.40" fill="#c77aef"/>
<polygon points="138.94,374.34 142.32,377.72 138.94,381.10 135.56,377.72" fill="#c77aef"/>
<polygon points="143.21,374.52 146.59,377.90 143.21,381.28 139.83,377.90" fill="#c77aef"/>
<polygon points="147.48,374.38 150.86,377.76 147.48,381.14 144.10,377.76" fill="#c77aef"/>
<polygon points="151.75,374.12 155.13,377.50 151.75,380.88 148.37,377.50" fill="#c77aef"/>
<polygon points="156.02,374.18 159.40,377.56 156.02,380.94 152.64,377.56" fill="#c77aef"/>
<polygon points="160.29,374.00 163.67,377.38 160.29,380.76 156.91,377.38" fill="#c77aef"/>
<polygon points="164.56,373.72 167.94,377.10 164.56,380.48 161.18,377.10" fill="#c77aef"/>
<polygon points="168.83,373.61 172.21,376.99 168.83,380.37 165.45,376.99" fill="#c77aef"/>
<polygon points="173.10,373.77 176.48,377.15 173.10,380.53 169.72,377.15" fill="#c77aef"/>
<polyline points="49.27,416.98 53.54,397.72 57.81,388.73 62.08,384.92 66.35,381.04 70.62,379.48 74.89,378.92 79.16,377.49 83.43,376.83 87.70,375.23 91.97,374.09 96.24,373.38 100.51,372.51 104.78,371.38 109.05,370.33 113.32,370.21 117.59,369.81 121.86,370.05 126.13,370.08 130.40,369.86 134.67,369.71 138.94,369.55 143.21,369.44 147.48,369.27 151.75,369.53 156.02,368.87 160.29,369.04 164.56,369.03 168.83,368.52 173.10,368.25" fill="none" stroke="#e39e12" stroke-width="1.0" stroke-linejoin="round"/>
<polygon points="46.15,416.98 51.61,413.86 51.61,420.10" fill="#e39e12"/>
<polygon points="50.42,397.72 55.88,394.60 55.88,400.84" fill="#e39e12"/>
<polygon points="54.69,388.73 60.15,385.61 60.15,391.85" fill="#e39e12"/>
<polygon points="58.96,384.92 64.42,381.80 64.42,388.04" fill="#e39e12"/>
<polygon points="63.23,381.04 68.69,377.92 68.69,384.16" fill="#e39e12"/>
<polygon points="67.50,379.48 72.96,376.36 72.96,382.60" fill="#e39e12"/>
<polygon points="71.77,378.92 77.23,375.80 77.23,382.04" fill="#e39e12"/>
<polygon points="76.04,377.49 81.50,374.37 81.50,380.61" fill="#e39e12"/>
<polygon points="80.31,376.83 85.77,373.71 85.77,379.95" fill="#e39e12"/>
<polygon points="84.58,375.23 90.04,372.11 90.04,378.35" fill="#e39e12"/>
<polygon points="88.85,374.09 94.31,370.97 94.31,377.21" fill="#e39e12"/>
<polygon points="93.12,373.38 98.58,370.26 98.58,376.50" fill="#e39e12"/>
<polygon points="97.39,372.51 102.85,369.39 102.85,375.63" fill="#e39e12"/>
<polygon points="101.66,371.38 107.12,368.26 107.12,374.50" fill="#e39e12"/>
<polygon points="105.93,370.33 111.39,367.21 111.39,373.45" fill="#e39e12"/>
<polygon points="110.20,370.21 115.66,367.09 115.66,373.33" fill="#e39e12"/>
<polygon points="114.47,369.81 119.93,366.69 119.93,372.93" fill="#e39e12"/>
<polygon points="118.74,370.05 124.20,366.93 124.20,373.17" fill="#e39e12"/>
<polygon points="123.01,370.08 128.47,366.96 128.47,373.20" fill="#e39e12"/>
<polygon points="127.28,369.86 132.74,366.74 132.74,372.98" fill="#e39e12"/>
<polygon points="131.55,369.71 137.01,366.59 137.01,372.83" fill="#e39e12"/>
<polygon points="135.82,369.55 141.28,366.43 141.28,372.67" fill="#e39e12"/>
<polygon points="140.09,369.44 145.55,366.32 145.55,372.56" fill="#e39e12"/>
<polygon points="144.36,369.27 149.82,366.15 149.82,372.39" fill="#e39e12"/>
<polygon points="148.63,369.53 154.09,366.41 154.09,372.65" fill="#e39e12"/>
<polygon points="152.90,368.87 158.36,365.75 158.36,371.99" fill="#e39e12"/>
<polygon points="157.17,369.04 162.63,365.92 162.63,372.16" fill="#e39e12"/>
<polygon points="161.44,369.03 166.90,365.91 166.90,372.15" fill="#e39e12"/>
<polygon points="165.71,368.52 171.17,365.40 171.17,371.64" fill="#e39e12"/>
<polygon points="169.98,368.25 175.44,365.13 175.44,371.37" fill="#e39e12"/>
<text x="44.60" y="467.40" font-size="8" text-anchor="start" fill="#262626" stroke="#262626" stroke-width="0.16">Pulse width</text>
<line x1="44.60" y1="475.00" x2="62.60" y2="475.00" stroke="#3f3f3f" stroke-width="0.9"/>
<rect x="51.20" y="472.60" width="4.80" height="4.80" fill="#3f3f3f"/>
<text x="65.10" y="477.80" font-size="8" text-anchor="start" fill="#262626" stroke="#262626" stroke-width="0.16">20ms</text>
<line x1="85.70" y1="475.00" x2="103.70" y2="475.00" stroke="#f23a3a" stroke-width="0.9"/>
<circle cx="94.70" cy="475.00" r="2.40" fill="#f23a3a"/>
<text x="106.20" y="477.80" font-size="8" text-anchor="start" fill="#262626" stroke="#262626" stroke-width="0.16">30ms</text>
<line x1="126.80" y1="475.00" x2="144.80" y2="475.00" stroke="#1f6fe0" stroke-width="0.9"/>
<polygon points="135.80,472.12 138.68,477.16 132.92,477.16" fill="#1f6fe0"/>
<text x="147.30" y="477.80" font-size="8" text-anchor="start" fill="#262626" stroke="#262626" stroke-width="0.16">40ms</text>
<line x1="44.60" y1="485.20" x2="62.60" y2="485.20" stroke="#13a65c" stroke-width="0.9"/>
<polygon points="53.60,488.08 56.48,483.04 50.72,483.04" fill="#13a65c"/>
<text x="65.10" y="488.00" font-size="8" text-anchor="start" fill="#262626" stroke="#262626" stroke-width="0.16">50ms</text>
<line x1="85.70" y1="485.20" x2="103.70" y2="485.20" stroke="#c77aef" stroke-width="0.9"/>
<polygon points="94.70,482.08 97.82,485.20 94.70,488.32 91.58,485.20" fill="#c77aef"/>
<text x="106.20" y="488.00" font-size="8" text-anchor="start" fill="#262626" stroke="#262626" stroke-width="0.16">60ms</text>
<line x1="126.80" y1="485.20" x2="144.80" y2="485.20" stroke="#e39e12" stroke-width="0.9"/>
<polygon points="132.92,485.20 137.96,482.32 137.96,488.08" fill="#e39e12"/>
<text x="147.30" y="488.00" font-size="8" text-anchor="start" fill="#262626" stroke="#262626" stroke-width="0.16">70ms</text>
<text x="181.90" y="363.30" font-size="13" text-anchor="start" fill="#262626" stroke="#262626" stroke-width="0.35">(h)</text>
<line x1="225.00" y1="495.00" x2="225.00" y2="498.50" stroke="#333" stroke-width="0.9"/>
<line x1="235.71" y1="495.00" x2="235.71" y2="497.00" stroke="#333" stroke-width="0.9"/>
<line x1="246.41" y1="495.00" x2="246.41" y2="498.50" stroke="#333" stroke-width="0.9"/>
<line x1="257.12" y1="495.00" x2="257.12" y2="497.00" stroke="#333" stroke-width="0.9"/>
<line x1="267.83" y1="495.00" x2="267.83" y2="498.50" stroke="#333" stroke-width="0.9"/>
<line x1="278.54" y1="495.00" x2="278.54" y2="497.00" stroke="#333" stroke-width="0.9"/>
<line x1="289.25" y1="495.00" x2="289.25" y2="498.50" stroke="#333" stroke-width="0.9"/>
<line x1="299.95" y1="495.00" x2="299.95" y2="497.00" stroke="#333" stroke-width="0.9"/>
<line x1="310.66" y1="495.00" x2="310.66" y2="498.50" stroke="#333" stroke-width="0.9"/>
<line x1="321.37" y1="495.00" x2="321.37" y2="497.00" stroke="#333" stroke-width="0.9"/>
<line x1="332.07" y1="495.00" x2="332.07" y2="498.50" stroke="#333" stroke-width="0.9"/>
<line x1="342.78" y1="495.00" x2="342.78" y2="497.00" stroke="#333" stroke-width="0.9"/>
<line x1="353.49" y1="495.00" x2="353.49" y2="498.50" stroke="#333" stroke-width="0.9"/>
<line x1="221.40" y1="494.95" x2="219.40" y2="494.95" stroke="#333" stroke-width="0.9"/>
<line x1="221.40" y1="468.50" x2="217.90" y2="468.50" stroke="#333" stroke-width="0.9"/>
<line x1="221.40" y1="442.05" x2="219.40" y2="442.05" stroke="#333" stroke-width="0.9"/>
<line x1="221.40" y1="415.60" x2="217.90" y2="415.60" stroke="#333" stroke-width="0.9"/>
<line x1="221.40" y1="389.15" x2="219.40" y2="389.15" stroke="#333" stroke-width="0.9"/>
<line x1="221.40" y1="362.70" x2="217.90" y2="362.70" stroke="#333" stroke-width="0.9"/>
<rect x="221.40" y="362.70" width="132.00" height="132.30" fill="none" stroke="#333" stroke-width="1.3"/>
<text x="225.00" y="508.00" font-size="8" text-anchor="middle" fill="#262626" stroke="#262626" stroke-width="0.16">0</text>
<text x="246.41" y="508.00" font-size="8" text-anchor="middle" fill="#262626" stroke="#262626" stroke-width="0.16">5</text>
<text x="267.83" y="508.00" font-size="8" text-anchor="middle" fill="#262626" stroke="#262626" stroke-width="0.16">10</text>
<text x="289.25" y="508.00" font-size="8" text-anchor="middle" fill="#262626" stroke="#262626" stroke-width="0.16">15</text>
<text x="310.66" y="508.00" font-size="8" text-anchor="middle" fill="#262626" stroke="#262626" stroke-width="0.16">20</text>
<text x="332.07" y="508.00" font-size="8" text-anchor="middle" fill="#262626" stroke="#262626" stroke-width="0.16">25</text>
<text x="353.49" y="508.00" font-size="8" text-anchor="middle" fill="#262626" stroke="#262626" stroke-width="0.16">30</text>
<text x="213.60" y="471.30" font-size="8" text-anchor="end" fill="#262626" stroke="#262626" stroke-width="0.16">0.2</text>
<text x="213.60" y="418.40" font-size="8" text-anchor="end" fill="#262626" stroke="#262626" stroke-width="0.16">0.4</text>
<text x="213.60" y="365.50" font-size="8" text-anchor="end" fill="#262626" stroke="#262626" stroke-width="0.16">0.6</text>
<text x="286.60" y="522.50" font-size="8" text-anchor="middle" fill="#262626" stroke="#262626" stroke-width="0.16">Pulse Number</text>
<text x="197.50" y="429.00" font-size="8" text-anchor="middle" fill="#262626" stroke="#262626" stroke-width="0.16" transform="rotate(-90 197.50 429.00)"><tspan font-style="italic">I</tspan><tspan font-size="5.5" dy="2">d</tspan><tspan dy="-2"> (&#956;A)</tspan></text>
<polyline points="229.28,452.79 233.57,434.13 237.85,415.29 242.13,412.92 246.41,407.24 250.70,403.53 254.98,400.25 259.26,395.62 263.55,394.52 267.83,393.60 272.11,391.43 276.40,390.75 280.68,389.40 284.96,388.28 289.25,386.26 293.53,386.33 297.81,385.76 302.09,391.43 306.38,385.52 310.66,385.83 314.94,384.68 319.23,384.80 323.51,384.50 327.79,384.22 332.07,390.04 336.36,383.57 340.64,382.67 344.92,384.39 349.21,384.21 353.49,383.86" fill="none" stroke="#3f3f3f" stroke-width="1.0" stroke-linejoin="round"/>
<rect x="226.68" y="450.19" width="5.20" height="5.20" fill="#3f3f3f"/>
<rect x="230.97" y="431.53" width="5.20" height="5.20" fill="#3f3f3f"/>
<rect x="235.25" y="412.69" width="5.20" height="5.20" fill="#3f3f3f"/>
<rect x="239.53" y="410.32" width="5.20" height="5.20" fill="#3f3f3f"/>
<rect x="243.81" y="404.64" width="5.20" height="5.20" fill="#3f3f3f"/>
<rect x="248.10" y="400.93" width="5.20" height="5.20" fill="#3f3f3f"/>
<rect x="252.38" y="397.65" width="5.20" height="5.20" fill="#3f3f3f"/>
<rect x="256.66" y="393.02" width="5.20" height="5.20" fill="#3f3f3f"/>
<rect x="260.95" y="391.92" width="5.20" height="5.20" fill="#3f3f3f"/>
<rect x="265.23" y="391.00" width="5.20" height="5.20" fill="#3f3f3f"/>
<rect x="269.51" y="388.83" width="5.20" height="5.20" fill="#3f3f3f"/>
<rect x="273.80" y="388.15" width="5.20" height="5.20" fill="#3f3f3f"/>
<rect x="278.08" y="386.80" width="5.20" height="5.20" fill="#3f3f3f"/>
<rect x="282.36" y="385.68" width="5.20" height="5.20" fill="#3f3f3f"/>
<rect x="286.64" y="383.66" width="5.20" height="5.20" fill="#3f3f3f"/>
<rect x="290.93" y="383.73" width="5.20" height="5.20" fill="#3f3f3f"/>
<rect x="295.21" y="383.16" width="5.20" height="5.20" fill="#3f3f3f"/>
<rect x="299.49" y="388.83" width="5.20" height="5.20" fill="#3f3f3f"/>
<rect x="303.78" y="382.92" width="5.20" height="5.20" fill="#3f3f3f"/>
<rect x="308.06" y="383.23" width="5.20" height="5.20" fill="#3f3f3f"/>
<rect x="312.34" y="382.08" width="5.20" height="5.20" fill="#3f3f3f"/>
<rect x="316.63" y="382.20" width="5.20" height="5.20" fill="#3f3f3f"/>
<rect x="320.91" y="381.90" width="5.20" height="5.20" fill="#3f3f3f"/>
<rect x="325.19" y="381.62" width="5.20" height="5.20" fill="#3f3f3f"/>
<rect x="329.47" y="387.44" width="5.20" height="5.20" fill="#3f3f3f"/>
<rect x="333.76" y="380.97" width="5.20" height="5.20" fill="#3f3f3f"/>
<rect x="338.04" y="380.07" width="5.20" height="5.20" fill="#3f3f3f"/>
<rect x="342.32" y="381.79" width="5.20" height="5.20" fill="#3f3f3f"/>
<rect x="346.61" y="381.61" width="5.20" height="5.20" fill="#3f3f3f"/>
<rect x="350.89" y="381.26" width="5.20" height="5.20" fill="#3f3f3f"/>
<polyline points="229.28,448.48 233.57,433.78 237.85,418.20 242.13,414.42 246.41,410.73 250.70,408.93 254.98,407.40 259.26,405.09 263.55,405.47 267.83,404.41 272.11,403.38 276.40,401.88 280.68,402.55 284.96,402.04 289.25,401.09 293.53,400.26 297.81,400.88 302.09,400.03 306.38,401.71 310.66,400.10 314.94,400.13 319.23,408.03 323.51,397.92 327.79,399.99 332.07,400.57 336.36,400.07 340.64,399.32 344.92,400.41 349.21,400.69 353.49,400.93" fill="none" stroke="#f23a3a" stroke-width="1.0" stroke-linejoin="round"/>
<circle cx="229.28" cy="448.48" r="2.60" fill="#f23a3a"/>
<circle cx="233.57" cy="433.78" r="2.60" fill="#f23a3a"/>
<circle cx="237.85" cy="418.20" r="2.60" fill="#f23a3a"/>
<circle cx="242.13" cy="414.42" r="2.60" fill="#f23a3a"/>
<circle cx="246.41" cy="410.73" r="2.60" fill="#f23a3a"/>
<circle cx="250.70" cy="408.93" r="2.60" fill="#f23a3a"/>
<circle cx="254.98" cy="407.40" r="2.60" fill="#f23a3a"/>
<circle cx="259.26" cy="405.09" r="2.60" fill="#f23a3a"/>
<circle cx="263.55" cy="405.47" r="2.60" fill="#f23a3a"/>
<circle cx="267.83" cy="404.41" r="2.60" fill="#f23a3a"/>
<circle cx="272.11" cy="403.38" r="2.60" fill="#f23a3a"/>
<circle cx="276.40" cy="401.88" r="2.60" fill="#f23a3a"/>
<circle cx="280.68" cy="402.55" r="2.60" fill="#f23a3a"/>
<circle cx="284.96" cy="402.04" r="2.60" fill="#f23a3a"/>
<circle cx="289.25" cy="401.09" r="2.60" fill="#f23a3a"/>
<circle cx="293.53" cy="400.26" r="2.60" fill="#f23a3a"/>
<circle cx="297.81" cy="400.88" r="2.60" fill="#f23a3a"/>
<circle cx="302.09" cy="400.03" r="2.60" fill="#f23a3a"/>
<circle cx="306.38" cy="401.71" r="2.60" fill="#f23a3a"/>
<circle cx="310.66" cy="400.10" r="2.60" fill="#f23a3a"/>
<circle cx="314.94" cy="400.13" r="2.60" fill="#f23a3a"/>
<circle cx="319.23" cy="408.03" r="2.60" fill="#f23a3a"/>
<circle cx="323.51" cy="397.92" r="2.60" fill="#f23a3a"/>
<circle cx="327.79" cy="399.99" r="2.60" fill="#f23a3a"/>
<circle cx="332.07" cy="400.57" r="2.60" fill="#f23a3a"/>
<circle cx="336.36" cy="400.07" r="2.60" fill="#f23a3a"/>
<circle cx="340.64" cy="399.32" r="2.60" fill="#f23a3a"/>
<circle cx="344.92" cy="400.41" r="2.60" fill="#f23a3a"/>
<circle cx="349.21" cy="400.69" r="2.60" fill="#f23a3a"/>
<circle cx="353.49" cy="400.93" r="2.60" fill="#f23a3a"/>
<polyline points="229.28,448.58 233.57,431.84 237.85,420.72 242.13,417.90 246.41,414.73 250.70,415.02 254.98,414.65 259.26,414.51 263.55,411.79 267.83,411.59 272.11,410.04 276.40,410.05 280.68,409.64 284.96,408.21 289.25,407.71 293.53,408.33 297.81,408.13 302.09,406.73 306.38,407.48 310.66,407.44 314.94,407.81 319.23,408.03 323.51,410.37 327.79,407.72 332.07,408.07 336.36,407.74 340.64,408.14 344.92,407.56 349.21,407.07 353.49,408.11" fill="none" stroke="#1f6fe0" stroke-width="1.0" stroke-linejoin="round"/>
<polygon points="229.28,445.46 232.40,450.92 226.16,450.92" fill="#1f6fe0"/>
<polygon points="233.57,428.72 236.69,434.18 230.45,434.18" fill="#1f6fe0"/>
<polygon points="237.85,417.60 240.97,423.06 234.73,423.06" fill="#1f6fe0"/>
<polygon points="242.13,414.78 245.25,420.24 239.01,420.24" fill="#1f6fe0"/>
<polygon points="246.41,411.61 249.53,417.07 243.29,417.07" fill="#1f6fe0"/>
<polygon points="250.70,411.90 253.82,417.36 247.58,417.36" fill="#1f6fe0"/>
<polygon points="254.98,411.53 258.10,416.99 251.86,416.99" fill="#1f6fe0"/>
<polygon points="259.26,411.39 262.38,416.85 256.14,416.85" fill="#1f6fe0"/>
<polygon points="263.55,408.67 266.67,414.13 260.43,414.13" fill="#1f6fe0"/>
<polygon points="267.83,408.47 270.95,413.93 264.71,413.93" fill="#1f6fe0"/>
<polygon points="272.11,406.92 275.23,412.38 268.99,412.38" fill="#1f6fe0"/>
<polygon points="276.40,406.93 279.52,412.39 273.28,412.39" fill="#1f6fe0"/>
<polygon points="280.68,406.52 283.80,411.98 277.56,411.98" fill="#1f6fe0"/>
<polygon points="284.96,405.09 288.08,410.55 281.84,410.55" fill="#1f6fe0"/>
<polygon points="289.25,404.59 292.37,410.05 286.12,410.05" fill="#1f6fe0"/>
<polygon points="293.53,405.21 296.65,410.67 290.41,410.67" fill="#1f6fe0"/>
<polygon points="297.81,405.01 300.93,410.47 294.69,410.47" fill="#1f6fe0"/>
<polygon points="302.09,403.61 305.21,409.07 298.97,409.07" fill="#1f6fe0"/>
<polygon points="306.38,404.36 309.50,409.82 303.26,409.82" fill="#1f6fe0"/>
<polygon points="310.66,404.32 313.78,409.78 307.54,409.78" fill="#1f6fe0"/>
<polygon points="314.94,404.69 318.06,410.15 311.82,410.15" fill="#1f6fe0"/>
<polygon points="319.23,404.91 322.35,410.37 316.11,410.37" fill="#1f6fe0"/>
<polygon points="323.51,407.25 326.63,412.71 320.39,412.71" fill="#1f6fe0"/>
<polygon points="327.79,404.60 330.91,410.06 324.67,410.06" fill="#1f6fe0"/>
<polygon points="332.07,404.95 335.19,410.41 328.95,410.41" fill="#1f6fe0"/>
<polygon points="336.36,404.62 339.48,410.08 333.24,410.08" fill="#1f6fe0"/>
<polygon points="340.64,405.02 343.76,410.48 337.52,410.48" fill="#1f6fe0"/>
<polygon points="344.92,404.44 348.04,409.90 341.80,409.90" fill="#1f6fe0"/>
<polygon points="349.21,403.95 352.33,409.41 346.09,409.41" fill="#1f6fe0"/>
<polygon points="353.49,404.99 356.61,410.45 350.37,410.45" fill="#1f6fe0"/>
<polyline points="229.28,448.17 233.57,434.20 237.85,422.40 242.13,420.94 246.41,418.63 250.70,417.96 254.98,417.68 259.26,417.29 263.55,416.75 267.83,416.30 272.11,416.17 276.40,414.95 280.68,414.07 284.96,413.27 289.25,412.88 293.53,411.95 297.81,413.12 302.09,413.57 306.38,412.37 310.66,413.95 314.94,412.92 319.23,413.97 323.51,413.31 327.79,414.58 332.07,413.10 336.36,413.69 340.64,414.15 344.92,412.79 349.21,413.31 353.49,413.72" fill="none" stroke="#13a65c" stroke-width="1.0" stroke-linejoin="round"/>
<polygon points="229.28,451.29 232.40,445.83 226.16,445.83" fill="#13a65c"/>
<polygon points="233.57,437.32 236.69,431.86 230.45,431.86" fill="#13a65c"/>
<polygon points="237.85,425.52 240.97,420.06 234.73,420.06" fill="#13a65c"/>
<polygon points="242.13,424.06 245.25,418.60 239.01,418.60" fill="#13a65c"/>
<polygon points="246.41,421.75 249.53,416.29 243.29,416.29" fill="#13a65c"/>
<polygon points="250.70,421.08 253.82,415.62 247.58,415.62" fill="#13a65c"/>
<polygon points="254.98,420.80 258.10,415.34 251.86,415.34" fill="#13a65c"/>
<polygon points="259.26,420.41 262.38,414.95 256.14,414.95" fill="#13a65c"/>
<polygon points="263.55,419.87 266.67,414.41 260.43,414.41" fill="#13a65c"/>
<polygon points="267.83,419.42 270.95,413.96 264.71,413.96" fill="#13a65c"/>
<polygon points="272.11,419.29 275.23,413.83 268.99,413.83" fill="#13a65c"/>
<polygon points="276.40,418.07 279.52,412.61 273.28,412.61" fill="#13a65c"/>
<polygon points="280.68,417.19 283.80,411.73 277.56,411.73" fill="#13a65c"/>
<polygon points="284.96,416.39 288.08,410.93 281.84,410.93" fill="#13a65c"/>
<polygon points="289.25,416.00 292.37,410.54 286.12,410.54" fill="#13a65c"/>
<polygon points="293.53,415.07 296.65,409.61 290.41,409.61" fill="#13a65c"/>
<polygon points="297.81,416.24 300.93,410.78 294.69,410.78" fill="#13a65c"/>
<polygon points="302.09,416.69 305.21,411.23 298.97,411.23" fill="#13a65c"/>
<polygon points="306.38,415.49 309.50,410.03 303.26,410.03" fill="#13a65c"/>
<polygon points="310.66,417.07 313.78,411.61 307.54,411.61" fill="#13a65c"/>
<polygon points="314.94,416.04 318.06,410.58 311.82,410.58" fill="#13a65c"/>
<polygon points="319.23,417.09 322.35,411.63 316.11,411.63" fill="#13a65c"/>
<polygon points="323.51,416.43 326.63,410.97 320.39,410.97" fill="#13a65c"/>
<polygon points="327.79,417.70 330.91,412.24 324.67,412.24" fill="#13a65c"/>
<polygon points="332.07,416.22 335.19,410.76 328.95,410.76" fill="#13a65c"/>
<polygon points="336.36,416.81 339.48,411.35 333.24,411.35" fill="#13a65c"/>
<polygon points="340.64,417.27 343.76,411.81 337.52,411.81" fill="#13a65c"/>
<polygon points="344.92,415.91 348.04,410.45 341.80,410.45" fill="#13a65c"/>
<polygon points="349.21,416.43 352.33,410.97 346.09,410.97" fill="#13a65c"/>
<polygon points="353.49,416.84 356.61,411.38 350.37,411.38" fill="#13a65c"/>
<polyline points="229.28,446.68 233.57,433.87 237.85,425.47 242.13,422.75 246.41,420.47 250.70,420.80 254.98,420.30 259.26,419.85 263.55,420.17 267.83,419.65 272.11,419.28 276.40,418.75 280.68,418.30 284.96,419.31 289.25,418.48 293.53,419.04 297.81,417.75 302.09,418.91 306.38,418.65 310.66,419.45 314.94,419.41 319.23,418.91 323.51,419.26 327.79,418.90 332.07,419.95 336.36,418.81 340.64,419.67 344.92,418.32 349.21,419.42 353.49,418.72" fill="none" stroke="#c77aef" stroke-width="1.0" stroke-linejoin="round"/>
<polygon points="229.28,443.30 232.66,446.68 229.28,450.06 225.90,446.68" fill="#c77aef"/>
<polygon points="233.57,430.49 236.95,433.87 233.57,437.25 230.19,433.87" fill="#c77aef"/>
<polygon points="237.85,422.09 241.23,425.47 237.85,428.85 234.47,425.47" fill="#c77aef"/>
<polygon points="242.13,419.37 245.51,422.75 242.13,426.13 238.75,422.75" fill="#c77aef"/>
<polygon points="246.41,417.09 249.79,420.47 246.41,423.85 243.03,420.47" fill="#c77aef"/>
<polygon points="250.70,417.42 254.08,420.80 250.70,424.18 247.32,420.80" fill="#c77aef"/>
<polygon points="254.98,416.92 258.36,420.30 254.98,423.68 251.60,420.30" fill="#c77aef"/>
<polygon points="259.26,416.47 262.64,419.85 259.26,423.23 255.88,419.85" fill="#c77aef"/>
<polygon points="263.55,416.79 266.93,420.17 263.55,423.55 260.17,420.17" fill="#c77aef"/>
<polygon points="267.83,416.27 271.21,419.65 267.83,423.03 264.45,419.65" fill="#c77aef"/>
<polygon points="272.11,415.90 275.49,419.28 272.11,422.66 268.73,419.28" fill="#c77aef"/>
<polygon points="276.40,415.37 279.78,418.75 276.40,422.13 273.02,418.75" fill="#c77aef"/>
<polygon points="280.68,414.92 284.06,418.30 280.68,421.68 277.30,418.30" fill="#c77aef"/>
<polygon points="284.96,415.93 288.34,419.31 284.96,422.69 281.58,419.31" fill="#c77aef"/>
<polygon points="289.25,415.10 292.62,418.48 289.25,421.86 285.87,418.48" fill="#c77aef"/>
<polygon points="293.53,415.66 296.91,419.04 293.53,422.42 290.15,419.04" fill="#c77aef"/>
<polygon points="297.81,414.37 301.19,417.75 297.81,421.13 294.43,417.75" fill="#c77aef"/>
<polygon points="302.09,415.53 305.47,418.91 302.09,422.29 298.71,418.91" fill="#c77aef"/>
<polygon points="306.38,415.27 309.76,418.65 306.38,422.03 303.00,418.65" fill="#c77aef"/>
<polygon points="310.66,416.07 314.04,419.45 310.66,422.83 307.28,419.45" fill="#c77aef"/>
<polygon points="314.94,416.03 318.32,419.41 314.94,422.79 311.56,419.41" fill="#c77aef"/>
<polygon points="319.23,415.53 322.61,418.91 319.23,422.29 315.85,418.91" fill="#c77aef"/>
<polygon points="323.51,415.88 326.89,419.26 323.51,422.64 320.13,419.26" fill="#c77aef"/>
<polygon points="327.79,415.52 331.17,418.90 327.79,422.28 324.41,418.90" fill="#c77aef"/>
<polygon points="332.07,416.57 335.45,419.95 332.07,423.33 328.69,419.95" fill="#c77aef"/>
<polygon points="336.36,415.43 339.74,418.81 336.36,422.19 332.98,418.81" fill="#c77aef"/>
<polygon points="340.64,416.29 344.02,419.67 340.64,423.05 337.26,419.67" fill="#c77aef"/>
<polygon points="344.92,414.94 348.30,418.32 344.92,421.70 341.54,418.32" fill="#c77aef"/>
<polygon points="349.21,416.04 352.59,419.42 349.21,422.80 345.83,419.42" fill="#c77aef"/>
<polygon points="353.49,415.34 356.87,418.72 353.49,422.10 350.11,418.72" fill="#c77aef"/>
<polyline points="229.28,449.66 233.57,434.68 237.85,427.71 242.13,426.04 246.41,424.32 250.70,423.88 254.98,422.95 259.26,422.08 263.55,422.09 267.83,422.45 272.11,423.08 276.40,422.75 280.68,422.39 284.96,423.37 289.25,421.81 293.53,422.43 297.81,422.52 302.09,421.98 306.38,422.21 310.66,422.54 314.94,423.27 319.23,422.67 323.51,422.73 327.79,423.47 332.07,422.54 336.36,422.91 340.64,424.31 344.92,423.29 349.21,424.12 353.49,422.93" fill="none" stroke="#e39e12" stroke-width="1.0" stroke-linejoin="round"/>
<polygon points="226.16,449.66 231.62,446.54 231.62,452.78" fill="#e39e12"/>
<polygon points="230.45,434.68 235.91,431.56 235.91,437.80" fill="#e39e12"/>
<polygon points="234.73,427.71 240.19,424.59 240.19,430.83" fill="#e39e12"/>
<polygon points="239.01,426.04 244.47,422.92 244.47,429.16" fill="#e39e12"/>
<polygon points="243.29,424.32 248.75,421.20 248.75,427.44" fill="#e39e12"/>
<polygon points="247.58,423.88 253.04,420.76 253.04,427.00" fill="#e39e12"/>
<polygon points="251.86,422.95 257.32,419.83 257.32,426.07" fill="#e39e12"/>
<polygon points="256.14,422.08 261.60,418.96 261.60,425.20" fill="#e39e12"/>
<polygon points="260.43,422.09 265.89,418.97 265.89,425.21" fill="#e39e12"/>
<polygon points="264.71,422.45 270.17,419.33 270.17,425.57" fill="#e39e12"/>
<polygon points="268.99,423.08 274.45,419.96 274.45,426.20" fill="#e39e12"/>
<polygon points="273.28,422.75 278.74,419.63 278.74,425.87" fill="#e39e12"/>
<polygon points="277.56,422.39 283.02,419.27 283.02,425.51" fill="#e39e12"/>
<polygon points="281.84,423.37 287.30,420.25 287.30,426.49" fill="#e39e12"/>
<polygon points="286.12,421.81 291.58,418.69 291.58,424.93" fill="#e39e12"/>
<polygon points="290.41,422.43 295.87,419.31 295.87,425.55" fill="#e39e12"/>
<polygon points="294.69,422.52 300.15,419.40 300.15,425.64" fill="#e39e12"/>
<polygon points="298.97,421.98 304.43,418.86 304.43,425.10" fill="#e39e12"/>
<polygon points="303.26,422.21 308.72,419.09 308.72,425.33" fill="#e39e12"/>
<polygon points="307.54,422.54 313.00,419.42 313.00,425.66" fill="#e39e12"/>
<polygon points="311.82,423.27 317.28,420.15 317.28,426.39" fill="#e39e12"/>
<polygon points="316.11,422.67 321.57,419.55 321.57,425.79" fill="#e39e12"/>
<polygon points="320.39,422.73 325.85,419.61 325.85,425.85" fill="#e39e12"/>
<polygon points="324.67,423.47 330.13,420.35 330.13,426.59" fill="#e39e12"/>
<polygon points="328.95,422.54 334.41,419.42 334.41,425.66" fill="#e39e12"/>
<polygon points="333.24,422.91 338.70,419.79 338.70,426.03" fill="#e39e12"/>
<polygon points="337.52,424.31 342.98,421.19 342.98,427.43" fill="#e39e12"/>
<polygon points="341.80,423.29 347.26,420.17 347.26,426.41" fill="#e39e12"/>
<polygon points="346.09,424.12 351.55,421.00 351.55,427.24" fill="#e39e12"/>
<polygon points="350.37,422.93 355.83,419.81 355.83,426.05" fill="#e39e12"/>
<text x="224.60" y="468.90" font-size="8" text-anchor="start" fill="#262626" stroke="#262626" stroke-width="0.16">Pulse interval</text>
<line x1="224.60" y1="476.30" x2="242.60" y2="476.30" stroke="#3f3f3f" stroke-width="0.9"/>
<rect x="231.20" y="473.90" width="4.80" height="4.80" fill="#3f3f3f"/>
<text x="245.10" y="479.10" font-size="8" text-anchor="start" fill="#262626" stroke="#262626" stroke-width="0.16">20ms</text>
<line x1="264.50" y1="476.30" x2="282.50" y2="476.30" stroke="#f23a3a" stroke-width="0.9"/>
<circle cx="273.50" cy="476.30" r="2.40" fill="#f23a3a"/>
<text x="285.00" y="479.10" font-size="8" text-anchor="start" fill="#262626" stroke="#262626" stroke-width="0.16">30ms</text>
<line x1="303.90" y1="476.30" x2="321.90" y2="476.30" stroke="#1f6fe0" stroke-width="0.9"/>
<polygon points="312.90,473.42 315.78,478.46 310.02,478.46" fill="#1f6fe0"/>
<text x="324.40" y="479.10" font-size="8" text-anchor="start" fill="#262626" stroke="#262626" stroke-width="0.16">40ms</text>
<line x1="224.60" y1="486.60" x2="242.60" y2="486.60" stroke="#13a65c" stroke-width="0.9"/>
<polygon points="233.60,489.48 236.48,484.44 230.72,484.44" fill="#13a65c"/>
<text x="245.10" y="489.40" font-size="8" text-anchor="start" fill="#262626" stroke="#262626" stroke-width="0.16">50ms</text>
<line x1="264.50" y1="486.60" x2="282.50" y2="486.60" stroke="#c77aef" stroke-width="0.9"/>
<polygon points="273.50,483.48 276.62,486.60 273.50,489.72 270.38,486.60" fill="#c77aef"/>
<text x="285.00" y="489.40" font-size="8" text-anchor="start" fill="#262626" stroke="#262626" stroke-width="0.16">60ms</text>
<line x1="303.90" y1="486.60" x2="321.90" y2="486.60" stroke="#e39e12" stroke-width="0.9"/>
<polygon points="310.02,486.60 315.06,483.72 315.06,489.48" fill="#e39e12"/>
<text x="324.40" y="489.40" font-size="8" text-anchor="start" fill="#262626" stroke="#262626" stroke-width="0.16">70ms</text>
<text x="366.40" y="363.30" font-size="13" text-anchor="start" fill="#262626" stroke="#262626" stroke-width="0.35">(i)</text>
<line x1="403.75" y1="494.60" x2="403.75" y2="496.60" stroke="#333" stroke-width="0.9"/>
<line x1="420.20" y1="494.60" x2="420.20" y2="498.10" stroke="#333" stroke-width="0.9"/>
<line x1="436.65" y1="494.60" x2="436.65" y2="496.60" stroke="#333" stroke-width="0.9"/>
<line x1="453.10" y1="494.60" x2="453.10" y2="498.10" stroke="#333" stroke-width="0.9"/>
<line x1="469.55" y1="494.60" x2="469.55" y2="496.60" stroke="#333" stroke-width="0.9"/>
<line x1="486.00" y1="494.60" x2="486.00" y2="498.10" stroke="#333" stroke-width="0.9"/>
<line x1="502.45" y1="494.60" x2="502.45" y2="496.60" stroke="#333" stroke-width="0.9"/>
<line x1="518.90" y1="494.60" x2="518.90" y2="498.10" stroke="#333" stroke-width="0.9"/>
<line x1="535.35" y1="494.60" x2="535.35" y2="496.60" stroke="#333" stroke-width="0.9"/>
<line x1="403.30" y1="494.48" x2="401.30" y2="494.48" stroke="#333" stroke-width="0.9"/>
<line x1="403.30" y1="481.20" x2="399.80" y2="481.20" stroke="#333" stroke-width="0.9"/>
<line x1="403.30" y1="467.93" x2="401.30" y2="467.93" stroke="#333" stroke-width="0.9"/>
<line x1="403.30" y1="454.65" x2="399.80" y2="454.65" stroke="#333" stroke-width="0.9"/>
<line x1="403.30" y1="441.38" x2="401.30" y2="441.38" stroke="#333" stroke-width="0.9"/>
<line x1="403.30" y1="428.10" x2="399.80" y2="428.10" stroke="#333" stroke-width="0.9"/>
<line x1="403.30" y1="414.82" x2="401.30" y2="414.82" stroke="#333" stroke-width="0.9"/>
<line x1="403.30" y1="401.55" x2="399.80" y2="401.55" stroke="#333" stroke-width="0.9"/>
<line x1="403.30" y1="388.27" x2="401.30" y2="388.27" stroke="#333" stroke-width="0.9"/>
<line x1="403.30" y1="375.00" x2="399.80" y2="375.00" stroke="#333" stroke-width="0.9"/>
<rect x="403.30" y="362.10" width="132.10" height="132.50" fill="none" stroke="#333" stroke-width="1.3"/>
<text x="420.20" y="507.80" font-size="8" text-anchor="middle" fill="#262626" stroke="#262626" stroke-width="0.16">0.0</text>
<text x="453.10" y="507.80" font-size="8" text-anchor="middle" fill="#262626" stroke="#262626" stroke-width="0.16">0.2</text>
<text x="486.00" y="507.80" font-size="8" text-anchor="middle" fill="#262626" stroke="#262626" stroke-width="0.16">0.4</text>
<text x="518.90" y="507.80" font-size="8" text-anchor="middle" fill="#262626" stroke="#262626" stroke-width="0.16">0.6</text>
<text x="396.50" y="484.00" font-size="8" text-anchor="end" fill="#262626" stroke="#262626" stroke-width="0.16">1.00</text>
<text x="396.50" y="457.45" font-size="8" text-anchor="end" fill="#262626" stroke="#262626" stroke-width="0.16">1.05</text>
<text x="396.50" y="430.90" font-size="8" text-anchor="end" fill="#262626" stroke="#262626" stroke-width="0.16">1.10</text>
<text x="396.50" y="404.35" font-size="8" text-anchor="end" fill="#262626" stroke="#262626" stroke-width="0.16">1.15</text>
<text x="396.50" y="377.80" font-size="8" text-anchor="end" fill="#262626" stroke="#262626" stroke-width="0.16">1.20</text>
<text x="469.50" y="521.80" font-size="8" text-anchor="middle" fill="#262626" stroke="#262626" stroke-width="0.16">&#916;t (s)</text>
<text x="376.30" y="427.50" font-size="7.6" text-anchor="middle" fill="#262626" stroke="#262626" stroke-width="0.16" transform="rotate(-90 376.30 427.50)">PPF index</text>
<polyline points="426.78,383.31 427.71,390.88 428.64,397.05 429.57,402.13 430.50,406.35 431.43,409.87 432.36,412.86 433.29,415.41 434.22,417.62 435.15,419.55 436.09,421.27 437.02,422.82 437.95,424.22 438.88,425.51 439.81,426.71 440.74,427.83 441.67,428.90 442.60,429.90 443.53,430.87 444.46,431.80 445.39,432.70 446.32,433.57 447.25,434.42 448.18,435.24 449.11,436.05 450.04,436.84 450.97,437.62 451.90,438.37 452.83,439.12 453.76,439.85 454.70,440.57 455.63,441.28 456.56,441.97 457.49,442.66 458.42,443.33 459.35,443.99 460.28,444.64 461.21,445.28 462.14,445.92 463.07,446.54 464.00,447.15 464.93,447.76 465.86,448.35 466.79,448.94 467.72,449.51 468.65,450.08 469.58,450.64 470.51,451.19 471.44,451.73 472.37,452.27 473.31,452.79 474.24,453.31 475.17,453.82 476.10,454.32 477.03,454.82 477.96,455.31 478.89,455.79 479.82,456.26 480.75,456.72 481.68,457.18 482.61,457.64 483.54,458.08 484.47,458.52 485.40,458.95 486.33,459.38 487.26,459.80 488.19,460.21 489.12,460.61 490.05,461.01 490.98,461.41 491.92,461.80 492.85,462.18 493.78,462.56 494.71,462.93 495.64,463.29 496.57,463.65 497.50,464.01 498.43,464.36 499.36,464.70 500.29,465.04 501.22,465.37 502.15,465.70 503.08,466.03 504.01,466.34 504.94,466.66 505.87,466.97 506.80,467.27 507.73,467.57 508.66,467.87 509.59,468.16 510.53,468.45 511.46,468.73 512.39,469.01 513.32,469.28 514.25,469.55 515.18,469.82 516.11,470.08 517.04,470.34 517.97,470.59 518.90,470.84" fill="none" stroke="#f03030" stroke-width="1.0" stroke-linejoin="round"/>
<rect x="423.95" y="376.75" width="5.00" height="5.00" fill="#111"/>
<rect x="427.57" y="403.83" width="5.00" height="5.00" fill="#111"/>
<rect x="434.15" y="421.35" width="5.00" height="5.00" fill="#111"/>
<rect x="450.60" y="434.10" width="5.00" height="5.00" fill="#111"/>
<rect x="467.05" y="445.25" width="5.00" height="5.00" fill="#111"/>
<rect x="483.50" y="460.12" width="5.00" height="5.00" fill="#111"/>
<rect x="516.40" y="472.06" width="5.00" height="5.00" fill="#111"/>
<path d="M466.1,400.9 L477.8,400.9 L477.8,380.1 L488.8,380.1 L488.8,400.9 L499.7,400.9 L499.7,380.1 L510.9,380.1 L510.9,400.9 L522.2,400.9" fill="none" stroke="#333" stroke-width="1.0" stroke-linejoin="round" stroke-linecap="round"/>
<line x1="488.80" y1="400.90" x2="488.80" y2="412.80" stroke="#333" stroke-width="0.9" stroke-dasharray="1.2,1.2"/>
<line x1="499.70" y1="400.90" x2="499.70" y2="412.80" stroke="#333" stroke-width="0.9" stroke-dasharray="1.2,1.2"/>
<text x="494.20" y="409.30" font-size="8" text-anchor="middle" fill="#262626" stroke="#262626" stroke-width="0.16">&#916;t</text>
<text x="481.80" y="372.90" font-size="8" text-anchor="middle" fill="#262626" stroke="#262626" stroke-width="0.16">100ms</text>
<text x="513.30" y="390.10" font-size="8" text-anchor="start" fill="#262626" stroke="#262626" stroke-width="0.16">1V</text>
<text x="439.60" y="390.10" font-size="8" text-anchor="start" fill="#262626" stroke="#262626" stroke-width="0.16"><tspan font-style="italic">V</tspan><tspan font-size="5.5" dy="2">g</tspan><tspan dy="-2">-pulses</tspan></text>
</svg></body></html>
